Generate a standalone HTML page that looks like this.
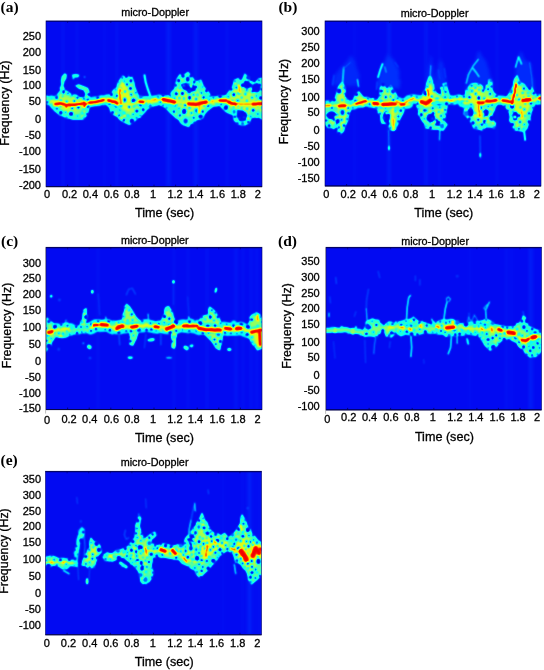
<!DOCTYPE html>
<html lang="en"><head><meta charset="utf-8"><title>micro-Doppler</title>
<style>html,body{margin:0;padding:0;background:#fff}body{width:544px;height:670px;overflow:hidden}svg{display:block}</style>
</head><body>
<svg width="544" height="670" viewBox="0 0 544 670">
<defs>
<filter id="jet" x="0" y="0" width="100%" height="100%" filterUnits="objectBoundingBox" color-interpolation-filters="sRGB">
<feConvolveMatrix order="3" kernelMatrix="1 2 1 2 4 2 1 2 1" divisor="16" edgeMode="duplicate" preserveAlpha="true"/>
<feComponentTransfer>
<feFuncR type="table" tableValues="0.01 0.00 0.00 0.00 0.20 0.55 0.85 1.00 1.00 1.00 0.95"/>
<feFuncG type="table" tableValues="0.04 0.20 0.58 1.00 1.00 1.00 1.00 0.90 0.50 0.12 0.00"/>
<feFuncB type="table" tableValues="0.95 1.00 1.00 1.00 0.75 0.40 0.10 0.00 0.00 0.00 0.00"/>
<feFuncA type="linear" slope="0" intercept="1"/>
</feComponentTransfer>
</filter>
<filter id="hz" x="-20%" y="-20%" width="140%" height="140%" color-interpolation-filters="sRGB"><feGaussianBlur stdDeviation="1.4"/></filter>
</defs>
<rect width="544" height="670" fill="#fff"/>
<svg x="46" y="21" width="216.00" height="165.70" viewBox="46 21 216.00 165.70" overflow="hidden">
<g filter="url(#jet)">
<rect x="41" y="16" width="226.00" height="175.70" fill="#000"/>
<g filter="url(#hz)">
<rect x="62.0" y="21.0" width="2.0" height="165.7" fill="#090909"/>
<rect x="76.2" y="21.0" width="1.5" height="165.7" fill="#090909"/>
<rect x="104.2" y="21.0" width="1.5" height="165.7" fill="#070707"/>
<rect x="116.0" y="21.0" width="1.5" height="165.7" fill="#0b0b0b"/>
<rect x="166.5" y="21.0" width="4.0" height="165.7" fill="#0c0c0c"/>
<rect x="194.2" y="21.0" width="3.5" height="165.7" fill="#0c0c0c"/>
<rect x="226.2" y="21.0" width="1.5" height="165.7" fill="#090909"/>
</g>
<polygon points="47.6,99.2 53.2,97.4 57.0,95.3 59.9,91.4 63.8,90.1 67.5,91.6 71.9,94.9 76.0,95.1 79.8,97.8 84.8,97.9 85.8,94.5 89.3,93.5 89.5,98.7 88.8,102.7 88.9,106.9 88.5,110.3 87.4,113.4 86.2,115.9 83.1,119.1 78.5,119.4 73.3,119.4 69.4,118.2 66.2,117.7 63.0,116.0 59.9,115.0 54.1,110.3 53.2,108.4 51.1,106.1 47.1,103.1" fill="#666666" stroke="#666666" stroke-width="0.8" stroke-linejoin="round"/>
<polygon points="60.7,91.3 60.0,87.9 61.5,85.1 61.2,80.5 62.0,76.4 64.6,73.5 66.5,74.5 66.0,78.5 64.2,81.6 63.1,85.7 64.6,89.4 64.3,91.6" fill="#666666" stroke="#666666" stroke-width="0.8" stroke-linejoin="round"/>
<ellipse cx="75.6" cy="75.7" rx="3.86" ry="1.99" fill="#5c5c5c"/>
<ellipse cx="73.4" cy="77.9" rx="1.10" ry="1.54" fill="#545454"/>
<ellipse cx="84.6" cy="77.0" rx="0.88" ry="0.88" fill="#404040"/>
<polygon points="75.5,85.8 78.7,84.6 84.0,86.6 87.9,88.2 88.8,90.5 89.9,94.7 86.0,95.0 85.1,92.6 83.7,89.9 78.9,88.5 77.0,86.9" fill="#6b6b6b" stroke="#6b6b6b" stroke-width="0.8" stroke-linejoin="round"/>
<path d="M46.0 99.6 L48.9 100.7 L51.5 100.4" fill="none" stroke="#4c4c4c" stroke-width="9.00" stroke-linecap="round" stroke-linejoin="round"/>
<path d="M51.5 100.4 L53.9 103.0 L54.8 104.9 L61.0 103.7 L63.0 103.4 L65.0 105.7 L68.1 105.2 L70.9 105.4 L74.1 104.2 L75.9 104.7 L78.3 103.6 L83.6 104.1 L86.1 103.7 L90.0 102.2 L91.0 102.0 L94.4 101.4 L98.4 101.3 L101.8 99.9 L104.2 100.3 L107.8 99.1" fill="none" stroke="#4c4c4c" stroke-width="10.12" stroke-linecap="round" stroke-linejoin="round"/>
<polygon points="106.2,98.7 109.1,95.8 111.7,93.2 113.6,90.0 117.0,87.7 117.7,83.7 120.4,79.2 122.9,75.9 125.8,79.2 128.5,77.2 130.8,73.7 131.9,77.0 133.0,79.9 133.9,82.6 134.7,86.7 136.3,91.0 137.3,93.5 139.1,96.6 146.0,97.2 149.5,96.8 153.1,97.6 158.4,96.9 162.4,96.8 161.6,102.9 159.0,103.9 155.3,105.2 151.6,106.3 149.0,107.9 146.6,109.5 144.6,112.3 142.1,114.8 139.0,117.1 135.2,120.4 132.5,122.4 129.5,124.6 124.2,122.2 120.8,120.2 117.7,116.7 113.9,114.7 110.8,111.9 109.7,107.4 106.8,104.9 106.5,100.9" fill="#666666" stroke="#666666" stroke-width="0.8" stroke-linejoin="round"/>
<path d="M144.5 75.2 L145.6 81.9 L147.6 88.5 L150.2 95.7" fill="none" stroke="#5c5c5c" stroke-width="2.40" stroke-linecap="round" stroke-linejoin="round"/>
<path d="M103.2 100.4 L106.5 100.2 L109.1 99.7 L111.7 101.4 L114.3 101.2 L118.5 103.4 L121.9 103.0 L124.0 104.4 L126.8 104.5 L129.1 103.6 L131.5 102.9 L134.8 103.1 L137.3 101.7 L139.1 101.2 L143.1 102.5 L146.1 100.7 L147.4 102.1 L150.8 101.3 L153.2 100.2 L156.2 99.6 L159.0 99.1 L161.8 100.8 L164.1 100.4" fill="none" stroke="#4c4c4c" stroke-width="9.56" stroke-linecap="round" stroke-linejoin="round"/>
<path d="M147.4 101.7 L149.7 101.2 L153.0 101.6 L155.5 101.5 L159.4 100.0 L162.6 99.7" fill="none" stroke="#4c4c4c" stroke-width="9.56" stroke-linecap="round" stroke-linejoin="round"/>
<polygon points="158.4,99.9 161.3,98.2 163.8,97.1 167.3,96.1 170.1,95.8 171.9,91.8 174.8,89.1 175.5,85.2 176.1,82.8 177.2,78.6 179.9,74.6 182.0,76.3 185.5,74.0 188.0,72.2 190.4,75.0 193.3,78.8 194.7,81.4 197.8,81.5 200.8,80.0 203.2,85.9 205.5,89.1 207.5,91.0 209.3,93.5 210.6,96.3 216.8,99.6 219.8,98.5 223.9,98.2 224.0,104.2 220.2,104.9 217.5,105.3 214.0,105.8 209.8,108.7 207.4,110.7 204.3,114.3 203.0,117.7 200.3,119.1 196.7,119.6 193.7,122.6 190.4,123.6 188.7,126.7 182.5,124.4 180.4,122.3 178.9,119.4 176.1,118.0 173.2,115.3 169.7,112.1 167.9,109.9 164.5,107.0 161.6,105.4 158.5,103.2" fill="#666666" stroke="#666666" stroke-width="0.8" stroke-linejoin="round"/>
<path d="M162.6 99.7 L166.1 100.5 L169.2 101.3 L172.1 101.9 L175.3 102.0 L177.3 102.5 L180.6 102.4 L182.7 102.3 L186.0 104.2 L188.2 103.1 L190.5 103.4 L193.3 104.2 L195.5 102.8 L198.3 103.2 L202.1 102.2 L203.5 102.5 L207.1 103.1 L208.7 101.3 L211.6 101.2 L214.7 101.8 L218.3 100.5 L220.6 100.3 L224.1 100.4" fill="none" stroke="#4c4c4c" stroke-width="10.12" stroke-linecap="round" stroke-linejoin="round"/>
<polygon points="216.5,100.0 219.9,98.1 222.4,97.0 226.2,95.6 228.8,91.9 232.2,88.0 233.5,83.9 234.4,80.1 238.4,78.5 239.9,81.6 242.6,79.5 244.8,74.0 248.1,77.2 249.9,81.8 255.1,83.0 259.0,78.7 262.9,78.2 263.0,81.4 263.1,84.1 263.1,87.4 263.5,91.1 262.8,93.9 263.0,97.4 263.2,100.6 262.8,104.1 263.3,107.0 262.7,109.5 263.0,113.3 262.9,115.8 262.8,119.5 259.0,117.0 255.9,116.8 251.3,117.7 249.3,122.6 245.1,124.9 241.2,124.8 238.4,124.1 234.4,120.5 233.1,114.6 229.5,113.5 226.1,111.7 224.8,110.5 222.3,108.0 219.7,105.4 215.5,103.4" fill="#666666" stroke="#666666" stroke-width="0.8" stroke-linejoin="round"/>
<path d="M214.6 101.0 L217.3 101.4 L219.1 100.9 L222.5 100.6 L227.3 99.7 L228.7 101.5 L231.4 102.2 L235.5 103.9 L237.5 103.3 L240.9 103.0 L242.8 104.8 L246.4 104.1 L250.6 104.9 L252.9 103.6 L255.2 104.7 L258.9 103.3 L261.5 103.5 L263.5 103.7" fill="none" stroke="#4c4c4c" stroke-width="10.12" stroke-linecap="round" stroke-linejoin="round"/>
<polygon points="56.6,101.3 60.0,100.2 62.4,98.9 64.2,96.5 66.6,95.7 68.9,96.6 71.6,98.7 74.2,98.8 76.5,100.4 79.6,100.5 80.2,98.4 82.4,97.8 82.5,101.0 82.1,103.5 82.1,106.1 81.9,108.2 81.2,110.1 80.5,111.7 78.6,113.7 75.7,113.9 72.5,113.9 70.1,113.1 68.1,112.8 66.1,111.8 64.2,111.1 60.6,108.2 60.0,107.0 58.7,105.6 56.2,103.8" fill="#7d7d7d" stroke="#7d7d7d" stroke-width="0.8" stroke-linejoin="round"/>
<path d="M46.0 99.6 L48.3 99.5 L51.5 100.4" fill="none" stroke="#666666" stroke-width="5.76" stroke-linecap="round" stroke-linejoin="round"/>
<path d="M51.5 100.4 L54.1 102.4 L55.6 104.2 L59.8 102.8 L62.4 104.7 L66.1 105.5 L67.9 105.0 L71.3 105.1 L73.7 105.3 L75.9 104.4 L79.4 104.6 L83.8 103.8 L86.3 104.6 L89.0 103.0 L92.4 103.0 L94.4 102.6 L99.4 101.6 L101.9 100.4 L104.6 99.8 L107.8 99.1" fill="none" stroke="#666666" stroke-width="6.48" stroke-linecap="round" stroke-linejoin="round"/>
<polygon points="116.0,99.0 117.8,97.1 119.4,95.5 120.6,93.5 122.7,92.1 123.1,89.6 124.8,86.9 126.4,84.8 128.1,86.9 129.8,85.6 131.2,83.4 132.0,85.5 132.6,87.3 133.2,89.0 133.7,91.5 134.7,94.2 135.3,95.8 136.4,97.6 140.7,98.1 142.9,97.8 145.1,98.3 148.3,97.9 150.8,97.8 150.3,101.6 148.7,102.2 146.4,103.0 144.2,103.6 142.6,104.7 141.0,105.6 139.8,107.4 138.3,109.0 136.3,110.4 134.0,112.4 132.3,113.6 130.5,115.0 127.2,113.6 125.0,112.3 123.1,110.1 120.8,108.9 118.8,107.2 118.2,104.4 116.4,102.8 116.2,100.3" fill="#7d7d7d" stroke="#7d7d7d" stroke-width="0.8" stroke-linejoin="round"/>
<path d="M103.2 100.4 L105.4 100.3 L108.9 100.2 L111.4 100.6 L115.2 101.0 L118.7 103.1 L121.4 104.2 L124.1 103.8 L127.0 104.1 L130.4 104.8 L131.8 104.3 L135.0 103.4 L137.6 102.2 L140.2 102.2 L142.8 101.9 L145.7 101.3 L148.5 100.7 L150.7 100.7 L152.8 100.0 L156.4 99.9 L158.4 100.6 L161.7 99.9 L164.1 100.4" fill="none" stroke="#666666" stroke-width="6.12" stroke-linecap="round" stroke-linejoin="round"/>
<path d="M147.4 101.7 L149.6 102.2 L153.2 102.0 L154.6 100.7 L158.6 100.4 L162.6 99.7" fill="none" stroke="#666666" stroke-width="6.12" stroke-linecap="round" stroke-linejoin="round"/>
<polygon points="170.3,99.8 172.1,98.7 173.7,98.0 175.8,97.4 177.6,97.2 178.7,94.8 180.5,93.1 180.9,90.7 181.3,89.2 182.0,86.6 183.6,84.1 185.0,85.1 187.1,83.7 188.7,82.6 190.2,84.3 192.0,86.7 192.8,88.3 194.7,88.4 196.6,87.4 198.1,91.1 199.5,93.1 200.8,94.3 201.9,95.8 202.7,97.5 206.5,99.6 208.4,98.9 210.9,98.7 211.0,102.5 208.6,102.9 206.9,103.1 204.8,103.4 202.2,105.2 200.7,106.5 198.8,108.7 198.0,110.8 196.3,111.7 194.1,112.0 192.2,113.9 190.2,114.5 189.1,116.4 185.3,115.0 184.0,113.7 183.0,111.9 181.3,111.0 179.5,109.3 177.3,107.3 176.2,106.0 174.1,104.2 172.3,103.2 170.4,101.8" fill="#7d7d7d" stroke="#7d7d7d" stroke-width="0.8" stroke-linejoin="round"/>
<path d="M162.6 99.7 L165.1 100.6 L168.3 100.8 L172.0 101.2 L174.1 102.2 L177.8 101.9 L180.1 103.1 L182.8 102.5 L185.0 103.9 L188.8 103.5 L191.1 103.5 L193.4 104.0 L196.5 102.8 L198.3 102.9 L201.4 103.2 L204.6 102.7 L206.4 101.9 L209.3 101.7 L212.7 101.7 L215.4 102.1 L217.8 101.1 L220.6 101.1 L224.1 100.4" fill="none" stroke="#666666" stroke-width="6.48" stroke-linecap="round" stroke-linejoin="round"/>
<polygon points="227.3,99.9 229.4,98.7 230.9,98.0 233.3,97.2 234.9,94.9 237.0,92.5 237.8,89.9 238.4,87.5 240.9,86.6 241.8,88.5 243.5,87.2 244.8,83.8 246.9,85.8 248.0,88.6 251.2,89.4 253.6,86.7 256.0,86.4 256.1,88.4 256.2,90.0 256.2,92.1 256.4,94.4 256.0,96.1 256.1,98.3 256.3,100.3 256.0,102.4 256.3,104.2 255.9,105.8 256.1,108.1 256.1,109.7 256.0,112.0 253.6,110.4 251.7,110.3 248.8,110.9 247.6,113.9 245.0,115.3 242.6,115.3 240.9,114.8 238.4,112.6 237.6,108.9 235.3,108.2 233.2,107.1 232.5,106.4 230.9,104.8 229.3,103.3 226.7,102.0" fill="#7d7d7d" stroke="#7d7d7d" stroke-width="0.8" stroke-linejoin="round"/>
<path d="M214.6 101.0 L217.2 100.3 L220.4 101.1 L222.7 100.7 L226.0 101.2 L228.5 101.3 L232.1 102.8 L235.3 103.8 L238.0 103.0 L241.0 104.4 L243.6 103.5 L246.4 103.8 L250.1 103.7 L252.5 103.7 L255.8 104.4 L258.1 104.1 L261.4 103.9 L263.5 103.7" fill="none" stroke="#666666" stroke-width="6.48" stroke-linecap="round" stroke-linejoin="round"/>
<polygon points="181.1,84.5 185.7,83.2 193.7,85.2 195.7,90.5 189.7,91.8 183.1,89.1" fill="#000000" stroke="#000000" stroke-width="0.8" stroke-linejoin="round"/>
<ellipse cx="187.7" cy="79.2" rx="1.9" ry="2.6" fill="#000000"/>
<ellipse cx="247.0" cy="84.5" rx="3.4" ry="4.2" fill="#000000"/>
<ellipse cx="256.2" cy="87.8" rx="4.5" ry="4.8" fill="#000000"/>
<polygon points="237.7,109.6 243.7,109.0 247.0,114.9 245.7,120.2 239.7,120.9 237.1,116.3" fill="#000000" stroke="#000000" stroke-width="0.8" stroke-linejoin="round"/>
<circle cx="84.2" cy="111.6" r="1.24" fill="#848484"/>
<circle cx="61.2" cy="95.5" r="1.49" fill="#888888"/>
<circle cx="65.1" cy="92.3" r="1.23" fill="#9d9d9d"/>
<circle cx="61.1" cy="101.9" r="1.45" fill="#979797"/>
<circle cx="82.2" cy="116.8" r="1.01" fill="#8f8f8f"/>
<circle cx="60.1" cy="102.4" r="1.36" fill="#9d9d9d"/>
<circle cx="64.8" cy="94.7" r="1.17" fill="#858585"/>
<circle cx="49.6" cy="102.3" r="1.46" fill="#9d9d9d"/>
<circle cx="82.9" cy="105.2" r="1.23" fill="#888888"/>
<circle cx="54.3" cy="105.3" r="1.42" fill="#929292"/>
<circle cx="58.2" cy="97.2" r="1.30" fill="#9a9a9a"/>
<circle cx="86.8" cy="96.7" r="0.94" fill="#8f8f8f"/>
<circle cx="56.9" cy="97.3" r="1.15" fill="#999999"/>
<circle cx="67.7" cy="95.9" r="0.95" fill="#868686"/>
<circle cx="72.8" cy="97.4" r="0.95" fill="#8f8f8f"/>
<circle cx="82.2" cy="113.4" r="1.37" fill="#8d8d8d"/>
<circle cx="75.3" cy="101.7" r="1.41" fill="#939393"/>
<circle cx="59.8" cy="104.3" r="1.04" fill="#929292"/>
<circle cx="74.8" cy="108.3" r="1.17" fill="#888888"/>
<circle cx="69.0" cy="108.3" r="1.11" fill="#878787"/>
<circle cx="81.6" cy="104.3" r="1.46" fill="#828282"/>
<circle cx="70.0" cy="105.0" r="1.20" fill="#959595"/>
<circle cx="128.7" cy="109.9" r="1.41" fill="#999999"/>
<circle cx="139.8" cy="116.4" r="1.35" fill="#9c9c9c"/>
<circle cx="116.7" cy="91.0" r="1.20" fill="#808080"/>
<circle cx="122.2" cy="118.1" r="1.49" fill="#8f8f8f"/>
<circle cx="123.6" cy="107.1" r="1.39" fill="#8d8d8d"/>
<circle cx="130.5" cy="110.0" r="1.01" fill="#8a8a8a"/>
<circle cx="119.9" cy="116.0" r="1.35" fill="#8c8c8c"/>
<circle cx="112.7" cy="99.8" r="1.07" fill="#939393"/>
<circle cx="124.6" cy="115.8" r="1.41" fill="#959595"/>
<circle cx="125.1" cy="120.9" r="0.94" fill="#9e9e9e"/>
<circle cx="115.8" cy="114.2" r="1.46" fill="#838383"/>
<circle cx="120.1" cy="118.3" r="1.47" fill="#8b8b8b"/>
<circle cx="130.1" cy="74.9" r="1.49" fill="#929292"/>
<circle cx="125.2" cy="85.1" r="1.37" fill="#8f8f8f"/>
<circle cx="126.8" cy="97.4" r="1.40" fill="#868686"/>
<circle cx="109.0" cy="101.1" r="1.03" fill="#818181"/>
<circle cx="112.3" cy="98.1" r="1.16" fill="#888888"/>
<circle cx="122.7" cy="98.9" r="1.05" fill="#9d9d9d"/>
<circle cx="125.3" cy="96.9" r="1.47" fill="#8f8f8f"/>
<circle cx="119.4" cy="97.9" r="1.49" fill="#999999"/>
<circle cx="123.7" cy="77.4" r="1.46" fill="#898989"/>
<circle cx="110.8" cy="95.1" r="1.36" fill="#8b8b8b"/>
<circle cx="132.4" cy="109.6" r="0.93" fill="#919191"/>
<circle cx="149.0" cy="104.9" r="1.17" fill="#9d9d9d"/>
<circle cx="151.4" cy="100.8" r="1.11" fill="#878787"/>
<circle cx="145.3" cy="100.5" r="1.32" fill="#838383"/>
<circle cx="116.8" cy="102.6" r="0.90" fill="#9b9b9b"/>
<circle cx="154.4" cy="101.2" r="0.96" fill="#8b8b8b"/>
<circle cx="124.3" cy="100.2" r="1.16" fill="#848484"/>
<circle cx="107.0" cy="96.8" r="0.99" fill="#868686"/>
<circle cx="112.1" cy="103.0" r="1.24" fill="#888888"/>
<circle cx="146.2" cy="102.4" r="1.02" fill="#9a9a9a"/>
<circle cx="160.5" cy="97.6" r="1.41" fill="#8b8b8b"/>
<circle cx="151.4" cy="103.8" r="1.04" fill="#9d9d9d"/>
<circle cx="182.6" cy="105.3" r="1.05" fill="#939393"/>
<circle cx="202.4" cy="96.3" r="1.37" fill="#828282"/>
<circle cx="181.3" cy="116.8" r="1.35" fill="#808080"/>
<circle cx="192.2" cy="115.0" r="1.16" fill="#909090"/>
<circle cx="184.1" cy="101.4" r="1.30" fill="#939393"/>
<circle cx="191.2" cy="86.8" r="1.02" fill="#909090"/>
<circle cx="186.2" cy="102.2" r="1.48" fill="#828282"/>
<circle cx="175.2" cy="90.0" r="0.93" fill="#858585"/>
<circle cx="178.1" cy="91.9" r="1.36" fill="#8d8d8d"/>
<circle cx="207.9" cy="102.4" r="1.47" fill="#909090"/>
<circle cx="216.2" cy="101.6" r="1.15" fill="#838383"/>
<circle cx="194.8" cy="97.5" r="1.16" fill="#949494"/>
<circle cx="214.1" cy="103.7" r="1.30" fill="#969696"/>
<circle cx="193.6" cy="104.9" r="1.46" fill="#959595"/>
<circle cx="212.7" cy="99.3" r="1.41" fill="#838383"/>
<circle cx="208.9" cy="108.2" r="1.12" fill="#8f8f8f"/>
<circle cx="188.4" cy="99.6" r="1.21" fill="#9b9b9b"/>
<circle cx="181.1" cy="80.0" r="1.41" fill="#8e8e8e"/>
<circle cx="202.0" cy="87.8" r="1.18" fill="#808080"/>
<circle cx="197.2" cy="111.2" r="0.91" fill="#9b9b9b"/>
<circle cx="199.6" cy="94.7" r="1.15" fill="#8e8e8e"/>
<circle cx="178.6" cy="118.7" r="0.91" fill="#949494"/>
<circle cx="204.8" cy="89.2" r="1.23" fill="#8d8d8d"/>
<circle cx="167.6" cy="102.8" r="1.28" fill="#858585"/>
<circle cx="161.1" cy="104.8" r="1.25" fill="#868686"/>
<circle cx="185.9" cy="111.6" r="1.00" fill="#888888"/>
<circle cx="190.4" cy="110.7" r="1.45" fill="#8a8a8a"/>
<circle cx="200.8" cy="82.0" r="1.43" fill="#828282"/>
<circle cx="176.1" cy="114.2" r="0.99" fill="#808080"/>
<circle cx="176.1" cy="100.4" r="0.95" fill="#8b8b8b"/>
<circle cx="174.3" cy="103.2" r="1.14" fill="#949494"/>
<circle cx="220.4" cy="104.3" r="1.32" fill="#9b9b9b"/>
<circle cx="176.8" cy="95.6" r="1.36" fill="#8d8d8d"/>
<circle cx="193.3" cy="97.6" r="1.18" fill="#949494"/>
<circle cx="168.5" cy="96.7" r="1.26" fill="#858585"/>
<circle cx="190.8" cy="85.1" r="1.37" fill="#9c9c9c"/>
<circle cx="212.7" cy="104.5" r="1.00" fill="#8a8a8a"/>
<circle cx="162.7" cy="102.9" r="1.20" fill="#8b8b8b"/>
<circle cx="222.9" cy="99.6" r="1.36" fill="#929292"/>
<circle cx="198.9" cy="100.7" r="1.33" fill="#8c8c8c"/>
<circle cx="164.0" cy="101.7" r="1.48" fill="#999999"/>
<circle cx="202.1" cy="102.5" r="1.25" fill="#989898"/>
<circle cx="174.3" cy="101.0" r="0.98" fill="#8a8a8a"/>
<circle cx="175.7" cy="101.8" r="1.49" fill="#969696"/>
<circle cx="252.4" cy="99.0" r="1.17" fill="#8b8b8b"/>
<circle cx="259.0" cy="81.1" r="1.31" fill="#9b9b9b"/>
<circle cx="248.7" cy="113.4" r="1.22" fill="#8b8b8b"/>
<circle cx="244.4" cy="98.3" r="1.25" fill="#818181"/>
<circle cx="245.2" cy="110.9" r="1.15" fill="#848484"/>
<circle cx="235.1" cy="82.9" r="1.29" fill="#999999"/>
<circle cx="242.4" cy="98.2" r="1.20" fill="#878787"/>
<circle cx="248.0" cy="118.3" r="1.37" fill="#949494"/>
<circle cx="228.9" cy="108.3" r="1.42" fill="#878787"/>
<circle cx="247.2" cy="80.0" r="1.09" fill="#8b8b8b"/>
<circle cx="234.9" cy="107.7" r="1.04" fill="#8a8a8a"/>
<circle cx="255.7" cy="108.5" r="1.31" fill="#919191"/>
<circle cx="257.0" cy="116.7" r="1.39" fill="#828282"/>
<circle cx="248.4" cy="121.6" r="1.01" fill="#939393"/>
<circle cx="225.5" cy="96.4" r="1.05" fill="#868686"/>
<circle cx="244.7" cy="102.3" r="0.99" fill="#919191"/>
<circle cx="249.2" cy="94.7" r="1.41" fill="#9c9c9c"/>
<circle cx="225.7" cy="100.5" r="0.97" fill="#969696"/>
<circle cx="233.0" cy="105.1" r="1.00" fill="#868686"/>
<circle cx="251.3" cy="82.4" r="1.40" fill="#848484"/>
<circle cx="224.3" cy="105.9" r="1.00" fill="#888888"/>
<circle cx="231.7" cy="100.7" r="1.28" fill="#878787"/>
<circle cx="261.0" cy="110.3" r="1.47" fill="#8a8a8a"/>
<circle cx="256.0" cy="106.6" r="0.90" fill="#838383"/>
<circle cx="254.8" cy="106.5" r="1.35" fill="#969696"/>
<circle cx="217.5" cy="98.0" r="0.92" fill="#848484"/>
<circle cx="217.5" cy="101.1" r="1.19" fill="#919191"/>
<polygon points="47.6,99.2 53.2,97.4 57.0,95.3 59.9,91.4 63.8,90.1 67.5,91.6 71.9,94.9 76.0,95.1 79.8,97.8 84.8,97.9 85.8,94.5 89.3,93.5 89.5,98.7 88.8,102.7 88.9,106.9 88.5,110.3 87.4,113.4 86.2,115.9 83.1,119.1 78.5,119.4 73.3,119.4 69.4,118.2 66.2,117.7 63.0,116.0 59.9,115.0 54.1,110.3 53.2,108.4 51.1,106.1 47.1,103.1" fill="none" stroke="#5c5c5c" stroke-width="1.3" stroke-linejoin="round"/>
<polygon points="53.7,100.4 61.4,96.0 68.1,98.2 82.4,99.3 85.7,102.4 84.6,107.0 76.9,110.3 68.1,112.5 62.5,109.2 55.9,105.9" fill="#8c8c8c" stroke="#8c8c8c" stroke-width="0.8" stroke-linejoin="round"/>
<path d="M46.0 99.6 L49.2 100.4 L51.5 100.4" fill="none" stroke="#737373" stroke-width="3.24" stroke-linecap="round" stroke-linejoin="round"/>
<path d="M51.5 100.4 L52.9 102.4 L56.0 104.5 L60.6 103.4 L63.4 104.3 L65.8 105.2 L68.1 105.1 L70.8 104.9 L73.9 104.2 L76.8 104.3 L79.2 104.6 L83.2 102.9 L85.7 104.3 L88.9 102.3 L92.4 102.6 L94.5 102.6 L98.7 101.7 L101.3 100.5 L104.8 100.1 L107.8 99.1" fill="none" stroke="#808080" stroke-width="3.65" stroke-linecap="round" stroke-linejoin="round"/>
<polygon points="106.2,98.7 109.1,95.8 111.7,93.2 113.6,90.0 117.0,87.7 117.7,83.7 120.4,79.2 122.9,75.9 125.8,79.2 128.5,77.2 130.8,73.7 131.9,77.0 133.0,79.9 133.9,82.6 134.7,86.7 136.3,91.0 137.3,93.5 139.1,96.6 146.0,97.2 149.5,96.8 153.1,97.6 158.4,96.9 162.4,96.8 161.6,102.9 159.0,103.9 155.3,105.2 151.6,106.3 149.0,107.9 146.6,109.5 144.6,112.3 142.1,114.8 139.0,117.1 135.2,120.4 132.5,122.4 129.5,124.6 124.2,122.2 120.8,120.2 117.7,116.7 113.9,114.7 110.8,111.9 109.7,107.4 106.8,104.9 106.5,100.9" fill="none" stroke="#5c5c5c" stroke-width="1.3" stroke-linejoin="round"/>
<polygon points="118.5,88.5 122.4,81.9 125.1,85.8 129.7,96.4 132.4,105.7 128.4,111.0 123.1,108.3 119.8,104.4 117.1,99.1" fill="#999999" stroke="#999999" stroke-width="0.8" stroke-linejoin="round"/>
<path d="M103.2 100.4 L106.1 100.5 L108.6 100.2 L112.4 101.2 L115.4 102.0 L118.7 102.1 L121.2 104.0 L123.7 103.8 L126.3 103.8 L129.6 103.9 L131.9 104.2 L134.7 103.0 L137.7 102.4 L140.2 101.9 L142.9 101.1 L145.5 101.7 L147.7 101.8 L150.5 100.7 L153.1 100.2 L156.3 99.2 L159.4 99.8 L161.5 100.3 L164.1 100.4" fill="none" stroke="#808080" stroke-width="3.44" stroke-linecap="round" stroke-linejoin="round"/>
<path d="M147.4 101.7 L150.1 101.1 L152.7 100.9 L154.8 101.5 L159.0 100.7 L162.6 99.7" fill="none" stroke="#808080" stroke-width="3.44" stroke-linecap="round" stroke-linejoin="round"/>
<polygon points="158.4,99.9 161.3,98.2 163.8,97.1 167.3,96.1 170.1,95.8 171.9,91.8 174.8,89.1 175.5,85.2 176.1,82.8 177.2,78.6 179.9,74.6 182.0,76.3 185.5,74.0 188.0,72.2 190.4,75.0 193.3,78.8 194.7,81.4 197.8,81.5 200.8,80.0 203.2,85.9 205.5,89.1 207.5,91.0 209.3,93.5 210.6,96.3 216.8,99.6 219.8,98.5 223.9,98.2 224.0,104.2 220.2,104.9 217.5,105.3 214.0,105.8 209.8,108.7 207.4,110.7 204.3,114.3 203.0,117.7 200.3,119.1 196.7,119.6 193.7,122.6 190.4,123.6 188.7,126.7 182.5,124.4 180.4,122.3 178.9,119.4 176.1,118.0 173.2,115.3 169.7,112.1 167.9,109.9 164.5,107.0 161.6,105.4 158.5,103.2" fill="none" stroke="#5c5c5c" stroke-width="1.3" stroke-linejoin="round"/>
<polygon points="178.5,85.8 181.1,92.4 189.7,96.4 205.6,99.1 208.2,104.4 200.3,112.3 189.7,108.3 179.1,105.7 175.1,100.4" fill="#8c8c8c" stroke="#8c8c8c" stroke-width="0.8" stroke-linejoin="round"/>
<path d="M162.6 99.7 L165.0 100.6 L168.9 101.1 L171.0 100.9 L174.7 101.2 L177.2 102.1 L180.6 102.6 L183.3 102.7 L185.9 103.2 L188.9 103.2 L191.4 103.1 L193.7 103.3 L195.9 103.5 L198.7 102.7 L201.1 102.5 L204.2 102.8 L206.7 102.6 L209.1 101.9 L212.2 102.3 L215.6 101.6 L217.6 100.9 L221.4 100.4 L224.1 100.4" fill="none" stroke="#808080" stroke-width="3.65" stroke-linecap="round" stroke-linejoin="round"/>
<polygon points="216.5,100.0 219.9,98.1 222.4,97.0 226.2,95.6 228.8,91.9 232.2,88.0 233.5,83.9 234.4,80.1 238.4,78.5 239.9,81.6 242.6,79.5 244.8,74.0 248.1,77.2 249.9,81.8 255.1,83.0 259.0,78.7 262.9,78.2 263.0,81.4 263.1,84.1 263.1,87.4 263.5,91.1 262.8,93.9 263.0,97.4 263.2,100.6 262.8,104.1 263.3,107.0 262.7,109.5 263.0,113.3 262.9,115.8 262.8,119.5 259.0,117.0 255.9,116.8 251.3,117.7 249.3,122.6 245.1,124.9 241.2,124.8 238.4,124.1 234.4,120.5 233.1,114.6 229.5,113.5 226.1,111.7 224.8,110.5 222.3,108.0 219.7,105.4 215.5,103.4" fill="none" stroke="#5c5c5c" stroke-width="1.3" stroke-linejoin="round"/>
<polygon points="229.1,96.4 238.4,84.5 241.0,91.1 252.9,99.1 262.2,100.4 262.2,108.3 250.3,111.0 239.7,109.6 230.4,107.0" fill="#8c8c8c" stroke="#8c8c8c" stroke-width="0.8" stroke-linejoin="round"/>
<path d="M214.6 101.0 L216.9 100.5 L220.4 100.6 L222.9 100.7 L226.0 101.2 L229.0 101.9 L231.8 102.5 L234.9 103.0 L237.4 103.9 L240.2 103.6 L244.0 103.8 L246.5 104.1 L249.5 104.6 L253.5 103.5 L255.5 104.3 L258.1 104.4 L260.9 103.4 L263.5 103.7" fill="none" stroke="#808080" stroke-width="3.65" stroke-linecap="round" stroke-linejoin="round"/>
<ellipse cx="82.3" cy="113.2" rx="0.90" ry="0.89" fill="#141414"/>
<ellipse cx="62.5" cy="96.5" rx="0.90" ry="0.82" fill="#292929"/>
<ellipse cx="88.9" cy="94.4" rx="1.50" ry="1.63" fill="#000000"/>
<ellipse cx="47.2" cy="102.1" rx="1.80" ry="1.64" fill="#141414"/>
<ellipse cx="70.6" cy="104.0" rx="0.90" ry="1.16" fill="#292929"/>
<ellipse cx="56.8" cy="97.5" rx="1.80" ry="2.22" fill="#141414"/>
<ellipse cx="66.6" cy="117.5" rx="1.30" ry="1.29" fill="#292929"/>
<ellipse cx="78.3" cy="106.8" rx="1.80" ry="2.28" fill="#000000"/>
<ellipse cx="66.7" cy="101.6" rx="1.10" ry="1.12" fill="#000000"/>
<ellipse cx="77.4" cy="98.0" rx="1.30" ry="1.14" fill="#000000"/>
<ellipse cx="60.8" cy="112.7" rx="1.80" ry="2.07" fill="#000000"/>
<ellipse cx="55.0" cy="105.2" rx="1.10" ry="0.95" fill="#000000"/>
<ellipse cx="71.1" cy="113.8" rx="2.30" ry="2.26" fill="#000000"/>
<ellipse cx="57.0" cy="108.7" rx="0.90" ry="1.09" fill="#000000"/>
<ellipse cx="63.7" cy="91.9" rx="1.50" ry="1.90" fill="#000000"/>
<ellipse cx="77.6" cy="116.1" rx="0.90" ry="0.77" fill="#000000"/>
<ellipse cx="60.8" cy="101.1" rx="1.30" ry="1.26" fill="#000000"/>
<ellipse cx="74.3" cy="101.4" rx="1.30" ry="1.66" fill="#000000"/>
<ellipse cx="88.1" cy="99.9" rx="1.30" ry="1.17" fill="#000000"/>
<ellipse cx="87.1" cy="105.9" rx="2.30" ry="2.03" fill="#000000"/>
<ellipse cx="60.7" cy="105.9" rx="1.10" ry="0.95" fill="#000000"/>
<ellipse cx="65.7" cy="112.3" rx="1.10" ry="0.97" fill="#141414"/>
<ellipse cx="87.0" cy="113.9" rx="1.10" ry="0.98" fill="#000000"/>
<ellipse cx="67.9" cy="93.6" rx="0.90" ry="1.12" fill="#000000"/>
<ellipse cx="83.5" cy="117.8" rx="0.90" ry="0.81" fill="#141414"/>
<ellipse cx="72.0" cy="95.1" rx="0.90" ry="0.95" fill="#000000"/>
<ellipse cx="66.3" cy="107.4" rx="1.50" ry="1.52" fill="#292929"/>
<ellipse cx="51.4" cy="99.1" rx="1.10" ry="0.95" fill="#000000"/>
<ellipse cx="79.4" cy="101.9" rx="0.90" ry="0.88" fill="#000000"/>
<ellipse cx="83.7" cy="98.9" rx="1.10" ry="1.30" fill="#141414"/>
<ellipse cx="94.1" cy="104.0" rx="1.50" ry="1.36" fill="#000000"/>
<ellipse cx="105.5" cy="99.3" rx="1.50" ry="1.37" fill="#000000"/>
<ellipse cx="99.3" cy="102.6" rx="0.90" ry="1.04" fill="#292929"/>
<ellipse cx="72.2" cy="108.2" rx="1.30" ry="1.28" fill="#000000"/>
<ellipse cx="97.8" cy="98.4" rx="1.50" ry="1.83" fill="#000000"/>
<ellipse cx="133.5" cy="100.8" rx="2.30" ry="2.46" fill="#000000"/>
<ellipse cx="135.6" cy="92.7" rx="0.90" ry="1.04" fill="#000000"/>
<ellipse cx="128.1" cy="115.8" rx="0.90" ry="1.03" fill="#292929"/>
<ellipse cx="136.8" cy="111.0" rx="1.80" ry="1.65" fill="#000000"/>
<ellipse cx="115.9" cy="106.4" rx="1.50" ry="1.95" fill="#292929"/>
<ellipse cx="112.6" cy="112.5" rx="1.50" ry="1.49" fill="#000000"/>
<ellipse cx="150.1" cy="100.2" rx="1.30" ry="1.30" fill="#141414"/>
<ellipse cx="155.6" cy="101.4" rx="0.90" ry="0.98" fill="#000000"/>
<ellipse cx="129.2" cy="106.9" rx="1.30" ry="1.37" fill="#000000"/>
<ellipse cx="119.9" cy="110.1" rx="1.10" ry="1.42" fill="#292929"/>
<ellipse cx="124.8" cy="99.9" rx="1.80" ry="2.31" fill="#141414"/>
<ellipse cx="140.8" cy="96.9" rx="2.30" ry="2.00" fill="#292929"/>
<ellipse cx="124.0" cy="120.1" rx="1.50" ry="1.62" fill="#000000"/>
<ellipse cx="131.9" cy="120.9" rx="2.30" ry="2.52" fill="#000000"/>
<ellipse cx="115.9" cy="90.0" rx="0.90" ry="1.06" fill="#141414"/>
<ellipse cx="130.9" cy="80.8" rx="1.50" ry="1.88" fill="#000000"/>
<ellipse cx="122.5" cy="77.9" rx="0.90" ry="1.14" fill="#000000"/>
<ellipse cx="140.3" cy="104.5" rx="1.80" ry="2.33" fill="#141414"/>
<ellipse cx="117.1" cy="95.8" rx="1.30" ry="1.54" fill="#000000"/>
<ellipse cx="121.2" cy="105.6" rx="1.10" ry="1.42" fill="#000000"/>
<ellipse cx="150.2" cy="106.0" rx="1.80" ry="2.23" fill="#292929"/>
<ellipse cx="130.5" cy="88.4" rx="1.80" ry="1.57" fill="#000000"/>
<ellipse cx="140.0" cy="115.4" rx="0.90" ry="0.80" fill="#000000"/>
<ellipse cx="109.5" cy="103.6" rx="1.50" ry="1.41" fill="#141414"/>
<ellipse cx="133.1" cy="114.3" rx="0.90" ry="1.01" fill="#000000"/>
<ellipse cx="119.3" cy="115.4" rx="1.10" ry="1.23" fill="#000000"/>
<ellipse cx="124.4" cy="81.2" rx="0.90" ry="0.92" fill="#141414"/>
<ellipse cx="125.1" cy="91.5" rx="1.10" ry="1.05" fill="#000000"/>
<ellipse cx="120.4" cy="88.5" rx="1.30" ry="1.12" fill="#000000"/>
<ellipse cx="124.1" cy="112.9" rx="0.90" ry="1.16" fill="#292929"/>
<ellipse cx="111.4" cy="94.4" rx="1.50" ry="1.78" fill="#000000"/>
<ellipse cx="136.5" cy="117.8" rx="1.30" ry="1.59" fill="#292929"/>
<ellipse cx="134.0" cy="106.5" rx="0.90" ry="0.81" fill="#292929"/>
<ellipse cx="131.2" cy="94.7" rx="1.10" ry="1.39" fill="#000000"/>
<ellipse cx="158.0" cy="97.3" rx="1.50" ry="1.29" fill="#292929"/>
<ellipse cx="146.2" cy="102.8" rx="0.90" ry="0.98" fill="#000000"/>
<ellipse cx="118.1" cy="102.4" rx="0.90" ry="1.02" fill="#000000"/>
<ellipse cx="120.9" cy="92.9" rx="0.90" ry="1.17" fill="#000000"/>
<ellipse cx="143.2" cy="109.8" rx="1.50" ry="1.80" fill="#000000"/>
<ellipse cx="126.9" cy="84.6" rx="1.30" ry="1.40" fill="#000000"/>
<ellipse cx="130.7" cy="74.7" rx="2.30" ry="2.28" fill="#000000"/>
<ellipse cx="118.7" cy="82.6" rx="0.90" ry="0.80" fill="#292929"/>
<ellipse cx="160.6" cy="101.5" rx="1.30" ry="1.33" fill="#000000"/>
<ellipse cx="113.7" cy="101.9" rx="0.90" ry="0.96" fill="#000000"/>
<ellipse cx="163.1" cy="97.0" rx="1.50" ry="1.93" fill="#000000"/>
<ellipse cx="175.9" cy="85.3" rx="1.30" ry="1.65" fill="#141414"/>
<ellipse cx="197.6" cy="94.9" rx="0.90" ry="1.11" fill="#292929"/>
<ellipse cx="173.9" cy="111.7" rx="1.30" ry="1.42" fill="#000000"/>
<ellipse cx="200.6" cy="116.6" rx="2.30" ry="2.10" fill="#000000"/>
<ellipse cx="197.5" cy="103.8" rx="1.50" ry="1.71" fill="#141414"/>
<ellipse cx="210.2" cy="95.9" rx="0.90" ry="0.96" fill="#141414"/>
<ellipse cx="202.6" cy="101.9" rx="0.90" ry="0.84" fill="#000000"/>
<ellipse cx="184.2" cy="111.3" rx="2.30" ry="2.91" fill="#000000"/>
<ellipse cx="185.4" cy="104.9" rx="1.50" ry="1.66" fill="#000000"/>
<ellipse cx="183.8" cy="85.5" rx="1.50" ry="1.50" fill="#292929"/>
<ellipse cx="188.9" cy="84.3" rx="1.50" ry="1.60" fill="#292929"/>
<ellipse cx="202.6" cy="111.4" rx="1.30" ry="1.60" fill="#000000"/>
<ellipse cx="163.0" cy="105.3" rx="1.10" ry="0.99" fill="#141414"/>
<ellipse cx="185.6" cy="121.0" rx="2.30" ry="2.80" fill="#141414"/>
<ellipse cx="204.1" cy="105.6" rx="0.90" ry="1.09" fill="#000000"/>
<ellipse cx="189.6" cy="97.8" rx="1.80" ry="2.32" fill="#000000"/>
<ellipse cx="189.2" cy="91.6" rx="2.30" ry="2.25" fill="#141414"/>
<ellipse cx="189.6" cy="107.8" rx="1.10" ry="1.00" fill="#000000"/>
<ellipse cx="183.0" cy="76.0" rx="1.80" ry="1.87" fill="#000000"/>
<ellipse cx="199.7" cy="82.0" rx="1.30" ry="1.12" fill="#292929"/>
<ellipse cx="169.8" cy="102.5" rx="0.90" ry="1.16" fill="#141414"/>
<ellipse cx="221.1" cy="104.1" rx="1.10" ry="1.40" fill="#141414"/>
<ellipse cx="176.4" cy="93.9" rx="1.80" ry="1.83" fill="#000000"/>
<ellipse cx="195.6" cy="87.1" rx="1.80" ry="1.69" fill="#000000"/>
<ellipse cx="214.2" cy="102.0" rx="0.90" ry="0.88" fill="#141414"/>
<ellipse cx="190.1" cy="103.6" rx="0.90" ry="0.85" fill="#000000"/>
<ellipse cx="182.4" cy="93.6" rx="1.80" ry="2.05" fill="#000000"/>
<ellipse cx="179.1" cy="108.4" rx="0.90" ry="1.02" fill="#000000"/>
<ellipse cx="202.3" cy="87.2" rx="0.90" ry="1.02" fill="#141414"/>
<ellipse cx="194.1" cy="122.2" rx="0.90" ry="1.01" fill="#141414"/>
<ellipse cx="191.4" cy="113.1" rx="1.10" ry="1.12" fill="#000000"/>
<ellipse cx="196.5" cy="110.6" rx="2.30" ry="2.45" fill="#292929"/>
<ellipse cx="183.9" cy="98.5" rx="0.90" ry="1.10" fill="#000000"/>
<ellipse cx="180.0" cy="115.6" rx="1.30" ry="1.24" fill="#000000"/>
<ellipse cx="208.1" cy="106.0" rx="1.10" ry="1.21" fill="#000000"/>
<ellipse cx="201.4" cy="93.1" rx="1.10" ry="0.99" fill="#000000"/>
<ellipse cx="166.7" cy="107.8" rx="1.30" ry="1.20" fill="#292929"/>
<ellipse cx="190.8" cy="75.9" rx="1.50" ry="1.72" fill="#000000"/>
<ellipse cx="174.7" cy="98.5" rx="1.10" ry="1.09" fill="#000000"/>
<ellipse cx="179.4" cy="98.0" rx="0.90" ry="0.98" fill="#000000"/>
<ellipse cx="178.8" cy="80.6" rx="1.80" ry="1.90" fill="#000000"/>
<ellipse cx="206.4" cy="90.8" rx="1.50" ry="1.75" fill="#000000"/>
<ellipse cx="203.5" cy="97.5" rx="1.30" ry="1.65" fill="#000000"/>
<ellipse cx="175.5" cy="105.1" rx="1.50" ry="1.66" fill="#292929"/>
<ellipse cx="170.2" cy="95.5" rx="0.90" ry="1.10" fill="#000000"/>
<ellipse cx="194.2" cy="82.1" rx="1.30" ry="1.61" fill="#000000"/>
<ellipse cx="223.4" cy="100.6" rx="1.10" ry="1.17" fill="#292929"/>
<ellipse cx="193.7" cy="117.8" rx="1.10" ry="1.19" fill="#000000"/>
<ellipse cx="213.3" cy="98.1" rx="0.90" ry="0.98" fill="#000000"/>
<ellipse cx="193.6" cy="94.9" rx="0.90" ry="1.16" fill="#000000"/>
<ellipse cx="181.3" cy="103.5" rx="0.90" ry="0.87" fill="#000000"/>
<ellipse cx="179.4" cy="88.1" rx="0.90" ry="0.82" fill="#141414"/>
<ellipse cx="220.1" cy="96.9" rx="1.80" ry="1.64" fill="#000000"/>
<ellipse cx="196.1" cy="99.1" rx="1.30" ry="1.36" fill="#141414"/>
<ellipse cx="209.3" cy="100.8" rx="1.30" ry="1.49" fill="#000000"/>
<ellipse cx="257.7" cy="114.1" rx="1.50" ry="1.46" fill="#292929"/>
<ellipse cx="246.9" cy="100.8" rx="0.90" ry="1.02" fill="#000000"/>
<ellipse cx="253.2" cy="110.2" rx="1.80" ry="1.65" fill="#000000"/>
<ellipse cx="237.7" cy="100.7" rx="1.80" ry="1.67" fill="#292929"/>
<ellipse cx="243.0" cy="85.2" rx="2.30" ry="2.07" fill="#000000"/>
<ellipse cx="233.8" cy="94.7" rx="1.80" ry="1.87" fill="#000000"/>
<ellipse cx="239.0" cy="93.3" rx="1.50" ry="1.32" fill="#141414"/>
<ellipse cx="260.8" cy="98.1" rx="1.80" ry="2.01" fill="#000000"/>
<ellipse cx="260.0" cy="84.9" rx="1.30" ry="1.35" fill="#000000"/>
<ellipse cx="225.9" cy="107.7" rx="2.30" ry="2.39" fill="#000000"/>
<ellipse cx="242.6" cy="123.4" rx="1.80" ry="1.88" fill="#292929"/>
<ellipse cx="252.0" cy="97.8" rx="1.10" ry="1.09" fill="#000000"/>
<ellipse cx="234.1" cy="111.8" rx="1.80" ry="2.27" fill="#292929"/>
<ellipse cx="244.0" cy="117.3" rx="0.90" ry="0.91" fill="#292929"/>
<ellipse cx="243.5" cy="112.7" rx="1.10" ry="1.03" fill="#000000"/>
<ellipse cx="250.6" cy="116.5" rx="1.30" ry="1.25" fill="#292929"/>
<ellipse cx="234.9" cy="116.8" rx="1.30" ry="1.30" fill="#000000"/>
<ellipse cx="256.1" cy="101.1" rx="0.90" ry="0.81" fill="#292929"/>
<ellipse cx="248.2" cy="77.8" rx="2.30" ry="2.15" fill="#141414"/>
<ellipse cx="250.5" cy="85.3" rx="1.80" ry="2.09" fill="#000000"/>
<ellipse cx="228.7" cy="96.8" rx="1.30" ry="1.11" fill="#292929"/>
<ellipse cx="255.9" cy="88.5" rx="0.90" ry="0.94" fill="#000000"/>
<ellipse cx="257.9" cy="105.5" rx="1.10" ry="1.13" fill="#141414"/>
<ellipse cx="235.2" cy="81.4" rx="0.90" ry="0.95" fill="#000000"/>
<ellipse cx="241.7" cy="107.8" rx="0.90" ry="0.85" fill="#292929"/>
<ellipse cx="246.8" cy="90.3" rx="1.30" ry="1.44" fill="#292929"/>
<ellipse cx="243.7" cy="104.2" rx="1.10" ry="1.34" fill="#000000"/>
<ellipse cx="262.8" cy="107.4" rx="1.50" ry="1.41" fill="#141414"/>
<ellipse cx="241.7" cy="97.6" rx="0.90" ry="0.79" fill="#000000"/>
<ellipse cx="252.5" cy="91.3" rx="1.30" ry="1.33" fill="#000000"/>
<ellipse cx="253.2" cy="103.8" rx="0.90" ry="0.87" fill="#141414"/>
<ellipse cx="236.5" cy="87.7" rx="1.10" ry="1.39" fill="#000000"/>
<ellipse cx="259.1" cy="80.7" rx="1.10" ry="1.12" fill="#000000"/>
<ellipse cx="262.6" cy="114.8" rx="0.90" ry="0.97" fill="#000000"/>
<ellipse cx="247.1" cy="108.8" rx="0.90" ry="1.16" fill="#000000"/>
<ellipse cx="232.4" cy="101.6" rx="1.30" ry="1.47" fill="#000000"/>
<ellipse cx="261.9" cy="89.4" rx="1.10" ry="1.24" fill="#000000"/>
<ellipse cx="233.8" cy="106.2" rx="1.10" ry="1.19" fill="#000000"/>
<ellipse cx="245.3" cy="94.2" rx="0.90" ry="1.09" fill="#000000"/>
<ellipse cx="239.2" cy="118.2" rx="0.90" ry="0.79" fill="#292929"/>
<ellipse cx="248.3" cy="122.0" rx="1.30" ry="1.28" fill="#000000"/>
<ellipse cx="256.3" cy="96.0" rx="0.90" ry="1.15" fill="#141414"/>
<ellipse cx="239.1" cy="111.5" rx="1.30" ry="1.15" fill="#141414"/>
<ellipse cx="231.2" cy="89.2" rx="1.30" ry="1.52" fill="#000000"/>
<ellipse cx="237.5" cy="123.2" rx="1.30" ry="1.57" fill="#141414"/>
<ellipse cx="237.9" cy="105.7" rx="0.90" ry="0.85" fill="#000000"/>
<path d="M46.0 99.6 L48.5 99.7 L51.5 100.4" fill="none" stroke="#696969" stroke-width="1.68" stroke-linecap="round" stroke-linejoin="round"/>
<path d="M51.5 100.4 L53.8 102.1 L55.5 103.9 L60.0 103.5 L63.4 104.5 L66.1 105.3 L68.4 104.5 L71.3 104.6 L73.7 104.5 L76.6 104.3 L78.9 104.4 L84.0 103.5 L85.5 103.6 L89.6 102.3 L92.1 102.5 L94.3 102.5 L98.5 101.1 L101.7 100.1 L104.8 99.4 L107.8 99.1" fill="none" stroke="#9e9e9e" stroke-width="1.89" stroke-linecap="round" stroke-linejoin="round"/>
<path d="M55.4 104.1 L60.1 103.1 L63.2 104.1 L66.0 104.9 L68.9 105.2 L71.5 104.6 L73.9 104.3 L76.1 104.3 L79.3 103.8 L83.3 103.4 L85.9 104.1" fill="none" stroke="#b2b2b2" stroke-width="4.27" stroke-linecap="round" stroke-linejoin="round"/>
<path d="M55.4 104.1 L60.5 103.5 L63.2 104.4 L65.8 105.1 L68.9 104.5 L71.7 105.0 L73.6 104.5 L76.6 104.6 L79.0 104.1 L83.8 103.7 L85.9 104.1" fill="none" stroke="#d6d6d6" stroke-width="2.87" stroke-linecap="round" stroke-linejoin="round"/>
<path d="M65.9 104.8 L66.4 107.0" fill="none" stroke="#b2b2b2" stroke-width="3.67" stroke-linecap="round" stroke-linejoin="round"/>
<path d="M65.9 104.8 L66.4 107.0" fill="none" stroke="#d6d6d6" stroke-width="2.27" stroke-linecap="round" stroke-linejoin="round"/>
<path d="M84.1 102.4 L84.6 106.3" fill="none" stroke="#b2b2b2" stroke-width="3.67" stroke-linecap="round" stroke-linejoin="round"/>
<path d="M84.1 102.4 L84.6 106.3" fill="none" stroke="#d6d6d6" stroke-width="2.27" stroke-linecap="round" stroke-linejoin="round"/>
<path d="M89.2 102.7 L91.5 102.4 L94.6 102.4 L98.9 101.1 L101.7 100.4 L103.9 100.0" fill="none" stroke="#b2b2b2" stroke-width="4.27" stroke-linecap="round" stroke-linejoin="round"/>
<path d="M89.2 102.7 L92.1 102.2 L94.4 102.4 L98.7 101.2 L101.4 100.9 L103.9 100.0" fill="none" stroke="#d6d6d6" stroke-width="2.87" stroke-linecap="round" stroke-linejoin="round"/>
<path d="M103.2 100.4 L105.7 100.2 L108.7 100.4 L111.6 101.3 L114.9 101.2 L117.9 102.2 L120.8 103.9 L123.9 104.3 L127.1 103.7 L130.2 104.8 L131.8 104.1 L134.6 103.0 L137.6 102.1 L139.7 102.1 L142.7 101.5 L145.8 101.8 L148.3 100.9 L151.0 100.7 L153.2 99.8 L156.2 99.3 L158.8 100.1 L161.4 99.9 L164.1 100.4" fill="none" stroke="#9e9e9e" stroke-width="1.78" stroke-linecap="round" stroke-linejoin="round"/>
<path d="M120.2 89.1 L119.8 96.4 L121.1 103.7" fill="none" stroke="#d9d9d9" stroke-width="2.20" stroke-linecap="round" stroke-linejoin="round"/>
<path d="M108.5 100.4 L111.9 101.1 L115.4 102.0 L117.1 103.3" fill="none" stroke="#b2b2b2" stroke-width="4.61" stroke-linecap="round" stroke-linejoin="round"/>
<path d="M108.5 100.4 L112.2 101.5 L115.3 101.8 L117.1 103.3" fill="none" stroke="#d6d6d6" stroke-width="3.21" stroke-linecap="round" stroke-linejoin="round"/>
<path d="M139.6 101.7 L143.2 102.0" fill="none" stroke="#b2b2b2" stroke-width="4.27" stroke-linecap="round" stroke-linejoin="round"/>
<path d="M139.6 101.7 L143.2 102.0" fill="none" stroke="#d6d6d6" stroke-width="2.87" stroke-linecap="round" stroke-linejoin="round"/>
<path d="M148.2 101.3 L156.2 99.7" fill="none" stroke="#d1d1d1" stroke-width="2.20" stroke-linecap="round" stroke-linejoin="round"/>
<path d="M147.4 101.7 L149.9 101.5 L152.4 101.3 L155.5 101.6 L158.5 100.1 L162.6 99.7" fill="none" stroke="#9e9e9e" stroke-width="1.78" stroke-linecap="round" stroke-linejoin="round"/>
<path d="M162.6 99.7 L165.6 100.2 L168.0 101.2 L171.8 100.9 L174.6 101.5 L177.1 102.1 L179.8 102.3 L182.7 103.1 L185.4 103.0 L188.6 103.5 L191.5 103.6 L193.9 103.1 L196.6 102.7 L198.6 102.5 L201.8 103.0 L203.9 102.5 L207.2 102.5 L209.1 101.8 L211.9 101.3 L215.1 100.9 L218.6 101.0 L221.1 100.9 L224.1 100.4" fill="none" stroke="#9e9e9e" stroke-width="1.89" stroke-linecap="round" stroke-linejoin="round"/>
<path d="M163.2 99.5 L166.1 100.3 L168.4 100.5 L171.4 101.0 L174.5 102.1" fill="none" stroke="#b2b2b2" stroke-width="5.12" stroke-linecap="round" stroke-linejoin="round"/>
<path d="M163.2 99.5 L165.8 100.2 L168.9 100.9 L171.6 101.5 L174.5 102.1" fill="none" stroke="#d6d6d6" stroke-width="3.72" stroke-linecap="round" stroke-linejoin="round"/>
<path d="M188.6 103.7 L191.2 104.1 L194.0 104.0 L196.0 104.3 L199.1 103.6 L201.2 103.1 L203.5 102.8 L206.2 102.1" fill="none" stroke="#b2b2b2" stroke-width="4.95" stroke-linecap="round" stroke-linejoin="round"/>
<path d="M188.6 103.7 L191.6 103.8 L193.9 104.2 L196.1 104.4 L198.9 103.3 L201.0 102.9 L203.8 102.8 L206.2 102.1" fill="none" stroke="#d6d6d6" stroke-width="3.55" stroke-linecap="round" stroke-linejoin="round"/>
<path d="M199.6 105.7 L199.0 112.3" fill="none" stroke="#cccccc" stroke-width="1.80" stroke-linecap="round" stroke-linejoin="round"/>
<path d="M212.2 101.7 L222.0 100.4" fill="none" stroke="#cccccc" stroke-width="2.20" stroke-linecap="round" stroke-linejoin="round"/>
<path d="M214.6 101.0 L217.3 100.9 L219.7 100.5 L223.4 100.5 L226.5 101.0 L229.3 101.9 L232.2 102.7 L235.0 103.0 L237.8 103.3 L240.6 104.1 L244.0 104.4 L246.5 104.1 L249.6 104.2 L252.9 103.6 L255.7 104.2 L258.3 104.3 L260.6 103.4 L263.5 103.7" fill="none" stroke="#9e9e9e" stroke-width="1.89" stroke-linecap="round" stroke-linejoin="round"/>
<path d="M219.9 100.4 L222.8 100.5 L226.5 100.6" fill="none" stroke="#b2b2b2" stroke-width="4.44" stroke-linecap="round" stroke-linejoin="round"/>
<path d="M219.9 100.4 L223.1 100.5 L226.5 100.6" fill="none" stroke="#d6d6d6" stroke-width="3.04" stroke-linecap="round" stroke-linejoin="round"/>
<path d="M228.5 102.0 L231.4 103.6 L235.7 104.1" fill="none" stroke="#b2b2b2" stroke-width="4.78" stroke-linecap="round" stroke-linejoin="round"/>
<path d="M228.5 102.0 L231.8 103.3 L235.7 104.1" fill="none" stroke="#d6d6d6" stroke-width="3.38" stroke-linecap="round" stroke-linejoin="round"/>
<path d="M237.1 104.1 L252.9 104.1" fill="none" stroke="#cccccc" stroke-width="2.20" stroke-linecap="round" stroke-linejoin="round"/>
<path d="M252.9 104.1 L256.0 103.8 L259.2 103.6 L262.9 103.6" fill="none" stroke="#b2b2b2" stroke-width="4.61" stroke-linecap="round" stroke-linejoin="round"/>
<path d="M252.9 104.1 L256.3 103.9 L259.4 103.8 L262.9 103.6" fill="none" stroke="#d6d6d6" stroke-width="3.21" stroke-linecap="round" stroke-linejoin="round"/>
<path d="M239.0 85.8 L239.7 92.4" fill="none" stroke="#cccccc" stroke-width="2.00" stroke-linecap="round" stroke-linejoin="round"/>
<path d="M55.4 104.1 L60.7 103.5 L63.2 103.9 L66.1 105.1 L68.7 105.0 L71.1 105.2 L74.4 105.0 L76.5 104.6 L78.9 104.4 L83.8 103.4 L85.9 104.1" fill="none" stroke="#ffffff" stroke-width="1.87" stroke-linecap="round" stroke-linejoin="round"/>
<path d="M65.9 104.8 L66.4 107.0" fill="none" stroke="#ffffff" stroke-width="1.27" stroke-linecap="round" stroke-linejoin="round"/>
<path d="M84.1 102.4 L84.6 106.3" fill="none" stroke="#ffffff" stroke-width="1.27" stroke-linecap="round" stroke-linejoin="round"/>
<path d="M89.2 102.7 L92.2 102.6 L94.9 102.2 L99.3 101.1 L101.2 100.8 L103.9 100.0" fill="none" stroke="#ffffff" stroke-width="1.87" stroke-linecap="round" stroke-linejoin="round"/>
<path d="M108.5 100.4 L111.5 101.5 L115.4 102.1 L117.1 103.3" fill="none" stroke="#ffffff" stroke-width="2.21" stroke-linecap="round" stroke-linejoin="round"/>
<path d="M139.6 101.7 L143.2 102.0" fill="none" stroke="#ffffff" stroke-width="1.87" stroke-linecap="round" stroke-linejoin="round"/>
<path d="M163.2 99.5 L165.4 99.9 L168.4 100.8 L171.2 101.3 L174.5 102.1" fill="none" stroke="#ffffff" stroke-width="2.72" stroke-linecap="round" stroke-linejoin="round"/>
<path d="M188.6 103.7 L191.0 104.2 L193.6 103.9 L196.0 104.5 L198.5 104.0 L201.3 103.1 L203.8 102.4 L206.2 102.1" fill="none" stroke="#ffffff" stroke-width="2.55" stroke-linecap="round" stroke-linejoin="round"/>
<path d="M164.6 100.1 L173.2 101.4" fill="none" stroke="#ffffff" stroke-width="1.20" stroke-linecap="round" stroke-linejoin="round"/>
<path d="M219.9 100.4 L222.9 100.8 L226.5 100.6" fill="none" stroke="#ffffff" stroke-width="2.04" stroke-linecap="round" stroke-linejoin="round"/>
<path d="M228.5 102.0 L232.0 103.1 L235.7 104.1" fill="none" stroke="#ffffff" stroke-width="2.38" stroke-linecap="round" stroke-linejoin="round"/>
<path d="M252.9 104.1 L255.9 104.2 L259.3 103.5 L262.9 103.6" fill="none" stroke="#ffffff" stroke-width="2.21" stroke-linecap="round" stroke-linejoin="round"/>
</g>
</svg>
<rect x="46" y="21" width="216.00" height="165.70" fill="none" stroke="#00006a" stroke-width="0.8" stroke-opacity="0.75"/>
<line x1="46" y1="21.3" x2="262" y2="21.3" stroke="#000058" stroke-width="1.1" stroke-opacity="0.85"/>
<line x1="46" y1="186.7" x2="262" y2="186.7" stroke="#000040" stroke-width="1"/>
<line x1="67.6" y1="186.7" x2="67.6" y2="184.7" stroke="#000050" stroke-width="0.7"/>
<line x1="67.6" y1="21" x2="67.6" y2="23" stroke="#000050" stroke-width="0.7" stroke-opacity="0.7"/>
<line x1="89.2" y1="186.7" x2="89.2" y2="184.7" stroke="#000050" stroke-width="0.7"/>
<line x1="89.2" y1="21" x2="89.2" y2="23" stroke="#000050" stroke-width="0.7" stroke-opacity="0.7"/>
<line x1="110.8" y1="186.7" x2="110.8" y2="184.7" stroke="#000050" stroke-width="0.7"/>
<line x1="110.8" y1="21" x2="110.8" y2="23" stroke="#000050" stroke-width="0.7" stroke-opacity="0.7"/>
<line x1="132.4" y1="186.7" x2="132.4" y2="184.7" stroke="#000050" stroke-width="0.7"/>
<line x1="132.4" y1="21" x2="132.4" y2="23" stroke="#000050" stroke-width="0.7" stroke-opacity="0.7"/>
<line x1="154.0" y1="186.7" x2="154.0" y2="184.7" stroke="#000050" stroke-width="0.7"/>
<line x1="154.0" y1="21" x2="154.0" y2="23" stroke="#000050" stroke-width="0.7" stroke-opacity="0.7"/>
<line x1="175.6" y1="186.7" x2="175.6" y2="184.7" stroke="#000050" stroke-width="0.7"/>
<line x1="175.6" y1="21" x2="175.6" y2="23" stroke="#000050" stroke-width="0.7" stroke-opacity="0.7"/>
<line x1="197.2" y1="186.7" x2="197.2" y2="184.7" stroke="#000050" stroke-width="0.7"/>
<line x1="197.2" y1="21" x2="197.2" y2="23" stroke="#000050" stroke-width="0.7" stroke-opacity="0.7"/>
<line x1="218.8" y1="186.7" x2="218.8" y2="184.7" stroke="#000050" stroke-width="0.7"/>
<line x1="218.8" y1="21" x2="218.8" y2="23" stroke="#000050" stroke-width="0.7" stroke-opacity="0.7"/>
<line x1="240.4" y1="186.7" x2="240.4" y2="184.7" stroke="#000050" stroke-width="0.7"/>
<line x1="240.4" y1="21" x2="240.4" y2="23" stroke="#000050" stroke-width="0.7" stroke-opacity="0.7"/>
<text x="41" y="39.7" font-size="11" text-anchor="end" font-family="Liberation Sans, Arial, sans-serif" stroke="#000" stroke-width="0.3" >250</text>
<text x="41" y="55.6" font-size="11" text-anchor="end" font-family="Liberation Sans, Arial, sans-serif" stroke="#000" stroke-width="0.3" >200</text>
<text x="41" y="73.7" font-size="11" text-anchor="end" font-family="Liberation Sans, Arial, sans-serif" stroke="#000" stroke-width="0.3" >150</text>
<text x="41" y="89.3" font-size="11" text-anchor="end" font-family="Liberation Sans, Arial, sans-serif" stroke="#000" stroke-width="0.3" >100</text>
<text x="41" y="104.6" font-size="11" text-anchor="end" font-family="Liberation Sans, Arial, sans-serif" stroke="#000" stroke-width="0.3" >50</text>
<text x="41" y="123.4" font-size="11" text-anchor="end" font-family="Liberation Sans, Arial, sans-serif" stroke="#000" stroke-width="0.3" >0</text>
<text x="41" y="139.1" font-size="11" text-anchor="end" font-family="Liberation Sans, Arial, sans-serif" stroke="#000" stroke-width="0.3" >-50</text>
<text x="41" y="155.0" font-size="11" text-anchor="end" font-family="Liberation Sans, Arial, sans-serif" stroke="#000" stroke-width="0.3" >-100</text>
<text x="41" y="172.6" font-size="11" text-anchor="end" font-family="Liberation Sans, Arial, sans-serif" stroke="#000" stroke-width="0.3" >-150</text>
<text x="41" y="188.7" font-size="11" text-anchor="end" font-family="Liberation Sans, Arial, sans-serif" stroke="#000" stroke-width="0.3" >-200</text>
<text x="47.1" y="198.3" font-size="11" text-anchor="middle" font-family="Liberation Sans, Arial, sans-serif" stroke="#000" stroke-width="0.3" >0</text>
<text x="69.6" y="198.3" font-size="11" text-anchor="middle" font-family="Liberation Sans, Arial, sans-serif" stroke="#000" stroke-width="0.3" >0.2</text>
<text x="90.4" y="198.3" font-size="11" text-anchor="middle" font-family="Liberation Sans, Arial, sans-serif" stroke="#000" stroke-width="0.3" >0.4</text>
<text x="111.3" y="198.3" font-size="11" text-anchor="middle" font-family="Liberation Sans, Arial, sans-serif" stroke="#000" stroke-width="0.3" >0.6</text>
<text x="132" y="198.3" font-size="11" text-anchor="middle" font-family="Liberation Sans, Arial, sans-serif" stroke="#000" stroke-width="0.3" >0.8</text>
<text x="153.0" y="198.3" font-size="11" text-anchor="middle" font-family="Liberation Sans, Arial, sans-serif" stroke="#000" stroke-width="0.3" >1</text>
<text x="175.1" y="198.3" font-size="11" text-anchor="middle" font-family="Liberation Sans, Arial, sans-serif" stroke="#000" stroke-width="0.3" >1.2</text>
<text x="195.7" y="198.3" font-size="11" text-anchor="middle" font-family="Liberation Sans, Arial, sans-serif" stroke="#000" stroke-width="0.3" >1.4</text>
<text x="217.4" y="198.3" font-size="11" text-anchor="middle" font-family="Liberation Sans, Arial, sans-serif" stroke="#000" stroke-width="0.3" >1.6</text>
<text x="238.3" y="198.3" font-size="11" text-anchor="middle" font-family="Liberation Sans, Arial, sans-serif" stroke="#000" stroke-width="0.3" >1.8</text>
<text x="257.8" y="198.3" font-size="11" text-anchor="middle" font-family="Liberation Sans, Arial, sans-serif" stroke="#000" stroke-width="0.3" >2</text>
<text x="155.1" y="16.2" font-size="10.3" text-anchor="middle" font-family="Liberation Sans, Arial, sans-serif" stroke="#000" stroke-width="0.3" textLength="67.8" lengthAdjust="spacingAndGlyphs">micro-Doppler</text>
<text x="164.6" y="216.9" font-size="12.3" text-anchor="middle" font-family="Liberation Sans, Arial, sans-serif" stroke="#000" stroke-width="0.3" textLength="59" lengthAdjust="spacingAndGlyphs">Time (sec)</text>
<text transform="translate(9.3,103) rotate(-90)" font-size="12.5" text-anchor="middle" font-family="Liberation Sans, Arial, sans-serif" stroke="#000" stroke-width="0.3" textLength="85.5" lengthAdjust="spacingAndGlyphs">Frequency (Hz)</text>
<text x="0.6" y="11.8" font-size="15.5" font-weight="bold" font-family="Liberation Serif, Times New Roman, serif">(a)</text>
<svg x="325" y="21" width="216.00" height="165.00" viewBox="325 21 216.00 165.00" overflow="hidden">
<g filter="url(#jet)">
<rect x="320" y="16" width="226.00" height="175.00" fill="#000"/>
<g filter="url(#hz)">
<rect x="387.5" y="21.0" width="3.0" height="165.0" fill="#0c0c0c"/>
<rect x="425.0" y="21.0" width="2.0" height="165.0" fill="#0e0e0e"/>
<rect x="439.2" y="21.0" width="1.5" height="165.0" fill="#070707"/>
<rect x="354.2" y="21.0" width="1.5" height="165.0" fill="#070707"/>
<rect x="496.0" y="21.0" width="2.0" height="165.0" fill="#070707"/>
<polygon points="332.6,84.9 332.8,81.3 334.2,77.6 335.3,74.0 337.4,72.1 338.9,69.2 341.6,66.9 342.7,65.7 345.4,62.9 346.9,60.7 349.0,58.2 350.7,55.1 353.2,58.6 355.4,61.6 356.3,66.7 357.7,69.8 359.2,74.1 359.7,77.0 358.9,79.7 359.5,81.9 359.2,85.8 356.6,85.7 354.3,84.9 350.0,86.4 346.9,85.4 344.5,85.2 341.1,85.1 338.7,85.2 335.5,85.5" fill="#121212"/>
<polygon points="376.6,87.0 377.9,83.2 378.5,79.4 378.4,76.4 379.8,72.9 381.4,69.7 381.2,67.0 382.9,63.5 385.0,60.9 385.7,57.9 388.3,53.6 390.1,56.9 392.3,58.0 394.7,60.9 395.3,64.0 397.8,67.8 399.0,70.1 399.4,73.8 398.9,77.0 400.0,79.7 400.4,82.8 399.9,85.0 400.0,88.4 397.3,88.7 394.1,87.8 391.8,88.7 388.7,87.4 386.4,88.1 383.3,88.3 380.2,88.3" fill="#171717"/>
<polygon points="426.5,91.3 426.8,88.1 427.6,83.4 427.3,81.3 428.0,77.4 428.0,73.1 428.4,69.7 428.4,67.1 429.3,64.2 429.9,61.2 430.3,58.0 429.8,54.2 431.8,57.9 432.1,61.5 431.6,64.0 433.3,66.9 433.2,69.9 432.9,74.5 434.4,77.6 435.1,80.6 435.5,84.4 435.3,87.2 435.3,90.6 433.1,89.9 430.1,90.2" fill="#141414"/>
<polygon points="435.0,88.3 434.6,85.8 435.2,82.4 436.6,79.5 436.1,75.9 435.9,74.0 437.0,70.1 438.2,67.5 438.1,65.1 439.2,61.1 440.8,58.2 441.4,61.5 443.0,63.3 443.4,65.7 443.9,70.0 444.6,72.8 444.8,75.2 446.3,79.4 446.1,82.5 445.5,86.0 447.1,88.2 443.3,89.4 438.3,89.3" fill="#121212"/>
<polygon points="464.6,89.0 466.6,84.5 466.3,80.8 466.9,77.3 467.4,74.0 468.6,71.7 470.5,67.9 472.3,65.2 474.7,62.5 475.8,59.6 476.6,56.6 477.5,52.6 479.6,50.5 480.9,54.0 482.4,56.8 484.9,59.5 486.5,61.7 487.5,65.9 489.0,69.3 489.3,72.1 490.0,75.2 491.5,79.0 491.5,80.8 492.8,85.1 492.5,87.9 493.1,91.2 490.7,90.0 487.2,90.8 484.9,89.3 481.0,89.2 478.7,90.3 474.7,89.9 471.2,89.6 468.0,88.6" fill="#141414"/>
<polygon points="513.9,91.1 514.1,86.9 513.7,83.8 514.4,81.4 514.5,78.6 515.6,74.5 515.7,72.2 515.5,68.7 516.8,65.9 517.5,61.7 518.5,58.9 518.8,55.7 519.7,53.8 520.4,50.5 522.0,53.0 523.2,55.3 523.4,57.9 526.2,60.8 529.1,62.0 531.5,65.0 531.4,68.0 531.7,70.8 532.1,73.9 532.4,77.3 534.1,80.3 533.6,84.7 534.4,87.0 534.6,89.9 532.7,91.0 529.8,91.3 526.2,91.4 522.6,91.0 520.4,90.1 517.6,91.4" fill="#141414"/>
</g>
<path d="M323.5 105.7 L328.1 105.0 L330.1 106.6 L333.4 105.1 L337.2 105.7 L340.6 105.6 L343.4 105.6 L345.3 106.4 L348.1 106.4 L350.7 104.9 L354.0 104.9 L356.0 103.3 L359.4 103.4 L362.0 103.0 L364.4 102.0 L366.4 101.4 L369.3 102.8 L372.4 103.3 L376.6 104.0 L378.8 104.7 L383.5 103.9 L385.4 104.5 L388.3 105.1 L392.2 104.3 L395.0 104.5 L399.6 104.0 L402.4 104.6 L405.2 104.4 L408.6 103.9" fill="none" stroke="#4c4c4c" stroke-width="9.56" stroke-linecap="round" stroke-linejoin="round"/>
<polygon points="332.7,103.2 334.0,99.7 335.6,97.3 336.9,92.6 337.9,89.2 339.1,86.0 342.2,82.5 345.0,87.6 345.1,91.6 344.2,96.5 348.0,100.3 350.5,104.1 348.0,103.0 344.4,103.1 341.5,102.9 338.1,104.1 336.0,102.9" fill="#6b6b6b" stroke="#6b6b6b" stroke-width="0.8" stroke-linejoin="round"/>
<path d="M342.6 83.3 L343.2 74.3 L343.7 67.6" fill="none" stroke="#474747" stroke-width="2.00" stroke-linecap="round" stroke-linejoin="round"/>
<path d="M334.0 75.1 L332.5 84.8" fill="none" stroke="#262626" stroke-width="1.30" stroke-linecap="round" stroke-linejoin="round"/>
<path d="M343.7 68.4 L350.4 62.4" fill="none" stroke="#262626" stroke-width="1.30" stroke-linecap="round" stroke-linejoin="round"/>
<path d="M357.5 79.6 L358.6 86.6" fill="none" stroke="#525252" stroke-width="1.60" stroke-linecap="round" stroke-linejoin="round"/>
<polygon points="325.0,108.3 329.5,106.9 333.7,107.0 337.9,107.5 340.6,107.7 343.4,108.0 347.8,108.1 350.9,109.8 349.2,113.0 348.1,117.0 347.8,120.2 345.9,124.3 344.6,126.9 343.5,131.2 339.6,134.4 338.0,133.1 338.2,129.4 339.3,126.1 339.8,124.2 337.0,126.3 333.6,128.6 331.4,127.3 328.0,127.6 325.1,123.7 324.6,120.5 324.8,117.7 324.8,114.9 325.1,110.7" fill="#6b6b6b" stroke="#6b6b6b" stroke-width="0.8" stroke-linejoin="round"/>
<polygon points="351.7,102.9 353.4,99.8 354.5,97.2 356.0,94.0 358.8,91.8 360.4,93.6 362.9,96.9 367.2,99.0 368.2,103.9 364.5,104.0 361.7,103.0 357.9,103.3 355.1,103.0" fill="#6b6b6b" stroke="#6b6b6b" stroke-width="0.8" stroke-linejoin="round"/>
<path d="M378.0 77.3 L380.2 69.9 L382.5 63.9" fill="none" stroke="#5c5c5c" stroke-width="2.00" stroke-linecap="round" stroke-linejoin="round"/>
<path d="M384.7 66.9 L386.2 72.1" fill="none" stroke="#383838" stroke-width="1.50" stroke-linecap="round" stroke-linejoin="round"/>
<path d="M395.1 62.4 L398.1 66.9" fill="none" stroke="#212121" stroke-width="1.30" stroke-linecap="round" stroke-linejoin="round"/>
<path d="M377.2 81.8 L376.5 89.3" fill="none" stroke="#262626" stroke-width="1.30" stroke-linecap="round" stroke-linejoin="round"/>
<polygon points="375.9,102.7 379.1,98.1 379.8,95.0 380.3,90.9 380.1,88.3 383.3,83.5 384.8,87.1 387.0,89.8 390.8,86.0 392.8,89.2 394.8,91.9 396.5,95.0 397.9,99.8 402.1,104.0 399.9,103.4 396.6,103.5 392.9,102.7 390.2,103.6 386.2,102.8 382.4,103.0 380.3,102.6" fill="#6b6b6b" stroke="#6b6b6b" stroke-width="0.8" stroke-linejoin="round"/>
<polygon points="376.9,107.3 380.8,106.7 383.3,107.4 386.2,107.6 389.8,107.6 393.2,106.7 395.8,106.6 399.3,107.5 399.7,111.1 398.6,114.9 398.5,117.4 396.8,120.6 396.3,123.1 395.7,126.0 395.7,129.2 391.2,129.9 389.2,127.1 389.6,123.6 386.4,123.6 381.8,123.1 381.1,120.4 380.7,115.6 379.0,112.6 377.9,109.9" fill="#6b6b6b" stroke="#6b6b6b" stroke-width="0.8" stroke-linejoin="round"/>
<path d="M393.5 104.2 L396.5 101.0 L399.2 102.0 L401.8 103.4 L404.8 102.5 L407.0 101.7 L408.7 99.8 L413.8 98.8 L416.6 99.5 L419.0 99.6 L421.5 101.7 L424.6 101.2 L427.7 101.8 L430.1 99.7 L433.8 100.9 L436.6 99.5 L440.3 99.0 L442.2 100.1 L446.0 100.7 L447.9 99.8 L450.7 99.8 L453.8 100.4 L458.3 99.0 L459.9 99.4 L464.5 99.7 L466.5 99.9 L470.1 100.1 L472.6 101.6 L476.1 101.2 L478.6 102.7" fill="none" stroke="#4c4c4c" stroke-width="9.56" stroke-linecap="round" stroke-linejoin="round"/>
<polygon points="395.3,108.5 398.5,109.1 401.4,109.0 404.1,110.0 402.9,113.3 400.4,117.9 399.2,120.3 397.9,123.8 396.7,126.3 395.5,127.1 393.9,123.3 393.0,121.1 392.6,117.6 393.6,115.0 393.4,111.8" fill="#6b6b6b" stroke="#6b6b6b" stroke-width="0.8" stroke-linejoin="round"/>
<polygon points="417.8,99.1 419.8,97.7 422.6,95.3 423.5,91.9 426.1,89.0 426.3,86.4 426.8,83.2 427.8,80.8 429.1,76.9 430.8,76.9 432.1,80.7 432.5,85.0 433.7,88.3 435.2,91.4 436.6,93.3 439.6,94.9 443.7,98.0 445.2,94.1 445.0,90.3 444.9,87.7 443.0,84.1 446.4,83.0 446.7,86.8 447.8,90.2 448.9,93.7 449.7,97.4 455.2,99.3 455.2,102.2 452.0,103.1 448.2,102.1 444.8,103.3 442.9,102.3 438.8,102.9 435.4,103.3 433.4,103.6 429.4,103.8 427.1,102.8 424.1,103.9 421.0,103.7 417.8,103.5" fill="#6b6b6b" stroke="#6b6b6b" stroke-width="0.8" stroke-linejoin="round"/>
<path d="M430.1 77.3 L430.8 65.4" fill="none" stroke="#404040" stroke-width="1.30" stroke-linecap="round" stroke-linejoin="round"/>
<path d="M438.3 69.9 L439.8 78.8" fill="none" stroke="#1f1f1f" stroke-width="1.30" stroke-linecap="round" stroke-linejoin="round"/>
<path d="M444.3 68.4 L445.7 77.3" fill="none" stroke="#1f1f1f" stroke-width="1.30" stroke-linecap="round" stroke-linejoin="round"/>
<polygon points="416.7,105.9 420.7,105.2 423.5,106.2 427.9,105.0 430.0,105.9 433.7,106.2 437.2,106.0 440.0,106.1 443.5,105.6 447.2,105.4 446.5,109.3 445.9,112.7 444.9,117.4 444.0,121.3 447.1,124.6 443.3,130.2 439.7,129.5 436.7,129.2 432.7,129.1 429.3,128.3 425.7,127.8 424.9,123.8 422.2,120.5 420.5,116.9 418.3,114.2 418.8,112.0 418.3,108.9" fill="#6b6b6b" stroke="#6b6b6b" stroke-width="0.8" stroke-linejoin="round"/>
<path d="M439.8 129.6 L439.5 140.0" fill="none" stroke="#4c4c4c" stroke-width="1.60" stroke-linecap="round" stroke-linejoin="round"/>
<polygon points="464.4,100.3 464.4,97.0 465.8,93.3 465.7,90.8 468.6,87.5 470.9,84.3 475.3,83.3 480.9,85.1 482.1,87.8 484.4,90.8 488.9,88.0 488.5,83.7 489.2,79.6 491.2,79.5 491.9,82.5 491.9,85.7 491.9,89.4 493.7,92.7 495.9,94.7 500.2,98.3 499.5,102.9 495.9,103.0 493.4,103.5 489.8,103.4 487.5,103.0 482.9,102.8 480.7,102.4 477.2,103.2 474.1,103.0 471.1,102.8 467.1,103.1 464.1,103.0" fill="#6b6b6b" stroke="#6b6b6b" stroke-width="0.8" stroke-linejoin="round"/>
<path d="M466.2 83.3 L468.5 74.3 L473.0 66.1 L478.2 59.4" fill="none" stroke="#4c4c4c" stroke-width="1.60" stroke-linecap="round" stroke-linejoin="round"/>
<path d="M473.0 68.4 L475.9 72.1 L478.9 76.6" fill="none" stroke="#4c4c4c" stroke-width="1.80" stroke-linecap="round" stroke-linejoin="round"/>
<polygon points="463.8,105.6 467.6,104.9 469.8,104.9 473.5,105.6 475.5,105.5 479.8,104.9 482.5,105.3 486.0,104.3 488.7,104.0 491.3,105.0 494.7,104.4 497.5,104.1 495.1,107.2 494.5,109.6 492.1,114.1 492.1,117.5 492.9,120.8 495.6,123.2 494.3,128.1 490.5,126.9 486.2,126.8 482.1,130.0 478.8,129.1 473.8,128.0 472.4,124.7 469.7,120.0 467.1,117.2 464.0,114.2 464.5,109.5" fill="#6b6b6b" stroke="#6b6b6b" stroke-width="0.8" stroke-linejoin="round"/>
<path d="M462.5 102.7 L465.3 103.4 L468.2 102.0 L470.8 103.3 L473.7 103.4 L476.8 102.5 L478.2 103.0 L481.8 102.9 L484.5 102.3 L486.9 102.0 L491.0 101.8 L493.7 101.1 L495.5 100.1 L499.1 100.1 L503.0 100.2 L506.1 101.9 L509.7 101.0 L512.0 102.8 L514.6 102.5 L518.4 101.1 L521.0 100.4 L523.6 100.2 L527.0 101.0 L529.9 100.1 L532.4 100.1 L534.9 98.9 L537.1 100.2 L540.5 98.5 L543.1 99.0" fill="none" stroke="#4c4c4c" stroke-width="9.56" stroke-linecap="round" stroke-linejoin="round"/>
<polygon points="501.9,99.8 504.2,98.1 507.3,96.6 509.8,92.6 511.7,89.5 513.4,85.8 513.8,81.6 515.0,78.7 517.1,75.7 518.5,79.9 520.2,82.6 524.3,84.6 525.4,86.5 527.6,88.9 532.1,88.0 533.6,91.4 535.9,95.1 538.3,95.9 541.6,96.8 541.7,99.8 541.9,103.9 539.2,103.6 535.1,102.7 532.2,104.1 529.9,103.7 525.7,103.0 522.5,103.3 520.5,103.0 517.3,103.5 513.4,103.4 510.0,103.6 508.1,103.2 505.1,103.1 501.1,103.7" fill="#6b6b6b" stroke="#6b6b6b" stroke-width="0.8" stroke-linejoin="round"/>
<path d="M515.5 67.2 L518.5 56.7 L521.5 63.9" fill="none" stroke="#525252" stroke-width="1.80" stroke-linecap="round" stroke-linejoin="round"/>
<path d="M529.7 62.4 L531.9 77.3 L532.7 87.8" fill="none" stroke="#2e2e2e" stroke-width="1.40" stroke-linecap="round" stroke-linejoin="round"/>
<polygon points="503.9,105.0 507.6,105.5 510.5,104.9 513.7,104.7 517.1,105.2 521.4,105.0 523.8,104.7 528.2,104.3 531.2,103.7 534.5,104.7 532.7,108.5 531.3,112.0 530.7,114.5 529.8,117.7 530.1,119.9 528.4,123.7 526.9,128.4 524.3,131.3 520.9,130.8 518.0,130.3 515.0,130.0 513.1,127.2 511.3,122.9 509.6,120.7 510.3,117.1 509.8,114.6 509.0,111.2 507.2,108.6" fill="#6b6b6b" stroke="#6b6b6b" stroke-width="0.8" stroke-linejoin="round"/>
<path d="M523.7 128.1 L525.2 140.0" fill="none" stroke="#666666" stroke-width="2.00" stroke-linecap="round" stroke-linejoin="round"/>
<path d="M388.6 130.0 L389.0 150.0" fill="none" stroke="#333333" stroke-width="1.40" stroke-linecap="round" stroke-linejoin="round"/>
<ellipse cx="389.0" cy="148.0" rx="1.20" ry="2.60" fill="#616161"/>
<path d="M480.0 136.0 L480.5 158.0" fill="none" stroke="#292929" stroke-width="1.40" stroke-linecap="round" stroke-linejoin="round"/>
<ellipse cx="480.3" cy="155.0" rx="1.20" ry="2.60" fill="#5c5c5c"/>
<path d="M323.5 105.7 L327.3 105.6 L331.2 105.7 L333.4 106.5 L336.7 105.9 L339.8 106.7 L343.2 105.9 L345.0 105.1 L348.3 105.2 L350.4 105.5 L353.1 104.6 L355.9 103.2 L358.8 103.6 L361.4 102.1 L363.9 101.2 L365.9 101.7 L370.4 101.9 L373.2 102.8 L375.8 103.8 L380.2 104.4 L383.2 104.8 L386.4 104.2 L389.6 104.8 L392.3 104.9 L394.5 104.2 L399.1 104.1 L402.2 104.7 L405.5 103.9 L408.6 103.9" fill="none" stroke="#666666" stroke-width="6.12" stroke-linecap="round" stroke-linejoin="round"/>
<polygon points="335.9,100.8 336.7,98.6 337.7,97.1 338.5,94.2 339.1,92.1 339.9,90.1 341.8,88.0 343.5,91.1 343.6,93.6 343.0,96.6 345.4,99.0 346.9,101.3 345.4,100.7 343.1,100.7 341.4,100.6 339.2,101.4 338.0,100.6" fill="#828282" stroke="#828282" stroke-width="0.8" stroke-linejoin="round"/>
<polygon points="329.6,112.5 332.4,111.6 335.0,111.7 337.6,112.0 339.3,112.1 341.0,112.3 343.7,112.4 345.7,113.4 344.6,115.4 343.9,117.9 343.7,119.9 342.5,122.4 341.7,124.0 341.0,126.7 338.7,128.7 337.6,127.9 337.8,125.6 338.4,123.5 338.7,122.3 337.0,123.6 334.9,125.1 333.5,124.3 331.5,124.4 329.6,122.0 329.4,120.1 329.5,118.3 329.5,116.5 329.6,113.9" fill="#828282" stroke="#828282" stroke-width="0.8" stroke-linejoin="round"/>
<polygon points="354.7,101.6 355.7,99.7 356.4,98.0 357.3,96.0 359.1,94.7 360.1,95.8 361.6,97.9 364.2,99.2 364.9,102.2 362.6,102.3 360.9,101.6 358.5,101.8 356.8,101.6" fill="#828282" stroke="#828282" stroke-width="0.8" stroke-linejoin="round"/>
<polygon points="380.6,100.3 382.6,97.4 383.0,95.5 383.3,92.9 383.2,91.3 385.2,88.4 386.2,90.6 387.5,92.3 389.9,89.9 391.1,91.9 392.3,93.6 393.4,95.5 394.3,98.5 396.9,101.1 395.5,100.7 393.5,100.8 391.1,100.3 389.5,100.9 387.0,100.3 384.6,100.5 383.3,100.2" fill="#828282" stroke="#828282" stroke-width="0.8" stroke-linejoin="round"/>
<polygon points="381.6,110.6 384.1,110.3 385.6,110.7 387.4,110.8 389.6,110.8 391.7,110.3 393.3,110.2 395.5,110.8 395.7,113.0 395.1,115.3 395.0,116.9 394.0,118.8 393.6,120.5 393.3,122.2 393.3,124.2 390.5,124.6 389.3,122.9 389.5,120.7 387.5,120.7 384.7,120.4 384.2,118.7 384.0,115.8 382.9,113.9 382.2,112.3" fill="#828282" stroke="#828282" stroke-width="0.8" stroke-linejoin="round"/>
<path d="M393.5 104.2 L396.4 100.9 L399.3 103.3 L402.4 104.2 L405.1 102.4 L406.7 101.7 L409.2 100.7 L414.3 98.9 L416.3 99.7 L418.9 101.1 L422.0 101.3 L424.7 101.8 L428.2 101.0 L431.4 100.8 L434.4 100.5 L436.9 99.8 L439.1 99.9 L442.9 100.2 L445.7 99.4 L448.4 100.0 L450.8 101.0 L454.1 99.9 L456.8 99.0 L460.3 98.6 L463.7 98.6 L466.1 98.9 L470.0 100.4 L473.0 100.7 L475.1 102.1 L478.6 102.7" fill="none" stroke="#666666" stroke-width="6.12" stroke-linecap="round" stroke-linejoin="round"/>
<polygon points="396.0,111.7 398.0,112.1 399.8,112.0 401.5,112.7 400.8,114.7 399.2,117.5 398.5,119.0 397.6,121.2 396.9,122.7 396.1,123.2 395.2,120.9 394.6,119.5 394.3,117.3 395.0,115.7 394.8,113.8" fill="#828282" stroke="#828282" stroke-width="0.8" stroke-linejoin="round"/>
<polygon points="424.8,97.1 426.0,96.2 427.8,94.7 428.3,92.7 429.9,90.9 430.1,89.2 430.4,87.2 431.0,85.8 431.8,83.3 432.9,83.4 433.7,85.7 433.9,88.4 434.6,90.4 435.6,92.4 436.5,93.5 438.3,94.5 440.8,96.5 441.8,94.1 441.6,91.7 441.6,90.1 440.4,87.8 442.5,87.1 442.7,89.5 443.4,91.6 444.1,93.8 444.6,96.1 448.0,97.2 448.0,99.0 446.0,99.6 443.6,99.0 441.5,99.7 440.4,99.1 437.8,99.5 435.7,99.7 434.5,99.9 432.0,100.0 430.6,99.4 428.7,100.1 426.8,100.0 424.8,99.8" fill="#828282" stroke="#828282" stroke-width="0.8" stroke-linejoin="round"/>
<polygon points="422.7,109.5 425.2,109.0 426.9,109.7 429.7,108.9 431.0,109.5 433.3,109.7 435.5,109.5 437.2,109.6 439.3,109.3 441.6,109.2 441.2,111.6 440.8,113.7 440.2,116.6 439.6,119.0 441.5,121.1 439.2,124.6 437.0,124.1 435.1,123.9 432.7,123.9 430.5,123.3 428.3,123.1 427.8,120.6 426.1,118.5 425.1,116.3 423.7,114.6 424.0,113.3 423.7,111.4" fill="#828282" stroke="#828282" stroke-width="0.8" stroke-linejoin="round"/>
<polygon points="471.2,97.9 471.1,95.9 472.0,93.6 472.0,92.1 473.8,90.0 475.2,88.0 477.9,87.4 481.4,88.5 482.1,90.2 483.5,92.0 486.3,90.3 486.1,87.6 486.5,85.1 487.7,85.1 488.2,86.9 488.2,88.9 488.2,91.2 489.3,93.2 490.7,94.5 493.4,96.7 492.9,99.5 490.7,99.6 489.1,99.9 486.9,99.8 485.5,99.6 482.6,99.5 481.3,99.2 479.1,99.7 477.2,99.6 475.3,99.5 472.8,99.7 471.0,99.6" fill="#828282" stroke="#828282" stroke-width="0.8" stroke-linejoin="round"/>
<polygon points="470.7,108.8 473.1,108.3 474.4,108.4 476.7,108.8 478.0,108.7 480.6,108.4 482.3,108.6 484.4,108.0 486.1,107.8 487.7,108.4 489.9,108.0 491.6,107.9 490.1,109.8 489.7,111.3 488.2,114.0 488.2,116.2 488.7,118.2 490.4,119.7 489.6,122.8 487.3,122.0 484.6,121.9 482.1,123.9 480.0,123.4 476.9,122.7 476.1,120.6 474.4,117.7 472.7,116.0 470.8,114.2 471.1,111.2" fill="#828282" stroke="#828282" stroke-width="0.8" stroke-linejoin="round"/>
<path d="M462.5 102.7 L465.0 102.2 L467.5 102.5 L470.4 102.0 L473.4 103.3 L476.1 102.5 L478.8 102.4 L481.5 101.9 L484.5 102.5 L487.3 102.1 L490.4 101.4 L493.2 100.7 L496.6 100.6 L499.0 100.2 L502.7 100.5 L505.6 100.9 L508.5 102.6 L512.1 103.2 L515.3 101.6 L517.8 101.9 L520.7 101.0 L523.9 100.6 L526.0 99.6 L528.9 99.4 L531.8 99.2 L534.2 99.8 L537.1 99.7 L540.2 99.6 L543.1 99.0" fill="none" stroke="#666666" stroke-width="6.12" stroke-linecap="round" stroke-linejoin="round"/>
<polygon points="509.4,98.0 510.8,97.0 512.7,96.1 514.3,93.6 515.5,91.6 516.5,89.4 516.8,86.8 517.5,84.9 518.8,83.1 519.7,85.7 520.7,87.4 523.3,88.6 524.0,89.8 525.3,91.3 528.1,90.8 529.1,92.8 530.5,95.2 532.0,95.6 534.0,96.2 534.1,98.1 534.2,100.6 532.5,100.4 530.0,99.9 528.2,100.7 526.8,100.5 524.1,100.0 522.2,100.2 521.0,100.0 518.9,100.3 516.5,100.3 514.4,100.4 513.2,100.1 511.4,100.1 508.9,100.5" fill="#828282" stroke="#828282" stroke-width="0.8" stroke-linejoin="round"/>
<polygon points="509.9,108.8 512.2,109.1 514.0,108.7 516.0,108.6 518.1,108.9 520.8,108.7 522.2,108.6 524.9,108.3 526.8,107.9 528.9,108.6 527.8,110.9 526.9,113.1 526.5,114.6 526.0,116.6 526.1,118.0 525.1,120.3 524.1,123.2 522.5,125.0 520.4,124.8 518.6,124.5 516.8,124.3 515.6,122.5 514.5,119.9 513.4,118.5 513.8,116.3 513.6,114.7 513.1,112.6 511.9,111.0" fill="#828282" stroke="#828282" stroke-width="0.8" stroke-linejoin="round"/>
<ellipse cx="331.7" cy="115.4" rx="4.9" ry="4.2" fill="#000000"/>
<ellipse cx="338.1" cy="121.8" rx="2.7" ry="3.0" fill="#000000"/>
<ellipse cx="386.5" cy="116.9" rx="3.6" ry="6.3" fill="#000000"/>
<ellipse cx="430.8" cy="117.9" rx="4.5" ry="4.5" fill="#000000"/>
<ellipse cx="438.3" cy="123.3" rx="2.4" ry="2.7" fill="#000000"/>
<ellipse cx="424.9" cy="110.4" rx="2.1" ry="1.6" fill="#000000"/>
<ellipse cx="470.7" cy="112.4" rx="3.0" ry="4.2" fill="#000000"/>
<ellipse cx="486.4" cy="112.4" rx="2.4" ry="3.9" fill="#000000"/>
<ellipse cx="484.9" cy="121.8" rx="2.1" ry="2.1" fill="#000000"/>
<ellipse cx="515.5" cy="116.1" rx="3.0" ry="4.5" fill="#000000"/>
<circle cx="373.8" cy="105.6" r="1.42" fill="#969696"/>
<circle cx="338.8" cy="109.9" r="1.29" fill="#8c8c8c"/>
<circle cx="399.9" cy="107.6" r="1.11" fill="#999999"/>
<circle cx="387.6" cy="103.7" r="1.47" fill="#858585"/>
<circle cx="362.4" cy="99.7" r="1.29" fill="#828282"/>
<circle cx="331.7" cy="104.1" r="1.06" fill="#919191"/>
<circle cx="372.8" cy="99.1" r="0.98" fill="#8d8d8d"/>
<circle cx="366.9" cy="104.2" r="1.14" fill="#999999"/>
<circle cx="362.9" cy="105.2" r="1.36" fill="#989898"/>
<circle cx="340.8" cy="96.5" r="1.10" fill="#9a9a9a"/>
<circle cx="338.7" cy="87.6" r="1.03" fill="#999999"/>
<circle cx="341.2" cy="86.4" r="1.25" fill="#888888"/>
<circle cx="343.1" cy="116.4" r="1.45" fill="#868686"/>
<circle cx="344.8" cy="124.4" r="1.32" fill="#8c8c8c"/>
<circle cx="342.0" cy="125.0" r="1.25" fill="#909090"/>
<circle cx="349.7" cy="109.9" r="1.35" fill="#8f8f8f"/>
<circle cx="338.7" cy="124.3" r="1.00" fill="#9b9b9b"/>
<circle cx="335.8" cy="117.1" r="1.37" fill="#888888"/>
<circle cx="327.6" cy="114.9" r="1.36" fill="#898989"/>
<circle cx="362.3" cy="98.3" r="1.02" fill="#9c9c9c"/>
<circle cx="361.4" cy="99.1" r="1.39" fill="#989898"/>
<circle cx="384.0" cy="98.5" r="1.39" fill="#8f8f8f"/>
<circle cx="386.7" cy="93.0" r="0.94" fill="#898989"/>
<circle cx="381.6" cy="110.7" r="1.33" fill="#8a8a8a"/>
<circle cx="388.9" cy="113.1" r="1.08" fill="#939393"/>
<circle cx="395.7" cy="122.1" r="1.07" fill="#8e8e8e"/>
<circle cx="395.3" cy="120.9" r="1.37" fill="#8a8a8a"/>
<circle cx="386.7" cy="113.1" r="1.27" fill="#919191"/>
<circle cx="379.2" cy="112.3" r="1.48" fill="#9c9c9c"/>
<circle cx="435.5" cy="100.1" r="1.09" fill="#828282"/>
<circle cx="472.9" cy="99.2" r="1.29" fill="#969696"/>
<circle cx="451.9" cy="102.4" r="1.14" fill="#808080"/>
<circle cx="394.0" cy="101.2" r="1.12" fill="#959595"/>
<circle cx="406.5" cy="104.8" r="1.09" fill="#888888"/>
<circle cx="428.2" cy="102.5" r="0.95" fill="#8d8d8d"/>
<circle cx="432.1" cy="100.9" r="1.48" fill="#8a8a8a"/>
<circle cx="394.7" cy="105.8" r="1.42" fill="#888888"/>
<circle cx="416.9" cy="96.9" r="1.17" fill="#878787"/>
<circle cx="399.1" cy="112.6" r="1.33" fill="#8a8a8a"/>
<circle cx="428.4" cy="87.1" r="1.01" fill="#8e8e8e"/>
<circle cx="425.2" cy="99.4" r="1.31" fill="#929292"/>
<circle cx="429.8" cy="88.9" r="1.10" fill="#989898"/>
<circle cx="454.4" cy="101.7" r="1.01" fill="#939393"/>
<circle cx="443.0" cy="98.8" r="0.92" fill="#8e8e8e"/>
<circle cx="427.0" cy="100.8" r="1.19" fill="#8d8d8d"/>
<circle cx="437.4" cy="101.3" r="0.99" fill="#838383"/>
<circle cx="443.3" cy="110.2" r="1.45" fill="#9a9a9a"/>
<circle cx="439.3" cy="111.6" r="0.99" fill="#909090"/>
<circle cx="421.7" cy="110.9" r="1.20" fill="#8e8e8e"/>
<circle cx="434.0" cy="112.7" r="1.26" fill="#858585"/>
<circle cx="440.8" cy="124.1" r="1.12" fill="#888888"/>
<circle cx="424.1" cy="120.5" r="0.99" fill="#999999"/>
<circle cx="430.1" cy="112.1" r="0.98" fill="#8d8d8d"/>
<circle cx="421.6" cy="118.3" r="0.99" fill="#8f8f8f"/>
<circle cx="439.5" cy="113.4" r="1.34" fill="#9b9b9b"/>
<circle cx="492.6" cy="103.0" r="1.33" fill="#9a9a9a"/>
<circle cx="473.0" cy="101.4" r="1.08" fill="#9d9d9d"/>
<circle cx="482.1" cy="94.1" r="1.26" fill="#919191"/>
<circle cx="481.4" cy="87.0" r="1.39" fill="#9d9d9d"/>
<circle cx="475.7" cy="101.1" r="1.04" fill="#8c8c8c"/>
<circle cx="487.3" cy="98.5" r="1.44" fill="#9e9e9e"/>
<circle cx="474.2" cy="101.5" r="1.17" fill="#8b8b8b"/>
<circle cx="469.6" cy="87.2" r="0.95" fill="#9d9d9d"/>
<circle cx="474.4" cy="96.0" r="1.32" fill="#888888"/>
<circle cx="486.4" cy="122.2" r="1.06" fill="#939393"/>
<circle cx="486.9" cy="107.4" r="1.05" fill="#8b8b8b"/>
<circle cx="490.8" cy="120.0" r="1.41" fill="#858585"/>
<circle cx="486.8" cy="104.9" r="0.98" fill="#979797"/>
<circle cx="493.2" cy="122.8" r="1.18" fill="#919191"/>
<circle cx="476.4" cy="115.5" r="1.01" fill="#959595"/>
<circle cx="487.4" cy="108.3" r="1.37" fill="#8a8a8a"/>
<circle cx="465.6" cy="109.7" r="1.22" fill="#9b9b9b"/>
<circle cx="492.5" cy="110.1" r="1.20" fill="#898989"/>
<circle cx="474.5" cy="115.8" r="1.29" fill="#969696"/>
<circle cx="492.1" cy="112.8" r="1.05" fill="#9a9a9a"/>
<circle cx="490.8" cy="115.3" r="1.47" fill="#999999"/>
<circle cx="479.6" cy="120.0" r="1.15" fill="#8c8c8c"/>
<circle cx="542.6" cy="97.1" r="1.26" fill="#878787"/>
<circle cx="530.8" cy="96.4" r="1.41" fill="#919191"/>
<circle cx="511.5" cy="106.1" r="1.44" fill="#818181"/>
<circle cx="487.6" cy="103.7" r="1.05" fill="#9c9c9c"/>
<circle cx="513.7" cy="103.4" r="0.91" fill="#8c8c8c"/>
<circle cx="503.2" cy="103.6" r="1.49" fill="#939393"/>
<circle cx="514.4" cy="99.0" r="1.47" fill="#939393"/>
<circle cx="480.4" cy="103.5" r="1.07" fill="#808080"/>
<circle cx="481.1" cy="99.8" r="1.04" fill="#9d9d9d"/>
<circle cx="493.1" cy="103.4" r="1.39" fill="#878787"/>
<circle cx="515.2" cy="79.8" r="1.34" fill="#858585"/>
<circle cx="532.5" cy="91.3" r="0.95" fill="#828282"/>
<circle cx="517.4" cy="81.0" r="1.14" fill="#878787"/>
<circle cx="523.8" cy="88.0" r="1.11" fill="#868686"/>
<circle cx="534.6" cy="100.6" r="1.46" fill="#989898"/>
<circle cx="510.1" cy="92.3" r="0.94" fill="#898989"/>
<circle cx="522.8" cy="87.9" r="1.03" fill="#9d9d9d"/>
<circle cx="511.0" cy="91.0" r="1.20" fill="#898989"/>
<circle cx="523.0" cy="103.3" r="1.20" fill="#8d8d8d"/>
<circle cx="506.5" cy="99.7" r="1.24" fill="#949494"/>
<circle cx="517.1" cy="95.1" r="1.42" fill="#8b8b8b"/>
<circle cx="512.2" cy="110.3" r="1.06" fill="#919191"/>
<circle cx="514.9" cy="117.1" r="1.39" fill="#8a8a8a"/>
<circle cx="518.5" cy="118.4" r="1.20" fill="#8a8a8a"/>
<circle cx="526.8" cy="122.6" r="1.13" fill="#8b8b8b"/>
<circle cx="522.3" cy="127.4" r="1.35" fill="#888888"/>
<circle cx="517.4" cy="125.7" r="1.44" fill="#8e8e8e"/>
<circle cx="513.6" cy="124.5" r="0.94" fill="#939393"/>
<circle cx="507.8" cy="108.5" r="1.28" fill="#8f8f8f"/>
<circle cx="522.7" cy="110.4" r="0.95" fill="#8e8e8e"/>
<path d="M323.5 105.7 L326.7 106.2 L330.8 105.2 L333.6 105.5 L337.4 105.6 L339.7 105.6 L342.5 105.5 L345.0 106.0 L348.3 106.1 L349.8 105.5 L353.8 104.2 L356.0 103.9 L358.6 103.5 L361.5 102.5 L363.3 101.5 L365.8 100.7 L370.0 101.5 L373.2 103.0 L375.2 103.7 L379.6 103.6 L383.2 103.9 L386.5 103.8 L389.3 104.9 L392.6 103.9 L395.2 103.7 L398.7 104.8 L403.0 103.9 L405.5 104.3 L408.6 103.9" fill="none" stroke="#808080" stroke-width="3.44" stroke-linecap="round" stroke-linejoin="round"/>
<polygon points="332.7,103.2 334.0,99.7 335.6,97.3 336.9,92.6 337.9,89.2 339.1,86.0 342.2,82.5 345.0,87.6 345.1,91.6 344.2,96.5 348.0,100.3 350.5,104.1 348.0,103.0 344.4,103.1 341.5,102.9 338.1,104.1 336.0,102.9" fill="none" stroke="#616161" stroke-width="1.3" stroke-linejoin="round"/>
<polygon points="325.0,108.3 329.5,106.9 333.7,107.0 337.9,107.5 340.6,107.7 343.4,108.0 347.8,108.1 350.9,109.8 349.2,113.0 348.1,117.0 347.8,120.2 345.9,124.3 344.6,126.9 343.5,131.2 339.6,134.4 338.0,133.1 338.2,129.4 339.3,126.1 339.8,124.2 337.0,126.3 333.6,128.6 331.4,127.3 328.0,127.6 325.1,123.7 324.6,120.5 324.8,117.7 324.8,114.9 325.1,110.7" fill="none" stroke="#616161" stroke-width="1.3" stroke-linejoin="round"/>
<polygon points="351.7,102.9 353.4,99.8 354.5,97.2 356.0,94.0 358.8,91.8 360.4,93.6 362.9,96.9 367.2,99.0 368.2,103.9 364.5,104.0 361.7,103.0 357.9,103.3 355.1,103.0" fill="none" stroke="#616161" stroke-width="1.3" stroke-linejoin="round"/>
<polygon points="339.2,89.3 343.7,89.3 344.4,102.7 347.4,110.1 344.4,123.6 340.7,129.6 339.9,117.6 341.4,107.2 339.2,99.7" fill="#8c8c8c" stroke="#8c8c8c" stroke-width="0.8" stroke-linejoin="round"/>
<polygon points="375.9,102.7 379.1,98.1 379.8,95.0 380.3,90.9 380.1,88.3 383.3,83.5 384.8,87.1 387.0,89.8 390.8,86.0 392.8,89.2 394.8,91.9 396.5,95.0 397.9,99.8 402.1,104.0 399.9,103.4 396.6,103.5 392.9,102.7 390.2,103.6 386.2,102.8 382.4,103.0 380.3,102.6" fill="none" stroke="#616161" stroke-width="1.3" stroke-linejoin="round"/>
<polygon points="376.9,107.3 380.8,106.7 383.3,107.4 386.2,107.6 389.8,107.6 393.2,106.7 395.8,106.6 399.3,107.5 399.7,111.1 398.6,114.9 398.5,117.4 396.8,120.6 396.3,123.1 395.7,126.0 395.7,129.2 391.2,129.9 389.2,127.1 389.6,123.6 386.4,123.6 381.8,123.1 381.1,120.4 380.7,115.6 379.0,112.6 377.9,109.9" fill="none" stroke="#616161" stroke-width="1.3" stroke-linejoin="round"/>
<path d="M393.5 104.2 L396.0 101.0 L399.5 103.3 L402.2 104.6 L404.5 103.5 L407.2 102.1 L409.8 100.8 L413.3 98.5 L416.3 99.7 L418.6 100.5 L421.6 100.8 L424.8 102.3 L427.9 101.0 L430.5 100.3 L433.7 99.9 L436.6 99.6 L439.5 99.9 L442.7 100.0 L445.9 100.3 L447.7 100.1 L451.0 100.7 L454.2 99.5 L457.4 99.6 L461.0 98.9 L463.3 98.6 L466.6 99.8 L469.2 99.7 L472.7 100.8 L475.3 101.2 L478.6 102.7" fill="none" stroke="#808080" stroke-width="3.44" stroke-linecap="round" stroke-linejoin="round"/>
<polygon points="395.3,108.5 398.5,109.1 401.4,109.0 404.1,110.0 402.9,113.3 400.4,117.9 399.2,120.3 397.9,123.8 396.7,126.3 395.5,127.1 393.9,123.3 393.0,121.1 392.6,117.6 393.6,115.0 393.4,111.8" fill="none" stroke="#616161" stroke-width="1.3" stroke-linejoin="round"/>
<polygon points="417.8,99.1 419.8,97.7 422.6,95.3 423.5,91.9 426.1,89.0 426.3,86.4 426.8,83.2 427.8,80.8 429.1,76.9 430.8,76.9 432.1,80.7 432.5,85.0 433.7,88.3 435.2,91.4 436.6,93.3 439.6,94.9 443.7,98.0 445.2,94.1 445.0,90.3 444.9,87.7 443.0,84.1 446.4,83.0 446.7,86.8 447.8,90.2 448.9,93.7 449.7,97.4 455.2,99.3 455.2,102.2 452.0,103.1 448.2,102.1 444.8,103.3 442.9,102.3 438.8,102.9 435.4,103.3 433.4,103.6 429.4,103.8 427.1,102.8 424.1,103.9 421.0,103.7 417.8,103.5" fill="none" stroke="#616161" stroke-width="1.3" stroke-linejoin="round"/>
<polygon points="416.7,105.9 420.7,105.2 423.5,106.2 427.9,105.0 430.0,105.9 433.7,106.2 437.2,106.0 440.0,106.1 443.5,105.6 447.2,105.4 446.5,109.3 445.9,112.7 444.9,117.4 444.0,121.3 447.1,124.6 443.3,130.2 439.7,129.5 436.7,129.2 432.7,129.1 429.3,128.3 425.7,127.8 424.9,123.8 422.2,120.5 420.5,116.9 418.3,114.2 418.8,112.0 418.3,108.9" fill="none" stroke="#616161" stroke-width="1.3" stroke-linejoin="round"/>
<polygon points="424.9,92.2 430.1,84.8 433.1,93.7 432.3,105.7 424.9,107.2 421.1,101.2" fill="#999999" stroke="#999999" stroke-width="0.8" stroke-linejoin="round"/>
<polygon points="464.4,100.3 464.4,97.0 465.8,93.3 465.7,90.8 468.6,87.5 470.9,84.3 475.3,83.3 480.9,85.1 482.1,87.8 484.4,90.8 488.9,88.0 488.5,83.7 489.2,79.6 491.2,79.5 491.9,82.5 491.9,85.7 491.9,89.4 493.7,92.7 495.9,94.7 500.2,98.3 499.5,102.9 495.9,103.0 493.4,103.5 489.8,103.4 487.5,103.0 482.9,102.8 480.7,102.4 477.2,103.2 474.1,103.0 471.1,102.8 467.1,103.1 464.1,103.0" fill="none" stroke="#616161" stroke-width="1.3" stroke-linejoin="round"/>
<polygon points="463.8,105.6 467.6,104.9 469.8,104.9 473.5,105.6 475.5,105.5 479.8,104.9 482.5,105.3 486.0,104.3 488.7,104.0 491.3,105.0 494.7,104.4 497.5,104.1 495.1,107.2 494.5,109.6 492.1,114.1 492.1,117.5 492.9,120.8 495.6,123.2 494.3,128.1 490.5,126.9 486.2,126.8 482.1,130.0 478.8,129.1 473.8,128.0 472.4,124.7 469.7,120.0 467.1,117.2 464.0,114.2 464.5,109.5" fill="none" stroke="#616161" stroke-width="1.3" stroke-linejoin="round"/>
<polygon points="471.5,87.8 478.9,87.8 481.9,99.7 482.7,117.6 477.4,119.1 474.4,105.7 470.0,99.7" fill="#949494" stroke="#949494" stroke-width="0.8" stroke-linejoin="round"/>
<path d="M462.5 102.7 L465.3 103.1 L467.9 102.6 L471.2 102.9 L473.4 103.1 L476.5 102.9 L478.4 103.2 L481.3 101.7 L484.5 101.6 L487.2 101.5 L490.4 101.4 L493.7 101.1 L496.5 100.4 L499.0 100.7 L503.4 100.1 L505.9 101.1 L509.4 101.4 L511.7 102.5 L514.6 102.4 L517.1 101.3 L521.3 101.0 L523.1 100.6 L526.7 100.7 L529.7 100.6 L531.7 99.6 L535.0 99.4 L537.4 98.8 L540.0 98.7 L543.1 99.0" fill="none" stroke="#808080" stroke-width="3.44" stroke-linecap="round" stroke-linejoin="round"/>
<polygon points="501.9,99.8 504.2,98.1 507.3,96.6 509.8,92.6 511.7,89.5 513.4,85.8 513.8,81.6 515.0,78.7 517.1,75.7 518.5,79.9 520.2,82.6 524.3,84.6 525.4,86.5 527.6,88.9 532.1,88.0 533.6,91.4 535.9,95.1 538.3,95.9 541.6,96.8 541.7,99.8 541.9,103.9 539.2,103.6 535.1,102.7 532.2,104.1 529.9,103.7 525.7,103.0 522.5,103.3 520.5,103.0 517.3,103.5 513.4,103.4 510.0,103.6 508.1,103.2 505.1,103.1 501.1,103.7" fill="none" stroke="#616161" stroke-width="1.3" stroke-linejoin="round"/>
<polygon points="503.9,105.0 507.6,105.5 510.5,104.9 513.7,104.7 517.1,105.2 521.4,105.0 523.8,104.7 528.2,104.3 531.2,103.7 534.5,104.7 532.7,108.5 531.3,112.0 530.7,114.5 529.8,117.7 530.1,119.9 528.4,123.7 526.9,128.4 524.3,131.3 520.9,130.8 518.0,130.3 515.0,130.0 513.1,127.2 511.3,122.9 509.6,120.7 510.3,117.1 509.8,114.6 509.0,111.2 507.2,108.6" fill="none" stroke="#616161" stroke-width="1.3" stroke-linejoin="round"/>
<polygon points="513.3,89.3 518.5,84.8 526.7,96.7 529.7,105.7 523.7,117.6 519.2,114.6 513.3,105.7 508.8,102.7" fill="#949494" stroke="#949494" stroke-width="0.8" stroke-linejoin="round"/>
<ellipse cx="352.6" cy="107.4" rx="1.10" ry="0.95" fill="#141414"/>
<ellipse cx="381.4" cy="107.5" rx="0.90" ry="0.78" fill="#000000"/>
<ellipse cx="381.3" cy="101.3" rx="1.50" ry="1.34" fill="#292929"/>
<ellipse cx="387.2" cy="103.9" rx="1.10" ry="1.39" fill="#292929"/>
<ellipse cx="403.7" cy="106.4" rx="1.50" ry="1.57" fill="#000000"/>
<ellipse cx="361.9" cy="100.8" rx="1.10" ry="1.19" fill="#000000"/>
<ellipse cx="331.9" cy="106.6" rx="1.80" ry="2.31" fill="#000000"/>
<ellipse cx="399.0" cy="104.7" rx="1.10" ry="1.16" fill="#000000"/>
<ellipse cx="343.3" cy="106.1" rx="1.30" ry="1.52" fill="#141414"/>
<ellipse cx="367.6" cy="99.4" rx="1.10" ry="1.32" fill="#000000"/>
<ellipse cx="355.6" cy="101.0" rx="1.80" ry="1.76" fill="#141414"/>
<ellipse cx="358.5" cy="105.4" rx="1.10" ry="1.27" fill="#292929"/>
<ellipse cx="374.9" cy="101.6" rx="1.80" ry="2.18" fill="#000000"/>
<ellipse cx="324.4" cy="104.3" rx="1.80" ry="2.11" fill="#292929"/>
<ellipse cx="391.7" cy="106.3" rx="1.80" ry="1.81" fill="#292929"/>
<ellipse cx="337.8" cy="106.6" rx="0.90" ry="0.79" fill="#000000"/>
<ellipse cx="393.4" cy="100.7" rx="1.50" ry="1.88" fill="#000000"/>
<ellipse cx="351.0" cy="103.6" rx="0.90" ry="0.86" fill="#292929"/>
<ellipse cx="403.0" cy="100.8" rx="1.10" ry="1.35" fill="#141414"/>
<ellipse cx="408.5" cy="101.1" rx="1.50" ry="1.81" fill="#000000"/>
<ellipse cx="330.1" cy="102.0" rx="0.90" ry="1.01" fill="#141414"/>
<ellipse cx="348.1" cy="107.9" rx="1.10" ry="1.36" fill="#000000"/>
<ellipse cx="376.5" cy="107.6" rx="1.80" ry="2.12" fill="#292929"/>
<ellipse cx="369.8" cy="103.5" rx="1.50" ry="1.31" fill="#000000"/>
<ellipse cx="344.5" cy="93.6" rx="0.90" ry="0.94" fill="#000000"/>
<ellipse cx="344.5" cy="87.9" rx="1.50" ry="1.93" fill="#292929"/>
<ellipse cx="334.4" cy="99.9" rx="1.80" ry="1.65" fill="#000000"/>
<ellipse cx="342.2" cy="100.0" rx="0.90" ry="1.03" fill="#000000"/>
<ellipse cx="339.3" cy="91.1" rx="2.30" ry="2.62" fill="#000000"/>
<ellipse cx="346.5" cy="99.9" rx="0.90" ry="1.16" fill="#292929"/>
<ellipse cx="333.8" cy="119.9" rx="1.30" ry="1.21" fill="#000000"/>
<ellipse cx="348.1" cy="113.2" rx="1.30" ry="1.21" fill="#000000"/>
<ellipse cx="343.9" cy="125.6" rx="1.50" ry="1.49" fill="#000000"/>
<ellipse cx="336.9" cy="114.8" rx="1.50" ry="1.31" fill="#292929"/>
<ellipse cx="342.5" cy="112.5" rx="2.30" ry="2.89" fill="#141414"/>
<ellipse cx="327.9" cy="115.2" rx="1.80" ry="1.83" fill="#000000"/>
<ellipse cx="335.3" cy="125.1" rx="1.10" ry="0.96" fill="#292929"/>
<ellipse cx="326.1" cy="120.5" rx="1.50" ry="1.28" fill="#000000"/>
<ellipse cx="341.7" cy="119.8" rx="1.30" ry="1.65" fill="#141414"/>
<ellipse cx="339.0" cy="133.4" rx="1.80" ry="1.58" fill="#000000"/>
<ellipse cx="329.2" cy="125.7" rx="1.50" ry="1.79" fill="#000000"/>
<ellipse cx="346.9" cy="119.0" rx="1.10" ry="1.30" fill="#141414"/>
<ellipse cx="339.1" cy="127.4" rx="1.10" ry="1.36" fill="#000000"/>
<ellipse cx="356.6" cy="94.6" rx="1.80" ry="1.65" fill="#000000"/>
<ellipse cx="381.5" cy="91.0" rx="1.80" ry="1.56" fill="#000000"/>
<ellipse cx="392.9" cy="91.6" rx="2.30" ry="2.34" fill="#141414"/>
<ellipse cx="390.5" cy="86.9" rx="0.90" ry="0.93" fill="#000000"/>
<ellipse cx="390.5" cy="96.7" rx="0.90" ry="1.08" fill="#000000"/>
<ellipse cx="380.1" cy="95.5" rx="0.90" ry="0.96" fill="#000000"/>
<ellipse cx="385.7" cy="97.2" rx="1.30" ry="1.60" fill="#000000"/>
<ellipse cx="387.5" cy="91.5" rx="0.90" ry="0.93" fill="#000000"/>
<ellipse cx="383.1" cy="84.7" rx="1.80" ry="1.97" fill="#000000"/>
<ellipse cx="397.5" cy="98.6" rx="0.90" ry="1.12" fill="#000000"/>
<ellipse cx="395.0" cy="110.9" rx="1.30" ry="1.64" fill="#292929"/>
<ellipse cx="393.5" cy="117.3" rx="1.50" ry="1.92" fill="#000000"/>
<ellipse cx="388.5" cy="115.2" rx="1.80" ry="1.81" fill="#000000"/>
<ellipse cx="398.3" cy="116.4" rx="1.30" ry="1.21" fill="#000000"/>
<ellipse cx="385.5" cy="108.0" rx="0.90" ry="0.88" fill="#000000"/>
<ellipse cx="394.5" cy="124.9" rx="1.50" ry="1.77" fill="#141414"/>
<ellipse cx="388.0" cy="123.2" rx="1.80" ry="2.00" fill="#000000"/>
<ellipse cx="383.8" cy="117.8" rx="1.50" ry="1.67" fill="#141414"/>
<ellipse cx="390.7" cy="127.8" rx="1.10" ry="1.16" fill="#141414"/>
<ellipse cx="380.1" cy="113.5" rx="1.10" ry="1.42" fill="#141414"/>
<ellipse cx="475.7" cy="102.2" rx="1.10" ry="0.99" fill="#141414"/>
<ellipse cx="457.0" cy="97.0" rx="0.90" ry="1.15" fill="#000000"/>
<ellipse cx="416.6" cy="97.5" rx="1.50" ry="1.76" fill="#292929"/>
<ellipse cx="432.0" cy="102.9" rx="1.30" ry="1.13" fill="#000000"/>
<ellipse cx="450.3" cy="98.6" rx="0.90" ry="1.11" fill="#000000"/>
<ellipse cx="428.3" cy="100.2" rx="0.90" ry="0.95" fill="#000000"/>
<ellipse cx="437.1" cy="99.9" rx="2.30" ry="2.16" fill="#141414"/>
<ellipse cx="457.6" cy="101.1" rx="0.90" ry="0.83" fill="#292929"/>
<ellipse cx="422.5" cy="101.0" rx="0.90" ry="0.98" fill="#000000"/>
<ellipse cx="462.5" cy="102.7" rx="1.80" ry="1.86" fill="#141414"/>
<ellipse cx="445.2" cy="97.4" rx="1.80" ry="1.76" fill="#292929"/>
<ellipse cx="446.5" cy="103.7" rx="1.50" ry="1.88" fill="#000000"/>
<ellipse cx="471.2" cy="103.5" rx="1.50" ry="1.68" fill="#000000"/>
<ellipse cx="469.6" cy="97.2" rx="1.50" ry="1.53" fill="#000000"/>
<ellipse cx="418.0" cy="103.5" rx="1.50" ry="1.43" fill="#141414"/>
<ellipse cx="463.9" cy="96.9" rx="1.50" ry="1.36" fill="#141414"/>
<ellipse cx="411.6" cy="95.9" rx="0.90" ry="0.91" fill="#000000"/>
<ellipse cx="425.5" cy="103.7" rx="0.90" ry="0.96" fill="#000000"/>
<ellipse cx="431.7" cy="96.8" rx="1.30" ry="1.45" fill="#141414"/>
<ellipse cx="451.9" cy="103.6" rx="1.80" ry="1.55" fill="#292929"/>
<ellipse cx="400.8" cy="110.7" rx="1.50" ry="1.45" fill="#000000"/>
<ellipse cx="398.3" cy="121.2" rx="1.30" ry="1.51" fill="#141414"/>
<ellipse cx="445.7" cy="91.9" rx="1.10" ry="1.07" fill="#000000"/>
<ellipse cx="429.8" cy="81.8" rx="0.90" ry="0.86" fill="#000000"/>
<ellipse cx="434.1" cy="90.6" rx="1.30" ry="1.42" fill="#141414"/>
<ellipse cx="427.7" cy="86.7" rx="1.10" ry="1.36" fill="#292929"/>
<ellipse cx="445.5" cy="85.2" rx="1.50" ry="1.74" fill="#292929"/>
<ellipse cx="425.6" cy="93.1" rx="2.30" ry="2.95" fill="#000000"/>
<ellipse cx="430.6" cy="127.7" rx="1.50" ry="1.35" fill="#000000"/>
<ellipse cx="438.9" cy="112.0" rx="0.90" ry="0.99" fill="#000000"/>
<ellipse cx="441.0" cy="116.0" rx="1.10" ry="1.38" fill="#141414"/>
<ellipse cx="442.1" cy="126.1" rx="2.30" ry="2.77" fill="#292929"/>
<ellipse cx="433.2" cy="113.3" rx="1.50" ry="1.80" fill="#000000"/>
<ellipse cx="428.1" cy="115.8" rx="1.30" ry="1.30" fill="#141414"/>
<ellipse cx="426.2" cy="110.5" rx="1.50" ry="1.52" fill="#292929"/>
<ellipse cx="432.7" cy="108.5" rx="1.30" ry="1.49" fill="#141414"/>
<ellipse cx="426.4" cy="126.2" rx="0.90" ry="1.13" fill="#292929"/>
<ellipse cx="435.9" cy="124.5" rx="1.10" ry="1.35" fill="#000000"/>
<ellipse cx="429.9" cy="122.7" rx="0.90" ry="0.97" fill="#292929"/>
<ellipse cx="432.5" cy="118.7" rx="1.10" ry="1.22" fill="#292929"/>
<ellipse cx="421.4" cy="114.7" rx="1.50" ry="1.94" fill="#000000"/>
<ellipse cx="439.8" cy="107.5" rx="1.10" ry="1.00" fill="#141414"/>
<ellipse cx="424.2" cy="119.0" rx="0.90" ry="1.02" fill="#000000"/>
<ellipse cx="444.9" cy="110.0" rx="1.10" ry="1.15" fill="#000000"/>
<ellipse cx="418.7" cy="108.5" rx="0.90" ry="0.93" fill="#292929"/>
<ellipse cx="436.6" cy="120.1" rx="1.30" ry="1.56" fill="#000000"/>
<ellipse cx="445.1" cy="114.1" rx="0.90" ry="0.82" fill="#000000"/>
<ellipse cx="443.8" cy="119.6" rx="1.50" ry="1.49" fill="#141414"/>
<ellipse cx="490.8" cy="80.7" rx="1.50" ry="1.89" fill="#292929"/>
<ellipse cx="478.8" cy="98.1" rx="1.80" ry="2.24" fill="#000000"/>
<ellipse cx="496.5" cy="101.9" rx="1.10" ry="1.38" fill="#000000"/>
<ellipse cx="475.4" cy="88.0" rx="0.90" ry="1.05" fill="#000000"/>
<ellipse cx="492.2" cy="99.2" rx="1.50" ry="1.55" fill="#292929"/>
<ellipse cx="483.0" cy="90.8" rx="1.30" ry="1.45" fill="#000000"/>
<ellipse cx="478.4" cy="84.8" rx="0.90" ry="0.82" fill="#000000"/>
<ellipse cx="472.0" cy="91.0" rx="1.50" ry="1.75" fill="#292929"/>
<ellipse cx="467.2" cy="101.3" rx="1.10" ry="1.00" fill="#000000"/>
<ellipse cx="496.6" cy="96.1" rx="1.30" ry="1.16" fill="#000000"/>
<ellipse cx="488.1" cy="89.3" rx="1.10" ry="1.35" fill="#000000"/>
<ellipse cx="484.2" cy="98.3" rx="1.10" ry="0.99" fill="#000000"/>
<ellipse cx="475.8" cy="93.9" rx="1.30" ry="1.38" fill="#141414"/>
<ellipse cx="471.7" cy="85.9" rx="1.30" ry="1.13" fill="#141414"/>
<ellipse cx="490.1" cy="94.0" rx="1.10" ry="1.39" fill="#000000"/>
<ellipse cx="467.3" cy="89.6" rx="1.10" ry="1.41" fill="#292929"/>
<ellipse cx="491.4" cy="86.6" rx="1.10" ry="1.23" fill="#000000"/>
<ellipse cx="482.7" cy="102.2" rx="1.10" ry="1.16" fill="#000000"/>
<ellipse cx="478.9" cy="89.7" rx="0.90" ry="0.95" fill="#292929"/>
<ellipse cx="487.5" cy="101.8" rx="1.30" ry="1.48" fill="#000000"/>
<ellipse cx="484.2" cy="120.5" rx="1.10" ry="1.08" fill="#000000"/>
<ellipse cx="475.5" cy="113.1" rx="0.90" ry="0.94" fill="#141414"/>
<ellipse cx="478.3" cy="119.8" rx="1.50" ry="1.44" fill="#000000"/>
<ellipse cx="466.3" cy="113.5" rx="2.30" ry="2.88" fill="#292929"/>
<ellipse cx="494.0" cy="127.6" rx="1.50" ry="1.48" fill="#292929"/>
<ellipse cx="486.4" cy="125.2" rx="0.90" ry="0.88" fill="#292929"/>
<ellipse cx="469.4" cy="119.0" rx="1.50" ry="1.72" fill="#000000"/>
<ellipse cx="492.1" cy="104.9" rx="0.90" ry="0.86" fill="#000000"/>
<ellipse cx="476.0" cy="127.7" rx="1.80" ry="2.06" fill="#292929"/>
<ellipse cx="491.6" cy="118.2" rx="2.30" ry="2.78" fill="#000000"/>
<ellipse cx="488.0" cy="106.8" rx="0.90" ry="1.06" fill="#000000"/>
<ellipse cx="484.1" cy="111.7" rx="1.50" ry="1.63" fill="#141414"/>
<ellipse cx="470.8" cy="108.8" rx="1.50" ry="1.52" fill="#141414"/>
<ellipse cx="490.4" cy="111.6" rx="0.90" ry="0.88" fill="#292929"/>
<ellipse cx="480.4" cy="107.9" rx="1.80" ry="2.32" fill="#000000"/>
<ellipse cx="464.4" cy="108.4" rx="0.90" ry="0.78" fill="#292929"/>
<ellipse cx="481.9" cy="124.6" rx="1.50" ry="1.32" fill="#000000"/>
<ellipse cx="473.0" cy="122.9" rx="1.80" ry="1.94" fill="#000000"/>
<ellipse cx="483.1" cy="129.2" rx="0.90" ry="0.97" fill="#141414"/>
<ellipse cx="484.2" cy="116.2" rx="0.90" ry="0.84" fill="#000000"/>
<ellipse cx="479.6" cy="113.2" rx="1.10" ry="1.19" fill="#000000"/>
<ellipse cx="530.8" cy="103.3" rx="1.50" ry="1.52" fill="#000000"/>
<ellipse cx="519.4" cy="100.1" rx="1.80" ry="1.84" fill="#000000"/>
<ellipse cx="505.0" cy="101.5" rx="1.50" ry="1.70" fill="#000000"/>
<ellipse cx="512.2" cy="106.3" rx="2.30" ry="2.78" fill="#000000"/>
<ellipse cx="537.8" cy="96.1" rx="1.30" ry="1.22" fill="#000000"/>
<ellipse cx="525.3" cy="103.3" rx="1.10" ry="1.36" fill="#292929"/>
<ellipse cx="538.3" cy="101.4" rx="1.10" ry="1.10" fill="#141414"/>
<ellipse cx="528.7" cy="97.1" rx="1.10" ry="1.29" fill="#000000"/>
<ellipse cx="500.1" cy="99.7" rx="0.90" ry="1.10" fill="#000000"/>
<ellipse cx="514.6" cy="98.9" rx="1.10" ry="1.32" fill="#292929"/>
<ellipse cx="509.8" cy="98.8" rx="0.90" ry="1.14" fill="#141414"/>
<ellipse cx="542.8" cy="100.0" rx="1.50" ry="1.64" fill="#000000"/>
<ellipse cx="511.6" cy="91.7" rx="2.30" ry="2.38" fill="#292929"/>
<ellipse cx="522.6" cy="92.9" rx="1.10" ry="1.20" fill="#292929"/>
<ellipse cx="518.9" cy="83.1" rx="2.30" ry="2.22" fill="#292929"/>
<ellipse cx="533.7" cy="93.3" rx="1.30" ry="1.54" fill="#000000"/>
<ellipse cx="516.5" cy="88.9" rx="0.90" ry="0.87" fill="#000000"/>
<ellipse cx="529.7" cy="88.6" rx="1.50" ry="1.75" fill="#000000"/>
<ellipse cx="523.8" cy="88.5" rx="1.30" ry="1.50" fill="#000000"/>
<ellipse cx="528.1" cy="93.0" rx="0.90" ry="0.94" fill="#292929"/>
<ellipse cx="532.5" cy="98.9" rx="1.10" ry="1.05" fill="#000000"/>
<ellipse cx="516.8" cy="95.1" rx="0.90" ry="1.07" fill="#000000"/>
<ellipse cx="523.9" cy="97.8" rx="1.10" ry="0.98" fill="#000000"/>
<ellipse cx="512.4" cy="124.6" rx="1.80" ry="1.81" fill="#000000"/>
<ellipse cx="520.0" cy="122.0" rx="1.50" ry="1.60" fill="#141414"/>
<ellipse cx="528.8" cy="121.9" rx="1.50" ry="1.81" fill="#000000"/>
<ellipse cx="523.5" cy="128.6" rx="0.90" ry="0.96" fill="#141414"/>
<ellipse cx="529.0" cy="113.4" rx="1.50" ry="1.29" fill="#141414"/>
<ellipse cx="524.2" cy="109.3" rx="1.30" ry="1.55" fill="#292929"/>
<ellipse cx="532.7" cy="107.6" rx="0.90" ry="1.07" fill="#000000"/>
<ellipse cx="514.1" cy="119.5" rx="0.90" ry="0.97" fill="#000000"/>
<ellipse cx="519.6" cy="115.6" rx="1.50" ry="1.73" fill="#000000"/>
<ellipse cx="512.8" cy="111.5" rx="0.90" ry="1.13" fill="#141414"/>
<ellipse cx="524.8" cy="115.8" rx="0.90" ry="1.08" fill="#292929"/>
<ellipse cx="512.2" cy="115.5" rx="1.10" ry="1.16" fill="#292929"/>
<ellipse cx="518.8" cy="128.8" rx="1.10" ry="1.29" fill="#000000"/>
<ellipse cx="520.5" cy="107.3" rx="0.90" ry="0.88" fill="#000000"/>
<ellipse cx="505.0" cy="106.0" rx="0.90" ry="1.11" fill="#000000"/>
<ellipse cx="524.3" cy="124.5" rx="0.90" ry="0.93" fill="#000000"/>
<ellipse cx="508.4" cy="110.2" rx="0.90" ry="0.83" fill="#000000"/>
<ellipse cx="514.7" cy="128.8" rx="0.90" ry="0.87" fill="#141414"/>
<path d="M323.5 105.7 L326.9 106.0 L331.4 105.7 L333.8 106.2 L337.0 105.7 L339.7 105.8 L342.9 105.9 L345.3 106.0 L348.2 105.4 L350.3 106.0 L353.6 104.7 L356.5 103.6 L358.4 102.8 L361.1 102.3 L363.6 102.3 L365.7 101.3 L370.1 102.0 L372.8 103.1 L375.3 104.2 L379.7 104.4 L383.5 104.1 L385.8 104.1 L389.2 104.8 L392.6 104.2 L395.3 104.4 L398.7 104.8 L403.1 104.7 L406.0 104.5 L408.6 103.9" fill="none" stroke="#9e9e9e" stroke-width="1.78" stroke-linecap="round" stroke-linejoin="round"/>
<path d="M392.9 108.7 L393.4 129.6" fill="none" stroke="#999999" stroke-width="3.00" stroke-linecap="round" stroke-linejoin="round"/>
<path d="M393.2 119.1 L393.7 125.8" fill="none" stroke="#d1d1d1" stroke-width="1.80" stroke-linecap="round" stroke-linejoin="round"/>
<path d="M325.0 105.7 L330.2 105.7" fill="none" stroke="#d9d9d9" stroke-width="2.20" stroke-linecap="round" stroke-linejoin="round"/>
<path d="M339.2 106.1 L342.1 105.6 L345.1 105.7" fill="none" stroke="#b2b2b2" stroke-width="4.61" stroke-linecap="round" stroke-linejoin="round"/>
<path d="M339.2 106.1 L342.3 105.7 L345.1 105.7" fill="none" stroke="#d6d6d6" stroke-width="3.21" stroke-linecap="round" stroke-linejoin="round"/>
<path d="M356.3 103.7 L358.7 103.3 L361.1 102.3 L363.3 101.7 L366.0 101.2" fill="none" stroke="#b2b2b2" stroke-width="4.10" stroke-linecap="round" stroke-linejoin="round"/>
<path d="M356.3 103.7 L358.6 103.3 L361.1 102.6 L363.4 101.5 L366.0 101.2" fill="none" stroke="#d6d6d6" stroke-width="2.70" stroke-linecap="round" stroke-linejoin="round"/>
<path d="M374.0 103.4 L377.5 103.9" fill="none" stroke="#b2b2b2" stroke-width="5.29" stroke-linecap="round" stroke-linejoin="round"/>
<path d="M374.0 103.4 L377.5 103.9" fill="none" stroke="#d6d6d6" stroke-width="3.89" stroke-linecap="round" stroke-linejoin="round"/>
<path d="M382.9 104.5 L385.8 104.7 L389.4 104.0 L391.7 104.0 L395.1 103.9" fill="none" stroke="#b2b2b2" stroke-width="5.29" stroke-linecap="round" stroke-linejoin="round"/>
<path d="M382.9 104.5 L386.0 104.0 L389.0 104.4 L391.7 104.2 L395.1 103.9" fill="none" stroke="#d6d6d6" stroke-width="3.89" stroke-linecap="round" stroke-linejoin="round"/>
<path d="M401.1 104.5 L404.1 104.5" fill="none" stroke="#b2b2b2" stroke-width="4.44" stroke-linecap="round" stroke-linejoin="round"/>
<path d="M401.1 104.5 L404.1 104.5" fill="none" stroke="#d6d6d6" stroke-width="3.04" stroke-linecap="round" stroke-linejoin="round"/>
<path d="M393.5 104.2 L396.0 101.3 L399.9 102.8 L402.9 104.5 L404.8 102.9 L407.0 102.0 L409.0 100.1 L414.1 98.6 L416.1 99.4 L418.5 100.5 L422.2 101.2 L425.0 102.2 L427.7 101.3 L431.3 100.7 L433.5 100.4 L436.9 100.2 L440.0 100.1 L443.1 99.6 L445.4 99.6 L448.7 99.9 L450.9 100.6 L454.1 99.6 L457.4 99.2 L460.7 99.2 L463.5 99.2 L466.8 99.5 L469.9 100.1 L473.1 100.4 L475.6 101.3 L478.6 102.7" fill="none" stroke="#9e9e9e" stroke-width="1.78" stroke-linecap="round" stroke-linejoin="round"/>
<path d="M427.5 90.0 L428.6 95.5" fill="none" stroke="#e0e0e0" stroke-width="2.40" stroke-linecap="round" stroke-linejoin="round"/>
<path d="M421.6 101.9 L426.0 103.2 L428.2 101.9 L430.5 100.4" fill="none" stroke="#b2b2b2" stroke-width="5.46" stroke-linecap="round" stroke-linejoin="round"/>
<path d="M421.6 101.9 L426.0 103.4 L428.2 102.2 L430.5 100.4" fill="none" stroke="#d6d6d6" stroke-width="4.06" stroke-linecap="round" stroke-linejoin="round"/>
<path d="M396.5 101.5 L402.5 104.2 L409.2 100.4 L413.7 98.5" fill="none" stroke="#d1d1d1" stroke-width="2.00" stroke-linecap="round" stroke-linejoin="round"/>
<path d="M449.5 100.4 L452.5 100.7" fill="none" stroke="#cccccc" stroke-width="2.00" stroke-linecap="round" stroke-linejoin="round"/>
<path d="M478.9 105.7 L479.7 116.1" fill="none" stroke="#d9d9d9" stroke-width="2.20" stroke-linecap="round" stroke-linejoin="round"/>
<path d="M462.5 102.7 L465.1 102.9 L467.7 102.5 L470.3 102.6 L473.5 102.8 L476.3 102.7 L479.1 103.0 L482.1 101.8 L485.1 101.9 L488.0 101.8 L490.3 100.7 L492.8 101.1 L495.6 100.0 L499.6 100.6 L503.0 100.0 L506.2 101.4 L508.3 102.0 L511.6 102.4 L514.9 102.6 L517.3 101.9 L521.1 100.6 L524.1 100.0 L526.3 99.8 L528.9 99.7 L532.1 99.7 L535.3 99.9 L537.1 99.0 L540.1 99.5 L543.1 99.0" fill="none" stroke="#9e9e9e" stroke-width="1.78" stroke-linecap="round" stroke-linejoin="round"/>
<path d="M478.2 102.7 L481.0 103.0 L483.4 102.7" fill="none" stroke="#b2b2b2" stroke-width="4.61" stroke-linecap="round" stroke-linejoin="round"/>
<path d="M478.2 102.7 L481.1 102.9 L483.4 102.7" fill="none" stroke="#d6d6d6" stroke-width="3.21" stroke-linecap="round" stroke-linejoin="round"/>
<path d="M486.4 101.2 L489.9 101.2 L493.2 100.7 L496.1 100.4" fill="none" stroke="#b2b2b2" stroke-width="4.61" stroke-linecap="round" stroke-linejoin="round"/>
<path d="M486.4 101.2 L489.3 101.0 L493.0 101.1 L496.1 100.4" fill="none" stroke="#d6d6d6" stroke-width="3.21" stroke-linecap="round" stroke-linejoin="round"/>
<path d="M502.8 100.4 L505.6 101.0 L508.4 101.6 L511.8 101.9" fill="none" stroke="#b2b2b2" stroke-width="4.44" stroke-linecap="round" stroke-linejoin="round"/>
<path d="M502.8 100.4 L506.1 100.6 L508.6 101.3 L511.8 101.9" fill="none" stroke="#d6d6d6" stroke-width="3.04" stroke-linecap="round" stroke-linejoin="round"/>
<path d="M523.0 100.4 L526.5 100.4 L529.7 99.7" fill="none" stroke="#b2b2b2" stroke-width="5.29" stroke-linecap="round" stroke-linejoin="round"/>
<path d="M523.0 100.4 L526.6 100.0 L529.7 99.7" fill="none" stroke="#d6d6d6" stroke-width="3.89" stroke-linecap="round" stroke-linejoin="round"/>
<path d="M539.4 98.2 L541.6 98.2" fill="none" stroke="#b2b2b2" stroke-width="4.44" stroke-linecap="round" stroke-linejoin="round"/>
<path d="M539.4 98.2 L541.6 98.2" fill="none" stroke="#d6d6d6" stroke-width="3.04" stroke-linecap="round" stroke-linejoin="round"/>
<path d="M521.5 111.6 L521.9 117.6" fill="none" stroke="#cccccc" stroke-width="2.00" stroke-linecap="round" stroke-linejoin="round"/>
<path d="M339.2 106.1 L342.5 105.9 L345.1 105.7" fill="none" stroke="#ffffff" stroke-width="2.21" stroke-linecap="round" stroke-linejoin="round"/>
<path d="M356.3 103.7 L358.6 103.0 L361.6 102.2 L363.4 101.5 L366.0 101.2" fill="none" stroke="#ffffff" stroke-width="1.70" stroke-linecap="round" stroke-linejoin="round"/>
<path d="M374.0 103.4 L377.5 103.9" fill="none" stroke="#ffffff" stroke-width="2.89" stroke-linecap="round" stroke-linejoin="round"/>
<path d="M382.9 104.5 L386.1 104.6 L389.0 104.1 L392.1 103.7 L395.1 103.9" fill="none" stroke="#ffffff" stroke-width="2.89" stroke-linecap="round" stroke-linejoin="round"/>
<path d="M385.4 104.5 L392.2 104.2" fill="none" stroke="#ffffff" stroke-width="1.20" stroke-linecap="round" stroke-linejoin="round"/>
<path d="M401.1 104.5 L404.1 104.5" fill="none" stroke="#ffffff" stroke-width="2.04" stroke-linecap="round" stroke-linejoin="round"/>
<path d="M421.6 101.9 L426.0 103.7 L427.9 102.1 L430.5 100.4" fill="none" stroke="#ffffff" stroke-width="3.06" stroke-linecap="round" stroke-linejoin="round"/>
<path d="M478.2 102.7 L480.8 103.0 L483.4 102.7" fill="none" stroke="#ffffff" stroke-width="2.21" stroke-linecap="round" stroke-linejoin="round"/>
<path d="M486.4 101.2 L489.8 101.3 L493.2 100.5 L496.1 100.4" fill="none" stroke="#ffffff" stroke-width="2.21" stroke-linecap="round" stroke-linejoin="round"/>
<path d="M516.2 84.0 L514.7 92.2 L512.1 104.2" fill="none" stroke="#fafafa" stroke-width="2.40" stroke-linecap="round" stroke-linejoin="round"/>
<path d="M502.8 100.4 L505.5 101.1 L509.1 101.4 L511.8 101.9" fill="none" stroke="#ffffff" stroke-width="2.04" stroke-linecap="round" stroke-linejoin="round"/>
<path d="M523.0 100.4 L526.7 99.8 L529.7 99.7" fill="none" stroke="#ffffff" stroke-width="2.89" stroke-linecap="round" stroke-linejoin="round"/>
<path d="M539.4 98.2 L541.6 98.2" fill="none" stroke="#ffffff" stroke-width="2.04" stroke-linecap="round" stroke-linejoin="round"/>
</g>
</svg>
<rect x="325" y="21" width="216.00" height="165.00" fill="none" stroke="#00006a" stroke-width="0.8" stroke-opacity="0.75"/>
<line x1="325" y1="21.3" x2="541" y2="21.3" stroke="#000058" stroke-width="1.1" stroke-opacity="0.85"/>
<line x1="325" y1="186" x2="541" y2="186" stroke="#000040" stroke-width="1"/>
<line x1="346.6" y1="186" x2="346.6" y2="184" stroke="#000050" stroke-width="0.7"/>
<line x1="346.6" y1="21" x2="346.6" y2="23" stroke="#000050" stroke-width="0.7" stroke-opacity="0.7"/>
<line x1="368.2" y1="186" x2="368.2" y2="184" stroke="#000050" stroke-width="0.7"/>
<line x1="368.2" y1="21" x2="368.2" y2="23" stroke="#000050" stroke-width="0.7" stroke-opacity="0.7"/>
<line x1="389.8" y1="186" x2="389.8" y2="184" stroke="#000050" stroke-width="0.7"/>
<line x1="389.8" y1="21" x2="389.8" y2="23" stroke="#000050" stroke-width="0.7" stroke-opacity="0.7"/>
<line x1="411.4" y1="186" x2="411.4" y2="184" stroke="#000050" stroke-width="0.7"/>
<line x1="411.4" y1="21" x2="411.4" y2="23" stroke="#000050" stroke-width="0.7" stroke-opacity="0.7"/>
<line x1="433.0" y1="186" x2="433.0" y2="184" stroke="#000050" stroke-width="0.7"/>
<line x1="433.0" y1="21" x2="433.0" y2="23" stroke="#000050" stroke-width="0.7" stroke-opacity="0.7"/>
<line x1="454.6" y1="186" x2="454.6" y2="184" stroke="#000050" stroke-width="0.7"/>
<line x1="454.6" y1="21" x2="454.6" y2="23" stroke="#000050" stroke-width="0.7" stroke-opacity="0.7"/>
<line x1="476.2" y1="186" x2="476.2" y2="184" stroke="#000050" stroke-width="0.7"/>
<line x1="476.2" y1="21" x2="476.2" y2="23" stroke="#000050" stroke-width="0.7" stroke-opacity="0.7"/>
<line x1="497.8" y1="186" x2="497.8" y2="184" stroke="#000050" stroke-width="0.7"/>
<line x1="497.8" y1="21" x2="497.8" y2="23" stroke="#000050" stroke-width="0.7" stroke-opacity="0.7"/>
<line x1="519.4" y1="186" x2="519.4" y2="184" stroke="#000050" stroke-width="0.7"/>
<line x1="519.4" y1="21" x2="519.4" y2="23" stroke="#000050" stroke-width="0.7" stroke-opacity="0.7"/>
<text x="319.7" y="34.8" font-size="11" text-anchor="end" font-family="Liberation Sans, Arial, sans-serif" stroke="#000" stroke-width="0.3" >300</text>
<text x="319.7" y="50.9" font-size="11" text-anchor="end" font-family="Liberation Sans, Arial, sans-serif" stroke="#000" stroke-width="0.3" >250</text>
<text x="319.7" y="67.0" font-size="11" text-anchor="end" font-family="Liberation Sans, Arial, sans-serif" stroke="#000" stroke-width="0.3" >200</text>
<text x="319.7" y="83.1" font-size="11" text-anchor="end" font-family="Liberation Sans, Arial, sans-serif" stroke="#000" stroke-width="0.3" >150</text>
<text x="319.7" y="100.6" font-size="11" text-anchor="end" font-family="Liberation Sans, Arial, sans-serif" stroke="#000" stroke-width="0.3" >100</text>
<text x="319.7" y="116.0" font-size="11" text-anchor="end" font-family="Liberation Sans, Arial, sans-serif" stroke="#000" stroke-width="0.3" >50</text>
<text x="319.7" y="134.2" font-size="11" text-anchor="end" font-family="Liberation Sans, Arial, sans-serif" stroke="#000" stroke-width="0.3" >0</text>
<text x="319.7" y="150.3" font-size="11" text-anchor="end" font-family="Liberation Sans, Arial, sans-serif" stroke="#000" stroke-width="0.3" >-50</text>
<text x="319.7" y="166.4" font-size="11" text-anchor="end" font-family="Liberation Sans, Arial, sans-serif" stroke="#000" stroke-width="0.3" >-100</text>
<text x="319.7" y="182.3" font-size="11" text-anchor="end" font-family="Liberation Sans, Arial, sans-serif" stroke="#000" stroke-width="0.3" >-150</text>
<text x="326.2" y="198.0" font-size="11" text-anchor="middle" font-family="Liberation Sans, Arial, sans-serif" stroke="#000" stroke-width="0.3" >0</text>
<text x="348.2" y="198.0" font-size="11" text-anchor="middle" font-family="Liberation Sans, Arial, sans-serif" stroke="#000" stroke-width="0.3" >0.2</text>
<text x="369" y="198.0" font-size="11" text-anchor="middle" font-family="Liberation Sans, Arial, sans-serif" stroke="#000" stroke-width="0.3" >0.4</text>
<text x="390.1" y="198.0" font-size="11" text-anchor="middle" font-family="Liberation Sans, Arial, sans-serif" stroke="#000" stroke-width="0.3" >0.6</text>
<text x="410.7" y="198.0" font-size="11" text-anchor="middle" font-family="Liberation Sans, Arial, sans-serif" stroke="#000" stroke-width="0.3" >0.8</text>
<text x="432.0" y="198.0" font-size="11" text-anchor="middle" font-family="Liberation Sans, Arial, sans-serif" stroke="#000" stroke-width="0.3" >1</text>
<text x="454.4" y="198.0" font-size="11" text-anchor="middle" font-family="Liberation Sans, Arial, sans-serif" stroke="#000" stroke-width="0.3" >1.2</text>
<text x="475" y="198.0" font-size="11" text-anchor="middle" font-family="Liberation Sans, Arial, sans-serif" stroke="#000" stroke-width="0.3" >1.4</text>
<text x="496.1" y="198.0" font-size="11" text-anchor="middle" font-family="Liberation Sans, Arial, sans-serif" stroke="#000" stroke-width="0.3" >1.6</text>
<text x="517.3" y="198.0" font-size="11" text-anchor="middle" font-family="Liberation Sans, Arial, sans-serif" stroke="#000" stroke-width="0.3" >1.8</text>
<text x="536.8" y="198.0" font-size="11" text-anchor="middle" font-family="Liberation Sans, Arial, sans-serif" stroke="#000" stroke-width="0.3" >2</text>
<text x="434.6" y="16.5" font-size="10.3" text-anchor="middle" font-family="Liberation Sans, Arial, sans-serif" stroke="#000" stroke-width="0.3" textLength="67.8" lengthAdjust="spacingAndGlyphs">micro-Doppler</text>
<text x="443.8" y="217.2" font-size="12.3" text-anchor="middle" font-family="Liberation Sans, Arial, sans-serif" stroke="#000" stroke-width="0.3" textLength="59" lengthAdjust="spacingAndGlyphs">Time (sec)</text>
<text transform="translate(288.1,101.5) rotate(-90)" font-size="12.5" text-anchor="middle" font-family="Liberation Sans, Arial, sans-serif" stroke="#000" stroke-width="0.3" textLength="85.5" lengthAdjust="spacingAndGlyphs">Frequency (Hz)</text>
<text x="278.4" y="11.8" font-size="15.5" font-weight="bold" font-family="Liberation Serif, Times New Roman, serif">(b)</text>
<svg x="46" y="247.3" width="216.00" height="162.30" viewBox="46 247.3 216.00 162.30" overflow="hidden">
<g filter="url(#jet)">
<rect x="41" y="242.3" width="226.00" height="172.30" fill="#000"/>
<g filter="url(#hz)">
<rect x="206.0" y="247.3" width="2.0" height="162.3" fill="#090909"/>
<rect x="234.8" y="247.3" width="2.5" height="162.3" fill="#0b0b0b"/>
<rect x="242.2" y="247.3" width="1.5" height="162.3" fill="#090909"/>
<rect x="250.0" y="247.3" width="2.0" height="162.3" fill="#090909"/>
<rect x="172.8" y="247.3" width="1.5" height="162.3" fill="#090909"/>
<rect x="187.2" y="247.3" width="1.5" height="162.3" fill="#090909"/>
<rect x="97.0" y="247.3" width="2.0" height="162.3" fill="#070707"/>
<rect x="256.2" y="247.3" width="1.5" height="162.3" fill="#0b0b0b"/>
</g>
<path d="M44.5 332.0 L47.6 332.3 L51.0 331.6 L53.0 331.6 L55.7 329.2 L57.8 329.9 L60.2 330.5 L62.8 329.5 L66.2 329.8 L67.7 329.2 L70.6 329.5" fill="none" stroke="#4c4c4c" stroke-width="12.82" stroke-linecap="round" stroke-linejoin="round"/>
<path d="M69.9 329.5 L72.5 330.7 L76.2 329.9 L78.8 330.2 L81.0 328.8 L85.0 329.4 L88.1 328.4 L91.5 328.0" fill="none" stroke="#4c4c4c" stroke-width="8.83" stroke-linecap="round" stroke-linejoin="round"/>
<path d="M90.8 328.3 L92.2 327.6 L95.7 325.4 L99.1 325.5 L100.3 325.9 L104.1 325.7 L107.3 325.2 L108.4 325.8 L112.2 328.1 L113.9 326.8 L116.9 328.1 L120.3 328.2 L123.2 327.2 L125.5 325.2 L127.3 325.3" fill="none" stroke="#4c4c4c" stroke-width="12.82" stroke-linecap="round" stroke-linejoin="round"/>
<polygon points="46.4,315.0 47.4,318.2 50.3,321.4 52.4,322.5 55.5,326.0 59.2,326.1 62.3,326.9 64.7,324.1 66.1,320.1 68.1,325.4 72.2,327.2 72.1,333.3 68.0,336.1 65.1,337.4 62.1,337.7 59.3,337.4 55.4,336.1 53.4,339.7 51.6,342.1 51.0,345.3 48.4,347.5 46.1,351.2 46.1,350.4 46.2,347.3 45.6,344.0 44.9,340.1 44.6,336.0 44.0,333.2 45.4,328.7 45.4,325.3 45.3,322.2 46.3,318.9" fill="#666666" stroke="#666666" stroke-width="0.8" stroke-linejoin="round"/>
<polygon points="79.6,328.1 80.2,324.9 81.0,321.6 82.6,319.7 83.2,314.5 84.0,309.8 86.2,308.6 86.2,313.6 87.3,316.6 85.1,322.7 87.2,324.6 89.0,327.3 86.2,327.5 82.9,327.4" fill="#6b6b6b" stroke="#6b6b6b" stroke-width="0.8" stroke-linejoin="round"/>
<ellipse cx="51.2" cy="296.2" rx="1.34" ry="1.64" fill="#666666"/>
<ellipse cx="92.3" cy="291.7" rx="1.34" ry="1.94" fill="#808080"/>
<ellipse cx="89.3" cy="346.9" rx="2.54" ry="2.09" fill="#6b6b6b" transform="rotate(30 89.3 346.9)"/>
<ellipse cx="59.4" cy="299.9" rx="1.34" ry="1.49" fill="#1f1f1f"/>
<ellipse cx="58.7" cy="349.2" rx="1.34" ry="1.79" fill="#1a1a1a"/>
<ellipse cx="90.0" cy="358.1" rx="1.49" ry="1.34" fill="#1f1f1f"/>
<ellipse cx="83.3" cy="343.2" rx="1.19" ry="1.19" fill="#333333"/>
<path d="M105.7 317.1 L106.4 322.3" fill="none" stroke="#4c4c4c" stroke-width="1.60" stroke-linecap="round" stroke-linejoin="round"/>
<path d="M98.2 294.0 L99.7 314.9" fill="none" stroke="#141414" stroke-width="1.50" stroke-linecap="round" stroke-linejoin="round"/>
<path d="M114.5 327.1 L117.0 327.2 L120.9 325.9 L123.4 326.2 L125.6 327.2 L129.4 326.5 L131.7 326.5 L134.7 326.2 L137.2 325.7 L140.0 326.5 L143.6 326.1 L145.9 325.1 L148.7 325.9 L151.3 326.4 L154.1 327.2 L156.5 327.5 L159.4 326.7 L162.2 326.8 L164.9 327.9 L167.8 328.1 L170.1 327.5 L172.0 327.5 L175.7 326.8 L177.0 327.3 L180.9 326.0 L182.1 325.6 L185.5 326.6 L187.9 326.6 L190.6 325.5 L194.4 326.5 L197.3 326.0" fill="none" stroke="#4c4c4c" stroke-width="12.82" stroke-linecap="round" stroke-linejoin="round"/>
<polygon points="118.8,322.7 122.4,319.9 123.3,316.5 123.2,314.2 124.7,311.0 124.8,306.8 126.7,304.2 129.6,306.8 131.8,310.1 134.1,314.0 135.7,316.8 138.5,319.8 143.6,323.6 138.9,323.4 136.4,322.9 132.0,323.4 129.4,323.4 126.2,323.4 121.8,323.7" fill="#6b6b6b" stroke="#6b6b6b" stroke-width="0.8" stroke-linejoin="round"/>
<polygon points="130.1,329.6 134.3,330.4 138.3,329.5 137.8,333.2 136.8,336.0 136.1,338.6 134.7,341.2 132.8,345.2 130.0,344.4 130.2,340.0 130.8,335.6 129.8,332.9" fill="#737373" stroke="#737373" stroke-width="0.8" stroke-linejoin="round"/>
<path d="M126.4 294.7 L128.7 289.2 L132.4 288.3 L135.4 294.0" fill="none" stroke="#1f1f1f" stroke-width="1.60" stroke-linecap="round" stroke-linejoin="round"/>
<path d="M148.1 314.1 L148.8 322.3" fill="none" stroke="#4c4c4c" stroke-width="1.50" stroke-linecap="round" stroke-linejoin="round"/>
<polygon points="158.9,323.8 161.5,320.8 163.4,315.9 164.9,313.5 164.7,311.0 165.6,307.6 168.6,306.4 170.3,309.1 172.4,312.2 172.8,315.3 174.3,319.4 177.5,323.5 173.0,323.4 170.5,323.6 166.8,324.0 163.5,324.3" fill="#6b6b6b" stroke="#6b6b6b" stroke-width="0.8" stroke-linejoin="round"/>
<polygon points="172.5,329.2 178.0,329.6 176.4,333.3 176.1,336.0 175.3,338.6 175.3,341.9 175.1,344.9 174.5,348.0 172.2,347.4 172.2,344.8 172.6,341.2 172.1,337.9 171.7,333.8" fill="#808080" stroke="#808080" stroke-width="0.8" stroke-linejoin="round"/>
<ellipse cx="151.1" cy="339.8" rx="3.73" ry="1.64" fill="#6b6b6b" transform="rotate(-10 151.1 339.8)"/>
<ellipse cx="130.2" cy="357.7" rx="2.84" ry="1.49" fill="#616161"/>
<ellipse cx="169.0" cy="357.7" rx="3.28" ry="1.19" fill="#404040"/>
<ellipse cx="186.1" cy="347.7" rx="2.84" ry="1.94" fill="#6b6b6b" transform="rotate(20 186.1 347.7)"/>
<ellipse cx="192.1" cy="345.4" rx="1.49" ry="1.19" fill="#616161"/>
<path d="M188.7 317.1 L189.9 323.1" fill="none" stroke="#525252" stroke-width="2.00" stroke-linecap="round" stroke-linejoin="round"/>
<path d="M173.5 285.0 L173.5 304.4" fill="none" stroke="#141414" stroke-width="1.40" stroke-linecap="round" stroke-linejoin="round"/>
<path d="M187.6 296.9 L189.1 314.9" fill="none" stroke="#141414" stroke-width="1.40" stroke-linecap="round" stroke-linejoin="round"/>
<path d="M119.0 334.3 L119.7 344.7" fill="none" stroke="#262626" stroke-width="1.50" stroke-linecap="round" stroke-linejoin="round"/>
<path d="M160.8 332.8 L160.8 344.7" fill="none" stroke="#262626" stroke-width="1.50" stroke-linecap="round" stroke-linejoin="round"/>
<path d="M145.9 334.3 L144.4 347.7" fill="none" stroke="#1a1a1a" stroke-width="1.50" stroke-linecap="round" stroke-linejoin="round"/>
<path d="M184.5 326.0 L187.8 326.7 L190.2 325.2 L192.8 326.8 L195.3 326.8 L198.8 328.6 L201.2 328.1 L204.0 328.3 L205.9 328.5 L208.8 328.2 L211.3 328.8 L214.2 328.5 L218.0 330.2 L220.0 330.2 L223.6 328.2 L225.7 328.4 L227.6 329.4 L231.3 329.1 L234.6 329.3 L237.4 329.0 L240.8 328.4 L242.8 329.4 L245.0 330.4 L248.5 331.6 L252.5 332.5 L254.0 330.8 L257.9 331.3 L260.9 329.5 L265.1 329.8" fill="none" stroke="#4c4c4c" stroke-width="13.54" stroke-linecap="round" stroke-linejoin="round"/>
<polygon points="198.6,324.0 199.7,320.0 202.0,316.5 204.7,315.7 209.0,314.8 208.5,310.0 209.7,307.1 213.1,309.5 216.0,312.6 216.9,314.9 219.1,318.1 220.8,322.6 223.1,325.4 219.6,325.9 216.5,325.2 214.1,325.0 211.0,324.2 207.7,323.9 204.6,324.4 201.1,324.1" fill="#6b6b6b" stroke="#6b6b6b" stroke-width="0.8" stroke-linejoin="round"/>
<polygon points="202.7,330.9 205.5,331.2 209.7,332.0 212.5,332.2 215.9,331.5 220.3,331.3 223.8,330.9 222.3,336.4 222.0,339.7 221.3,343.2 220.2,346.8 219.7,349.8 216.1,347.9 213.4,343.6 211.4,340.9 208.6,338.0 207.0,336.4 204.9,334.3" fill="#6b6b6b" stroke="#6b6b6b" stroke-width="0.8" stroke-linejoin="round"/>
<ellipse cx="215.9" cy="290.2" rx="1.19" ry="2.84" fill="#757575" transform="rotate(15 215.9 290.2)"/>
<ellipse cx="229.3" cy="349.5" rx="2.24" ry="1.79" fill="#6b6b6b"/>
<ellipse cx="191.2" cy="346.2" rx="1.94" ry="1.19" fill="#616161" transform="rotate(20 191.2 346.2)"/>
<ellipse cx="186.7" cy="349.2" rx="1.34" ry="1.34" fill="#616161"/>
<polygon points="246.0,328.5 248.6,324.1 250.5,320.1 250.4,317.2 251.6,315.3 256.6,312.8 259.7,314.6 262.8,319.1 262.9,323.6 262.3,328.1 258.9,328.3 255.3,327.3 253.2,327.9 249.0,328.8" fill="#6b6b6b" stroke="#6b6b6b" stroke-width="0.8" stroke-linejoin="round"/>
<polygon points="245.1,333.2 249.6,333.0 251.9,332.6 256.5,332.6 259.7,333.3 263.2,333.3 262.9,337.1 263.2,340.0 262.3,344.2 263.0,347.9 257.4,349.9 255.5,346.8 252.7,344.3 251.4,342.0 250.1,339.2 247.7,336.4" fill="#6b6b6b" stroke="#6b6b6b" stroke-width="0.8" stroke-linejoin="round"/>
<ellipse cx="233.8" cy="322.3" rx="2.69" ry="2.09" fill="#4c4c4c"/>
<ellipse cx="173.5" cy="281.8" rx="1.30" ry="1.90" fill="#808080"/>
<path d="M44.5 332.0 L47.5 331.4 L50.6 332.3 L52.6 331.4 L55.6 329.9 L57.8 329.2 L59.6 330.3 L62.5 329.2 L66.0 329.9 L67.5 329.3 L70.6 329.5" fill="none" stroke="#666666" stroke-width="8.21" stroke-linecap="round" stroke-linejoin="round"/>
<path d="M69.9 329.5 L72.9 329.7 L76.4 331.2 L78.8 329.4 L81.7 330.0 L84.6 328.5 L87.7 328.8 L91.5 328.0" fill="none" stroke="#666666" stroke-width="5.65" stroke-linecap="round" stroke-linejoin="round"/>
<path d="M90.8 328.3 L92.3 327.3 L95.4 325.1 L97.7 325.0 L101.0 325.1 L104.1 324.6 L106.1 325.4 L108.7 326.1 L111.6 327.0 L114.8 327.6 L117.1 327.7 L119.5 326.9 L121.8 326.6 L124.7 325.7 L127.3 325.3" fill="none" stroke="#666666" stroke-width="8.21" stroke-linecap="round" stroke-linejoin="round"/>
<polygon points="49.3,321.7 49.9,323.7 51.7,325.7 53.1,326.3 54.9,328.5 57.3,328.6 59.1,329.1 60.7,327.3 61.6,324.8 62.8,328.1 65.3,329.3 65.2,333.1 62.7,334.8 60.9,335.6 59.1,335.8 57.3,335.6 54.9,334.7 53.7,337.0 52.6,338.5 52.2,340.5 50.6,341.9 49.1,344.1 49.1,343.6 49.2,341.7 48.8,339.6 48.4,337.3 48.2,334.7 47.8,332.9 48.7,330.2 48.7,328.1 48.6,326.2 49.2,324.1" fill="#7d7d7d" stroke="#7d7d7d" stroke-width="0.8" stroke-linejoin="round"/>
<polygon points="81.4,325.2 81.8,323.3 82.2,321.2 83.3,320.0 83.6,316.8 84.1,313.9 85.5,313.2 85.5,316.2 86.2,318.1 84.8,321.9 86.1,323.1 87.2,324.7 85.5,324.9 83.5,324.8" fill="#828282" stroke="#828282" stroke-width="0.8" stroke-linejoin="round"/>
<path d="M114.5 327.1 L117.5 327.2 L120.3 326.6 L123.2 326.1 L125.4 326.6 L128.8 326.4 L130.9 327.5 L134.1 326.7 L137.3 326.7 L140.3 326.1 L143.0 325.1 L145.8 325.1 L148.1 325.5 L151.6 325.7 L153.1 326.2 L155.8 326.1 L159.6 327.0 L161.0 327.1 L163.9 327.2 L167.7 328.1 L169.6 327.9 L172.3 326.7 L174.8 327.5 L178.0 327.1 L180.9 326.4 L183.1 326.7 L186.0 326.6 L188.9 325.8 L191.2 326.2 L193.8 325.8 L197.3 326.0" fill="none" stroke="#666666" stroke-width="8.21" stroke-linecap="round" stroke-linejoin="round"/>
<polygon points="122.9,320.6 125.2,318.9 125.7,316.8 125.7,315.4 126.6,313.3 126.6,310.7 127.8,309.1 129.6,310.8 131.0,312.8 132.4,315.2 133.4,316.9 135.1,318.8 138.2,321.2 135.4,321.0 133.8,320.7 131.1,321.1 129.5,321.1 127.5,321.0 124.7,321.2" fill="#828282" stroke="#828282" stroke-width="0.8" stroke-linejoin="round"/>
<polygon points="162.4,321.2 164.0,319.4 165.2,316.4 166.1,314.9 166.0,313.3 166.5,311.2 168.4,310.4 169.4,312.1 170.7,314.0 171.0,316.0 171.9,318.5 173.9,321.1 171.1,321.0 169.5,321.2 167.3,321.4 165.2,321.6" fill="#828282" stroke="#828282" stroke-width="0.8" stroke-linejoin="round"/>
<path d="M184.5 326.0 L187.6 326.0 L189.9 326.0 L193.0 326.2 L194.4 326.2 L197.8 327.8 L200.7 328.1 L204.2 328.3 L206.4 328.2 L208.9 329.2 L211.9 329.4 L214.8 329.6 L217.2 330.2 L220.5 329.1 L223.4 328.6 L225.4 328.5 L228.7 328.2 L230.5 329.1 L234.8 328.6 L238.5 329.0 L240.1 328.6 L243.6 329.7 L246.3 329.5 L248.3 331.1 L252.1 332.4 L254.7 330.7 L257.9 330.2 L260.0 329.1 L265.1 329.8" fill="none" stroke="#666666" stroke-width="8.66" stroke-linecap="round" stroke-linejoin="round"/>
<polygon points="203.2,322.1 203.9,319.7 205.3,317.5 207.0,317.0 209.7,316.4 209.3,313.5 210.1,311.7 212.2,313.2 214.0,315.1 214.6,316.5 215.9,318.5 217.0,321.3 218.4,323.0 216.2,323.3 214.4,322.9 212.8,322.8 210.9,322.3 208.9,322.1 206.9,322.4 204.8,322.2" fill="#828282" stroke="#828282" stroke-width="0.8" stroke-linejoin="round"/>
<polygon points="207.1,333.4 208.8,333.6 211.4,334.1 213.2,334.2 215.3,333.8 218.0,333.7 220.2,333.5 219.2,336.8 219.1,338.9 218.6,341.1 217.9,343.3 217.6,345.2 215.4,344.0 213.8,341.3 212.5,339.6 210.7,337.8 209.8,336.9 208.5,335.5" fill="#828282" stroke="#828282" stroke-width="0.8" stroke-linejoin="round"/>
<polygon points="249.3,326.2 250.9,323.5 252.2,321.1 252.1,319.2 252.8,318.0 255.9,316.5 257.8,317.6 259.8,320.4 259.8,323.2 259.5,326.0 257.4,326.1 255.1,325.5 253.8,325.9 251.2,326.4" fill="#828282" stroke="#828282" stroke-width="0.8" stroke-linejoin="round"/>
<polygon points="249.2,335.4 252.0,335.3 253.4,335.1 256.2,335.1 258.2,335.5 260.4,335.5 260.2,337.9 260.4,339.7 259.8,342.2 260.2,344.6 256.7,345.8 255.6,343.9 253.9,342.3 253.0,340.9 252.2,339.1 250.8,337.4" fill="#828282" stroke="#828282" stroke-width="0.8" stroke-linejoin="round"/>
<circle cx="60.8" cy="327.7" r="1.11" fill="#898989"/>
<circle cx="53.0" cy="327.8" r="1.11" fill="#9c9c9c"/>
<circle cx="45.9" cy="330.2" r="1.36" fill="#989898"/>
<circle cx="86.9" cy="331.1" r="1.24" fill="#878787"/>
<circle cx="88.9" cy="325.0" r="1.19" fill="#949494"/>
<circle cx="84.4" cy="328.2" r="1.06" fill="#8a8a8a"/>
<circle cx="105.2" cy="324.8" r="1.07" fill="#909090"/>
<circle cx="125.2" cy="323.8" r="1.23" fill="#989898"/>
<circle cx="127.2" cy="328.0" r="1.33" fill="#8e8e8e"/>
<circle cx="116.4" cy="323.5" r="1.06" fill="#959595"/>
<circle cx="50.0" cy="345.6" r="1.37" fill="#8c8c8c"/>
<circle cx="54.9" cy="325.8" r="1.03" fill="#8b8b8b"/>
<circle cx="49.8" cy="343.0" r="0.99" fill="#939393"/>
<circle cx="59.6" cy="335.8" r="0.98" fill="#929292"/>
<circle cx="61.1" cy="336.6" r="1.46" fill="#9e9e9e"/>
<circle cx="49.2" cy="341.7" r="1.25" fill="#909090"/>
<circle cx="50.5" cy="332.5" r="1.17" fill="#8d8d8d"/>
<circle cx="85.9" cy="311.9" r="0.91" fill="#959595"/>
<circle cx="160.6" cy="330.8" r="1.10" fill="#848484"/>
<circle cx="185.6" cy="325.7" r="1.06" fill="#8c8c8c"/>
<circle cx="161.2" cy="331.2" r="0.96" fill="#8f8f8f"/>
<circle cx="191.4" cy="323.1" r="1.00" fill="#848484"/>
<circle cx="191.4" cy="327.9" r="1.21" fill="#959595"/>
<circle cx="197.2" cy="327.4" r="1.11" fill="#989898"/>
<circle cx="159.1" cy="328.5" r="1.15" fill="#858585"/>
<circle cx="170.7" cy="330.8" r="1.48" fill="#8e8e8e"/>
<circle cx="116.8" cy="322.3" r="1.17" fill="#878787"/>
<circle cx="175.3" cy="330.0" r="1.38" fill="#9c9c9c"/>
<circle cx="157.8" cy="323.8" r="1.25" fill="#838383"/>
<circle cx="126.3" cy="311.7" r="1.37" fill="#858585"/>
<circle cx="133.8" cy="315.7" r="1.22" fill="#9e9e9e"/>
<circle cx="129.3" cy="316.4" r="1.10" fill="#838383"/>
<circle cx="130.8" cy="335.3" r="1.19" fill="#999999"/>
<circle cx="172.6" cy="320.8" r="1.33" fill="#898989"/>
<circle cx="166.3" cy="310.4" r="1.29" fill="#8c8c8c"/>
<circle cx="172.1" cy="336.7" r="0.91" fill="#8b8b8b"/>
<circle cx="225.7" cy="330.3" r="1.42" fill="#8b8b8b"/>
<circle cx="250.0" cy="328.8" r="1.34" fill="#808080"/>
<circle cx="191.1" cy="326.7" r="1.14" fill="#878787"/>
<circle cx="222.2" cy="332.6" r="1.07" fill="#858585"/>
<circle cx="221.8" cy="332.8" r="0.95" fill="#9a9a9a"/>
<circle cx="248.9" cy="332.7" r="1.11" fill="#9a9a9a"/>
<circle cx="191.2" cy="326.3" r="1.22" fill="#878787"/>
<circle cx="234.2" cy="330.9" r="1.32" fill="#9b9b9b"/>
<circle cx="237.2" cy="330.3" r="1.27" fill="#9d9d9d"/>
<circle cx="211.9" cy="331.4" r="0.99" fill="#949494"/>
<circle cx="247.6" cy="328.9" r="1.12" fill="#8b8b8b"/>
<circle cx="235.1" cy="325.8" r="1.08" fill="#898989"/>
<circle cx="216.6" cy="324.4" r="1.23" fill="#979797"/>
<circle cx="247.0" cy="333.5" r="1.26" fill="#8e8e8e"/>
<circle cx="208.1" cy="326.3" r="1.37" fill="#878787"/>
<circle cx="219.4" cy="324.7" r="1.23" fill="#858585"/>
<circle cx="218.7" cy="322.4" r="1.17" fill="#8f8f8f"/>
<circle cx="208.8" cy="331.9" r="1.43" fill="#888888"/>
<circle cx="218.8" cy="348.8" r="1.30" fill="#848484"/>
<circle cx="213.6" cy="341.3" r="1.28" fill="#888888"/>
<circle cx="213.8" cy="338.1" r="1.44" fill="#888888"/>
<circle cx="250.8" cy="317.9" r="1.36" fill="#8e8e8e"/>
<circle cx="255.7" cy="315.3" r="1.35" fill="#818181"/>
<circle cx="252.8" cy="320.7" r="0.91" fill="#828282"/>
<circle cx="259.7" cy="345.4" r="1.10" fill="#888888"/>
<circle cx="251.0" cy="336.2" r="0.99" fill="#858585"/>
<circle cx="259.6" cy="334.0" r="1.33" fill="#939393"/>
<path d="M44.5 332.0 L47.2 331.7 L49.9 332.0 L52.5 330.8 L54.6 329.3 L57.0 330.2 L60.5 329.7 L62.3 329.2 L64.9 329.4 L67.5 329.3 L70.6 329.5" fill="none" stroke="#808080" stroke-width="4.62" stroke-linecap="round" stroke-linejoin="round"/>
<path d="M69.9 329.5 L73.0 329.7 L76.0 330.8 L79.4 330.4 L81.7 329.9 L85.3 329.5 L88.5 328.6 L91.5 328.0" fill="none" stroke="#757575" stroke-width="3.18" stroke-linecap="round" stroke-linejoin="round"/>
<path d="M90.8 328.3 L92.8 327.2 L94.7 325.2 L98.1 324.9 L101.5 324.8 L103.7 324.6 L107.3 325.7 L108.7 327.3 L111.8 328.1 L114.2 327.9 L116.6 327.2 L120.2 327.6 L122.7 326.7 L125.3 325.5 L127.3 325.3" fill="none" stroke="#808080" stroke-width="4.62" stroke-linecap="round" stroke-linejoin="round"/>
<polygon points="46.4,315.0 47.4,318.2 50.3,321.4 52.4,322.5 55.5,326.0 59.2,326.1 62.3,326.9 64.7,324.1 66.1,320.1 68.1,325.4 72.2,327.2 72.1,333.3 68.0,336.1 65.1,337.4 62.1,337.7 59.3,337.4 55.4,336.1 53.4,339.7 51.6,342.1 51.0,345.3 48.4,347.5 46.1,351.2 46.1,350.4 46.2,347.3 45.6,344.0 44.9,340.1 44.6,336.0 44.0,333.2 45.4,328.7 45.4,325.3 45.3,322.2 46.3,318.9" fill="none" stroke="#5c5c5c" stroke-width="1.3" stroke-linejoin="round"/>
<polygon points="79.6,328.1 80.2,324.9 81.0,321.6 82.6,319.7 83.2,314.5 84.0,309.8 86.2,308.6 86.2,313.6 87.3,316.6 85.1,322.7 87.2,324.6 89.0,327.3 86.2,327.5 82.9,327.4" fill="none" stroke="#616161" stroke-width="1.3" stroke-linejoin="round"/>
<ellipse cx="84.5" cy="314.1" rx="1.04" ry="2.09" fill="#999999"/>
<path d="M114.5 327.1 L117.3 326.6 L120.1 327.0 L122.9 326.3 L126.2 327.3 L128.2 327.0 L130.7 326.5 L133.5 327.0 L137.0 326.8 L140.1 326.4 L143.3 325.8 L145.5 324.9 L148.9 326.1 L151.2 326.6 L154.1 326.3 L155.9 326.7 L159.5 327.4 L161.1 326.5 L164.3 327.7 L167.5 327.8 L169.2 327.2 L172.7 327.2 L174.7 327.6 L177.0 326.8 L180.6 326.8 L183.3 326.0 L185.5 326.6 L187.9 326.0 L192.0 325.6 L194.7 326.3 L197.3 326.0" fill="none" stroke="#808080" stroke-width="4.62" stroke-linecap="round" stroke-linejoin="round"/>
<polygon points="118.8,322.7 122.4,319.9 123.3,316.5 123.2,314.2 124.7,311.0 124.8,306.8 126.7,304.2 129.6,306.8 131.8,310.1 134.1,314.0 135.7,316.8 138.5,319.8 143.6,323.6 138.9,323.4 136.4,322.9 132.0,323.4 129.4,323.4 126.2,323.4 121.8,323.7" fill="none" stroke="#616161" stroke-width="1.3" stroke-linejoin="round"/>
<polygon points="130.1,329.6 134.3,330.4 138.3,329.5 137.8,333.2 136.8,336.0 136.1,338.6 134.7,341.2 132.8,345.2 130.0,344.4 130.2,340.0 130.8,335.6 129.8,332.9" fill="none" stroke="#696969" stroke-width="1.3" stroke-linejoin="round"/>
<polygon points="158.9,323.8 161.5,320.8 163.4,315.9 164.9,313.5 164.7,311.0 165.6,307.6 168.6,306.4 170.3,309.1 172.4,312.2 172.8,315.3 174.3,319.4 177.5,323.5 173.0,323.4 170.5,323.6 166.8,324.0 163.5,324.3" fill="none" stroke="#616161" stroke-width="1.3" stroke-linejoin="round"/>
<polygon points="172.5,329.2 178.0,329.6 176.4,333.3 176.1,336.0 175.3,338.6 175.3,341.9 175.1,344.9 174.5,348.0 172.2,347.4 172.2,344.8 172.6,341.2 172.1,337.9 171.7,333.8" fill="none" stroke="#757575" stroke-width="1.3" stroke-linejoin="round"/>
<path d="M184.5 326.0 L186.9 325.9 L189.8 326.0 L192.4 326.2 L194.6 326.4 L198.1 328.7 L200.8 328.5 L203.9 328.8 L206.1 329.3 L208.8 328.8 L212.3 329.2 L214.3 329.9 L217.6 329.0 L220.1 329.6 L222.7 329.3 L225.2 327.8 L228.6 328.7 L230.7 329.5 L234.7 329.1 L238.0 328.0 L240.5 328.7 L243.3 328.9 L245.8 330.3 L249.0 330.3 L251.6 332.2 L254.1 331.9 L258.0 330.6 L260.6 329.9 L265.1 329.8" fill="none" stroke="#808080" stroke-width="4.87" stroke-linecap="round" stroke-linejoin="round"/>
<polygon points="198.6,324.0 199.7,320.0 202.0,316.5 204.7,315.7 209.0,314.8 208.5,310.0 209.7,307.1 213.1,309.5 216.0,312.6 216.9,314.9 219.1,318.1 220.8,322.6 223.1,325.4 219.6,325.9 216.5,325.2 214.1,325.0 211.0,324.2 207.7,323.9 204.6,324.4 201.1,324.1" fill="none" stroke="#616161" stroke-width="1.3" stroke-linejoin="round"/>
<polygon points="202.7,330.9 205.5,331.2 209.7,332.0 212.5,332.2 215.9,331.5 220.3,331.3 223.8,330.9 222.3,336.4 222.0,339.7 221.3,343.2 220.2,346.8 219.7,349.8 216.1,347.9 213.4,343.6 211.4,340.9 208.6,338.0 207.0,336.4 204.9,334.3" fill="none" stroke="#616161" stroke-width="1.3" stroke-linejoin="round"/>
<polygon points="246.0,328.5 248.6,324.1 250.5,320.1 250.4,317.2 251.6,315.3 256.6,312.8 259.7,314.6 262.8,319.1 262.9,323.6 262.3,328.1 258.9,328.3 255.3,327.3 253.2,327.9 249.0,328.8" fill="none" stroke="#616161" stroke-width="1.3" stroke-linejoin="round"/>
<polygon points="245.1,333.2 249.6,333.0 251.9,332.6 256.5,332.6 259.7,333.3 263.2,333.3 262.9,337.1 263.2,340.0 262.3,344.2 263.0,347.9 257.4,349.9 255.5,346.8 252.7,344.3 251.4,342.0 250.1,339.2 247.7,336.4" fill="none" stroke="#616161" stroke-width="1.3" stroke-linejoin="round"/>
<ellipse cx="54.9" cy="327.0" rx="2.30" ry="2.28" fill="#000000"/>
<ellipse cx="63.0" cy="333.7" rx="0.90" ry="0.97" fill="#000000"/>
<ellipse cx="67.0" cy="330.4" rx="1.10" ry="1.00" fill="#000000"/>
<ellipse cx="54.4" cy="332.8" rx="0.90" ry="1.05" fill="#000000"/>
<ellipse cx="48.0" cy="334.9" rx="1.50" ry="1.54" fill="#000000"/>
<ellipse cx="69.6" cy="334.4" rx="1.30" ry="1.16" fill="#292929"/>
<ellipse cx="67.4" cy="325.9" rx="1.10" ry="1.16" fill="#000000"/>
<ellipse cx="45.4" cy="328.5" rx="1.50" ry="1.81" fill="#000000"/>
<ellipse cx="61.3" cy="324.8" rx="1.10" ry="1.21" fill="#000000"/>
<ellipse cx="50.4" cy="330.2" rx="0.90" ry="0.84" fill="#000000"/>
<ellipse cx="58.9" cy="333.3" rx="1.10" ry="1.14" fill="#141414"/>
<ellipse cx="71.3" cy="328.5" rx="1.10" ry="1.01" fill="#000000"/>
<ellipse cx="81.1" cy="326.9" rx="1.30" ry="1.23" fill="#141414"/>
<ellipse cx="91.0" cy="330.4" rx="1.30" ry="1.61" fill="#000000"/>
<ellipse cx="87.1" cy="326.6" rx="0.90" ry="1.03" fill="#000000"/>
<ellipse cx="77.0" cy="332.7" rx="1.30" ry="1.51" fill="#000000"/>
<ellipse cx="85.8" cy="332.2" rx="0.90" ry="1.05" fill="#292929"/>
<ellipse cx="76.2" cy="327.0" rx="1.10" ry="1.23" fill="#000000"/>
<ellipse cx="81.7" cy="331.8" rx="0.90" ry="1.04" fill="#000000"/>
<ellipse cx="118.8" cy="332.6" rx="1.50" ry="1.35" fill="#000000"/>
<ellipse cx="95.9" cy="328.6" rx="1.50" ry="1.69" fill="#000000"/>
<ellipse cx="108.5" cy="321.8" rx="1.50" ry="1.59" fill="#000000"/>
<ellipse cx="91.6" cy="324.8" rx="1.80" ry="1.70" fill="#000000"/>
<ellipse cx="122.0" cy="328.9" rx="1.10" ry="1.26" fill="#000000"/>
<ellipse cx="115.5" cy="327.3" rx="1.30" ry="1.56" fill="#000000"/>
<ellipse cx="118.6" cy="322.7" rx="0.90" ry="0.77" fill="#000000"/>
<ellipse cx="103.1" cy="324.4" rx="1.80" ry="1.71" fill="#292929"/>
<ellipse cx="127.2" cy="324.6" rx="1.30" ry="1.41" fill="#000000"/>
<ellipse cx="98.1" cy="321.8" rx="1.50" ry="1.77" fill="#141414"/>
<ellipse cx="110.0" cy="329.7" rx="1.50" ry="1.85" fill="#000000"/>
<ellipse cx="122.7" cy="322.4" rx="0.90" ry="0.97" fill="#000000"/>
<ellipse cx="105.4" cy="329.2" rx="0.90" ry="0.96" fill="#000000"/>
<ellipse cx="46.5" cy="315.5" rx="2.30" ry="2.35" fill="#000000"/>
<ellipse cx="48.8" cy="321.6" rx="1.80" ry="2.16" fill="#141414"/>
<ellipse cx="51.1" cy="338.6" rx="0.90" ry="1.10" fill="#000000"/>
<ellipse cx="46.6" cy="340.7" rx="1.30" ry="1.18" fill="#000000"/>
<ellipse cx="49.0" cy="346.1" rx="2.30" ry="2.63" fill="#000000"/>
<ellipse cx="60.4" cy="329.2" rx="1.10" ry="1.33" fill="#141414"/>
<ellipse cx="66.4" cy="321.5" rx="0.90" ry="1.10" fill="#000000"/>
<ellipse cx="84.6" cy="312.1" rx="0.90" ry="0.94" fill="#141414"/>
<ellipse cx="85.8" cy="317.1" rx="1.80" ry="2.31" fill="#000000"/>
<ellipse cx="82.2" cy="322.1" rx="0.90" ry="0.87" fill="#000000"/>
<ellipse cx="170.2" cy="332.2" rx="1.80" ry="2.01" fill="#000000"/>
<ellipse cx="150.4" cy="323.7" rx="1.10" ry="1.34" fill="#000000"/>
<ellipse cx="164.1" cy="326.8" rx="1.30" ry="1.30" fill="#000000"/>
<ellipse cx="186.7" cy="326.8" rx="1.50" ry="1.53" fill="#292929"/>
<ellipse cx="136.9" cy="323.3" rx="0.90" ry="0.82" fill="#141414"/>
<ellipse cx="156.3" cy="330.1" rx="0.90" ry="0.97" fill="#000000"/>
<ellipse cx="132.4" cy="324.0" rx="1.10" ry="0.98" fill="#000000"/>
<ellipse cx="158.6" cy="324.6" rx="1.50" ry="1.88" fill="#000000"/>
<ellipse cx="146.6" cy="330.0" rx="1.30" ry="1.67" fill="#000000"/>
<ellipse cx="142.2" cy="321.2" rx="1.30" ry="1.19" fill="#141414"/>
<ellipse cx="175.8" cy="322.5" rx="2.30" ry="2.74" fill="#000000"/>
<ellipse cx="193.9" cy="326.1" rx="1.50" ry="1.74" fill="#000000"/>
<ellipse cx="182.5" cy="329.5" rx="0.90" ry="0.93" fill="#000000"/>
<ellipse cx="189.5" cy="322.0" rx="1.50" ry="1.78" fill="#000000"/>
<ellipse cx="169.9" cy="325.8" rx="2.30" ry="2.17" fill="#000000"/>
<ellipse cx="138.8" cy="329.8" rx="2.30" ry="2.57" fill="#141414"/>
<ellipse cx="131.1" cy="330.8" rx="1.50" ry="1.91" fill="#000000"/>
<ellipse cx="181.8" cy="324.3" rx="1.30" ry="1.60" fill="#141414"/>
<ellipse cx="176.2" cy="330.7" rx="1.30" ry="1.53" fill="#000000"/>
<ellipse cx="151.4" cy="329.2" rx="1.50" ry="1.32" fill="#000000"/>
<ellipse cx="189.3" cy="330.9" rx="1.30" ry="1.19" fill="#141414"/>
<ellipse cx="196.7" cy="330.4" rx="1.50" ry="1.32" fill="#141414"/>
<ellipse cx="126.3" cy="330.8" rx="1.10" ry="1.08" fill="#000000"/>
<ellipse cx="164.2" cy="322.5" rx="0.90" ry="0.97" fill="#000000"/>
<ellipse cx="125.1" cy="307.8" rx="0.90" ry="1.02" fill="#141414"/>
<ellipse cx="131.7" cy="314.4" rx="1.50" ry="1.66" fill="#141414"/>
<ellipse cx="132.6" cy="320.0" rx="0.90" ry="0.95" fill="#000000"/>
<ellipse cx="124.0" cy="316.5" rx="0.90" ry="0.87" fill="#000000"/>
<ellipse cx="127.6" cy="320.5" rx="0.90" ry="1.12" fill="#292929"/>
<ellipse cx="129.0" cy="310.2" rx="0.90" ry="0.92" fill="#000000"/>
<ellipse cx="130.5" cy="341.2" rx="1.30" ry="1.46" fill="#000000"/>
<ellipse cx="133.3" cy="335.5" rx="0.90" ry="0.87" fill="#000000"/>
<ellipse cx="171.7" cy="311.4" rx="0.90" ry="0.88" fill="#000000"/>
<ellipse cx="169.3" cy="318.8" rx="1.50" ry="1.80" fill="#000000"/>
<ellipse cx="166.8" cy="310.3" rx="0.90" ry="0.82" fill="#141414"/>
<ellipse cx="164.6" cy="316.6" rx="1.80" ry="1.97" fill="#000000"/>
<ellipse cx="173.9" cy="337.1" rx="1.30" ry="1.13" fill="#292929"/>
<ellipse cx="172.6" cy="341.5" rx="0.90" ry="0.88" fill="#000000"/>
<ellipse cx="247.9" cy="327.0" rx="2.30" ry="2.19" fill="#000000"/>
<ellipse cx="215.1" cy="326.0" rx="1.50" ry="1.91" fill="#000000"/>
<ellipse cx="247.3" cy="334.4" rx="1.80" ry="1.54" fill="#000000"/>
<ellipse cx="252.0" cy="337.2" rx="1.10" ry="1.00" fill="#141414"/>
<ellipse cx="258.2" cy="330.1" rx="1.10" ry="0.99" fill="#141414"/>
<ellipse cx="226.6" cy="324.7" rx="0.90" ry="1.06" fill="#000000"/>
<ellipse cx="218.3" cy="334.3" rx="2.30" ry="2.51" fill="#292929"/>
<ellipse cx="264.4" cy="326.0" rx="1.30" ry="1.67" fill="#292929"/>
<ellipse cx="258.2" cy="335.1" rx="1.50" ry="1.56" fill="#000000"/>
<ellipse cx="203.0" cy="332.4" rx="1.50" ry="1.79" fill="#000000"/>
<ellipse cx="233.6" cy="326.5" rx="1.80" ry="2.25" fill="#000000"/>
<ellipse cx="221.6" cy="328.8" rx="1.80" ry="1.61" fill="#141414"/>
<ellipse cx="225.0" cy="332.6" rx="1.10" ry="1.40" fill="#000000"/>
<ellipse cx="208.6" cy="332.8" rx="1.10" ry="1.18" fill="#000000"/>
<ellipse cx="207.7" cy="327.0" rx="2.30" ry="2.38" fill="#000000"/>
<ellipse cx="230.9" cy="333.1" rx="1.10" ry="1.24" fill="#141414"/>
<ellipse cx="263.4" cy="334.7" rx="1.30" ry="1.59" fill="#000000"/>
<ellipse cx="213.0" cy="330.4" rx="1.30" ry="1.55" fill="#000000"/>
<ellipse cx="200.2" cy="323.3" rx="2.30" ry="2.26" fill="#000000"/>
<ellipse cx="241.8" cy="332.0" rx="1.80" ry="1.64" fill="#292929"/>
<ellipse cx="241.2" cy="324.9" rx="1.80" ry="2.14" fill="#000000"/>
<ellipse cx="257.7" cy="325.7" rx="0.90" ry="1.00" fill="#292929"/>
<ellipse cx="194.9" cy="321.1" rx="0.90" ry="0.92" fill="#292929"/>
<ellipse cx="228.5" cy="328.2" rx="0.90" ry="0.82" fill="#000000"/>
<ellipse cx="253.5" cy="331.7" rx="0.90" ry="0.99" fill="#000000"/>
<ellipse cx="236.9" cy="333.2" rx="1.10" ry="1.11" fill="#292929"/>
<ellipse cx="210.3" cy="317.1" rx="1.80" ry="2.08" fill="#000000"/>
<ellipse cx="205.4" cy="319.4" rx="0.90" ry="0.97" fill="#141414"/>
<ellipse cx="201.8" cy="317.0" rx="1.30" ry="1.67" fill="#141414"/>
<ellipse cx="217.7" cy="317.0" rx="1.30" ry="1.56" fill="#000000"/>
<ellipse cx="211.7" cy="310.4" rx="1.10" ry="1.06" fill="#000000"/>
<ellipse cx="214.0" cy="320.4" rx="0.90" ry="1.11" fill="#000000"/>
<ellipse cx="220.4" cy="323.5" rx="1.10" ry="1.06" fill="#000000"/>
<ellipse cx="215.2" cy="312.9" rx="0.90" ry="1.16" fill="#000000"/>
<ellipse cx="220.2" cy="341.4" rx="1.50" ry="1.81" fill="#000000"/>
<ellipse cx="215.9" cy="344.0" rx="1.10" ry="1.18" fill="#000000"/>
<ellipse cx="210.2" cy="336.9" rx="0.90" ry="0.90" fill="#141414"/>
<ellipse cx="214.5" cy="339.6" rx="1.50" ry="1.28" fill="#000000"/>
<ellipse cx="260.2" cy="316.9" rx="1.50" ry="1.77" fill="#292929"/>
<ellipse cx="262.4" cy="322.0" rx="1.10" ry="1.34" fill="#000000"/>
<ellipse cx="256.0" cy="314.8" rx="0.90" ry="1.15" fill="#000000"/>
<ellipse cx="251.9" cy="319.6" rx="1.50" ry="1.69" fill="#000000"/>
<ellipse cx="255.2" cy="345.1" rx="0.90" ry="0.90" fill="#141414"/>
<ellipse cx="259.7" cy="344.1" rx="1.10" ry="1.21" fill="#000000"/>
<ellipse cx="259.8" cy="339.6" rx="1.10" ry="1.18" fill="#000000"/>
<ellipse cx="252.5" cy="342.0" rx="0.90" ry="1.00" fill="#141414"/>
<path d="M44.5 332.0 L47.2 331.7 L50.6 332.0 L52.7 330.8 L55.0 330.1 L57.4 329.3 L60.2 329.6 L63.1 329.2 L65.8 329.1 L68.1 329.5 L70.6 329.5" fill="none" stroke="#9e9e9e" stroke-width="2.39" stroke-linecap="round" stroke-linejoin="round"/>
<path d="M69.9 329.5 L72.9 330.4 L76.0 330.7 L78.6 329.6 L81.6 329.6 L84.9 328.7 L87.9 329.0 L91.5 328.0" fill="none" stroke="#6b6b6b" stroke-width="1.65" stroke-linecap="round" stroke-linejoin="round"/>
<path d="M90.8 328.3 L93.1 326.5 L95.0 325.7 L98.2 325.5 L101.0 325.3 L104.6 325.1 L106.4 326.0 L109.6 327.0 L111.6 327.4 L114.0 327.8 L116.8 327.3 L119.4 327.2 L122.3 326.8 L124.5 326.0 L127.3 325.3" fill="none" stroke="#9e9e9e" stroke-width="2.39" stroke-linecap="round" stroke-linejoin="round"/>
<path d="M48.7 332.5 L52.0 331.6" fill="none" stroke="#b2b2b2" stroke-width="4.95" stroke-linecap="round" stroke-linejoin="round"/>
<path d="M48.7 332.5 L52.0 331.6" fill="none" stroke="#d6d6d6" stroke-width="3.55" stroke-linecap="round" stroke-linejoin="round"/>
<path d="M93.8 325.3 L97.5 325.0" fill="none" stroke="#b2b2b2" stroke-width="4.44" stroke-linecap="round" stroke-linejoin="round"/>
<path d="M93.8 325.3 L97.5 325.0" fill="none" stroke="#d6d6d6" stroke-width="3.04" stroke-linecap="round" stroke-linejoin="round"/>
<path d="M101.2 324.6 L104.2 324.8 L107.2 325.0" fill="none" stroke="#b2b2b2" stroke-width="5.12" stroke-linecap="round" stroke-linejoin="round"/>
<path d="M101.2 324.6 L104.1 325.1 L107.2 325.0" fill="none" stroke="#d6d6d6" stroke-width="3.72" stroke-linecap="round" stroke-linejoin="round"/>
<path d="M116.9 328.3 L119.4 326.9 L122.1 326.0" fill="none" stroke="#b2b2b2" stroke-width="5.46" stroke-linecap="round" stroke-linejoin="round"/>
<path d="M116.9 328.3 L119.6 327.0 L122.1 326.0" fill="none" stroke="#d6d6d6" stroke-width="4.06" stroke-linecap="round" stroke-linejoin="round"/>
<path d="M114.5 327.1 L117.3 327.4 L120.8 326.4 L123.7 327.2 L125.8 326.3 L128.8 326.9 L131.5 326.4 L133.9 327.1 L137.1 326.1 L139.7 326.0 L142.8 326.2 L146.3 324.8 L148.6 325.3 L151.4 326.1 L154.1 326.8 L156.7 326.5 L158.5 327.2 L161.6 327.4 L164.3 327.2 L167.3 327.3 L169.7 327.4 L172.5 326.9 L174.9 327.1 L177.8 327.2 L180.1 327.0 L183.0 326.2 L185.5 325.9 L188.5 325.6 L191.8 325.9 L193.9 325.6 L197.3 326.0" fill="none" stroke="#9e9e9e" stroke-width="2.39" stroke-linecap="round" stroke-linejoin="round"/>
<path d="M118.2 327.2 L122.7 326.3" fill="none" stroke="#b2b2b2" stroke-width="5.29" stroke-linecap="round" stroke-linejoin="round"/>
<path d="M118.2 327.2 L122.7 326.3" fill="none" stroke="#d6d6d6" stroke-width="3.89" stroke-linecap="round" stroke-linejoin="round"/>
<path d="M131.7 327.1 L134.5 326.9 L136.9 326.2" fill="none" stroke="#b2b2b2" stroke-width="5.12" stroke-linecap="round" stroke-linejoin="round"/>
<path d="M131.7 327.1 L134.5 326.7 L136.9 326.2" fill="none" stroke="#d6d6d6" stroke-width="3.72" stroke-linecap="round" stroke-linejoin="round"/>
<path d="M155.1 326.8 L158.1 327.1" fill="none" stroke="#b2b2b2" stroke-width="4.95" stroke-linecap="round" stroke-linejoin="round"/>
<path d="M155.1 326.8 L158.1 327.1" fill="none" stroke="#d6d6d6" stroke-width="3.55" stroke-linecap="round" stroke-linejoin="round"/>
<path d="M166.7 329.0 L170.4 327.8 L173.5 326.0" fill="none" stroke="#b2b2b2" stroke-width="5.46" stroke-linecap="round" stroke-linejoin="round"/>
<path d="M166.7 329.0 L169.9 327.5 L173.5 326.0" fill="none" stroke="#d6d6d6" stroke-width="4.06" stroke-linecap="round" stroke-linejoin="round"/>
<path d="M183.5 326.0 L187.6 325.7" fill="none" stroke="#b2b2b2" stroke-width="4.95" stroke-linecap="round" stroke-linejoin="round"/>
<path d="M183.5 326.0 L187.6 325.7" fill="none" stroke="#d6d6d6" stroke-width="3.55" stroke-linecap="round" stroke-linejoin="round"/>
<path d="M193.6 326.0 L197.3 326.0" fill="none" stroke="#b2b2b2" stroke-width="4.44" stroke-linecap="round" stroke-linejoin="round"/>
<path d="M193.6 326.0 L197.3 326.0" fill="none" stroke="#d6d6d6" stroke-width="3.04" stroke-linecap="round" stroke-linejoin="round"/>
<path d="M184.5 326.0 L187.0 326.1 L189.7 325.9 L192.3 325.6 L195.1 325.8 L197.7 327.9 L201.0 328.4 L203.6 328.7 L206.4 328.7 L208.9 329.3 L212.2 328.9 L214.4 329.3 L217.8 329.4 L220.1 329.7 L222.9 329.2 L225.4 328.2 L228.6 328.9 L230.5 329.0 L234.2 329.1 L238.0 328.7 L240.4 328.5 L243.1 329.1 L245.5 329.7 L248.6 330.5 L251.8 332.2 L254.4 330.9 L257.2 330.2 L260.6 329.9 L265.1 329.8" fill="none" stroke="#9e9e9e" stroke-width="2.53" stroke-linecap="round" stroke-linejoin="round"/>
<path d="M186.0 326.0 L189.1 326.2 L191.7 325.9 L194.2 326.0" fill="none" stroke="#b2b2b2" stroke-width="4.27" stroke-linecap="round" stroke-linejoin="round"/>
<path d="M186.0 326.0 L188.7 326.0 L191.4 326.4 L194.2 326.0" fill="none" stroke="#d6d6d6" stroke-width="2.87" stroke-linecap="round" stroke-linejoin="round"/>
<path d="M198.7 328.3 L202.0 328.8 L205.4 329.8 L208.5 329.6 L211.4 329.6 L214.1 329.7 L217.6 330.2 L220.3 330.1" fill="none" stroke="#b2b2b2" stroke-width="4.95" stroke-linecap="round" stroke-linejoin="round"/>
<path d="M198.7 328.3 L201.7 329.0 L205.6 329.6 L208.8 329.4 L211.1 329.6 L214.0 330.1 L217.3 330.1 L220.3 330.1" fill="none" stroke="#d6d6d6" stroke-width="3.55" stroke-linecap="round" stroke-linejoin="round"/>
<path d="M225.6 328.3 L228.2 328.9 L230.8 329.0" fill="none" stroke="#b2b2b2" stroke-width="4.95" stroke-linecap="round" stroke-linejoin="round"/>
<path d="M225.6 328.3 L227.9 328.5 L230.8 329.0" fill="none" stroke="#d6d6d6" stroke-width="3.55" stroke-linecap="round" stroke-linejoin="round"/>
<path d="M236.7 328.6 L240.5 328.3" fill="none" stroke="#b2b2b2" stroke-width="5.46" stroke-linecap="round" stroke-linejoin="round"/>
<path d="M236.7 328.6 L240.5 328.3" fill="none" stroke="#d6d6d6" stroke-width="4.06" stroke-linecap="round" stroke-linejoin="round"/>
<path d="M251.7 332.3 L254.5 331.8 L257.9 331.0 L260.6 330.1" fill="none" stroke="#b2b2b2" stroke-width="4.95" stroke-linecap="round" stroke-linejoin="round"/>
<path d="M251.7 332.3 L255.0 331.3 L257.6 330.7 L260.6 330.1" fill="none" stroke="#d6d6d6" stroke-width="3.55" stroke-linecap="round" stroke-linejoin="round"/>
<path d="M259.4 330.5 L259.3 333.5 L259.8 336.0 L259.7 338.7 L259.9 342.1 L260.0 344.7" fill="none" stroke="#b2b2b2" stroke-width="4.61" stroke-linecap="round" stroke-linejoin="round"/>
<path d="M259.4 330.5 L259.4 333.2 L259.5 336.6 L259.6 339.0 L259.7 341.9 L260.0 344.7" fill="none" stroke="#d6d6d6" stroke-width="3.21" stroke-linecap="round" stroke-linejoin="round"/>
<path d="M257.3 315.6 L257.9 320.1" fill="none" stroke="#d1d1d1" stroke-width="2.20" stroke-linecap="round" stroke-linejoin="round"/>
<path d="M256.1 334.3 L258.4 344.7" fill="none" stroke="#9e9e9e" stroke-width="3.50" stroke-linecap="round" stroke-linejoin="round"/>
<path d="M48.7 332.5 L52.0 331.6" fill="none" stroke="#ffffff" stroke-width="2.55" stroke-linecap="round" stroke-linejoin="round"/>
<path d="M93.8 325.3 L97.5 325.0" fill="none" stroke="#ffffff" stroke-width="2.04" stroke-linecap="round" stroke-linejoin="round"/>
<path d="M101.2 324.6 L104.6 324.9 L107.2 325.0" fill="none" stroke="#ffffff" stroke-width="2.72" stroke-linecap="round" stroke-linejoin="round"/>
<path d="M116.9 328.3 L119.2 327.2 L122.1 326.0" fill="none" stroke="#ffffff" stroke-width="3.06" stroke-linecap="round" stroke-linejoin="round"/>
<path d="M118.2 327.2 L122.7 326.3" fill="none" stroke="#ffffff" stroke-width="2.89" stroke-linecap="round" stroke-linejoin="round"/>
<path d="M131.7 327.1 L134.7 326.4 L136.9 326.2" fill="none" stroke="#ffffff" stroke-width="2.72" stroke-linecap="round" stroke-linejoin="round"/>
<path d="M155.1 326.8 L158.1 327.1" fill="none" stroke="#ffffff" stroke-width="2.55" stroke-linecap="round" stroke-linejoin="round"/>
<path d="M166.7 329.0 L170.0 327.2 L173.5 326.0" fill="none" stroke="#ffffff" stroke-width="3.06" stroke-linecap="round" stroke-linejoin="round"/>
<path d="M183.5 326.0 L187.6 325.7" fill="none" stroke="#ffffff" stroke-width="2.55" stroke-linecap="round" stroke-linejoin="round"/>
<path d="M193.6 326.0 L197.3 326.0" fill="none" stroke="#ffffff" stroke-width="2.04" stroke-linecap="round" stroke-linejoin="round"/>
<path d="M186.0 326.0 L188.6 326.5 L191.7 325.8 L194.2 326.0" fill="none" stroke="#ffffff" stroke-width="1.87" stroke-linecap="round" stroke-linejoin="round"/>
<path d="M198.7 328.3 L202.0 328.9 L205.3 329.7 L208.7 330.0 L211.4 329.7 L214.4 330.2 L217.2 329.5 L220.3 330.1" fill="none" stroke="#ffffff" stroke-width="2.55" stroke-linecap="round" stroke-linejoin="round"/>
<path d="M225.6 328.3 L228.3 328.8 L230.8 329.0" fill="none" stroke="#ffffff" stroke-width="2.55" stroke-linecap="round" stroke-linejoin="round"/>
<path d="M236.7 328.6 L240.5 328.3" fill="none" stroke="#ffffff" stroke-width="3.06" stroke-linecap="round" stroke-linejoin="round"/>
<path d="M251.7 332.3 L254.5 331.5 L258.0 331.0 L260.6 330.1" fill="none" stroke="#ffffff" stroke-width="2.55" stroke-linecap="round" stroke-linejoin="round"/>
<path d="M259.4 330.5 L259.8 333.7 L259.7 336.6 L259.6 339.2 L259.8 341.7 L260.0 344.7" fill="none" stroke="#ffffff" stroke-width="2.21" stroke-linecap="round" stroke-linejoin="round"/>
</g>
</svg>
<rect x="46" y="247.3" width="216.00" height="162.30" fill="none" stroke="#00006a" stroke-width="0.8" stroke-opacity="0.75"/>
<line x1="46" y1="247.60000000000002" x2="262" y2="247.60000000000002" stroke="#000058" stroke-width="1.1" stroke-opacity="0.85"/>
<line x1="46" y1="409.6" x2="262" y2="409.6" stroke="#000040" stroke-width="1"/>
<line x1="67.6" y1="409.6" x2="67.6" y2="407.6" stroke="#000050" stroke-width="0.7"/>
<line x1="67.6" y1="247.3" x2="67.6" y2="249.3" stroke="#000050" stroke-width="0.7" stroke-opacity="0.7"/>
<line x1="89.2" y1="409.6" x2="89.2" y2="407.6" stroke="#000050" stroke-width="0.7"/>
<line x1="89.2" y1="247.3" x2="89.2" y2="249.3" stroke="#000050" stroke-width="0.7" stroke-opacity="0.7"/>
<line x1="110.8" y1="409.6" x2="110.8" y2="407.6" stroke="#000050" stroke-width="0.7"/>
<line x1="110.8" y1="247.3" x2="110.8" y2="249.3" stroke="#000050" stroke-width="0.7" stroke-opacity="0.7"/>
<line x1="132.4" y1="409.6" x2="132.4" y2="407.6" stroke="#000050" stroke-width="0.7"/>
<line x1="132.4" y1="247.3" x2="132.4" y2="249.3" stroke="#000050" stroke-width="0.7" stroke-opacity="0.7"/>
<line x1="154.0" y1="409.6" x2="154.0" y2="407.6" stroke="#000050" stroke-width="0.7"/>
<line x1="154.0" y1="247.3" x2="154.0" y2="249.3" stroke="#000050" stroke-width="0.7" stroke-opacity="0.7"/>
<line x1="175.6" y1="409.6" x2="175.6" y2="407.6" stroke="#000050" stroke-width="0.7"/>
<line x1="175.6" y1="247.3" x2="175.6" y2="249.3" stroke="#000050" stroke-width="0.7" stroke-opacity="0.7"/>
<line x1="197.2" y1="409.6" x2="197.2" y2="407.6" stroke="#000050" stroke-width="0.7"/>
<line x1="197.2" y1="247.3" x2="197.2" y2="249.3" stroke="#000050" stroke-width="0.7" stroke-opacity="0.7"/>
<line x1="218.8" y1="409.6" x2="218.8" y2="407.6" stroke="#000050" stroke-width="0.7"/>
<line x1="218.8" y1="247.3" x2="218.8" y2="249.3" stroke="#000050" stroke-width="0.7" stroke-opacity="0.7"/>
<line x1="240.4" y1="409.6" x2="240.4" y2="407.6" stroke="#000050" stroke-width="0.7"/>
<line x1="240.4" y1="247.3" x2="240.4" y2="249.3" stroke="#000050" stroke-width="0.7" stroke-opacity="0.7"/>
<text x="41" y="267.2" font-size="11" text-anchor="end" font-family="Liberation Sans, Arial, sans-serif" stroke="#000" stroke-width="0.3" >300</text>
<text x="41" y="282.3" font-size="11" text-anchor="end" font-family="Liberation Sans, Arial, sans-serif" stroke="#000" stroke-width="0.3" >250</text>
<text x="41" y="298.1" font-size="11" text-anchor="end" font-family="Liberation Sans, Arial, sans-serif" stroke="#000" stroke-width="0.3" >200</text>
<text x="41" y="313.5" font-size="11" text-anchor="end" font-family="Liberation Sans, Arial, sans-serif" stroke="#000" stroke-width="0.3" >150</text>
<text x="41" y="331.0" font-size="11" text-anchor="end" font-family="Liberation Sans, Arial, sans-serif" stroke="#000" stroke-width="0.3" >100</text>
<text x="41" y="347.7" font-size="11" text-anchor="end" font-family="Liberation Sans, Arial, sans-serif" stroke="#000" stroke-width="0.3" >50</text>
<text x="41" y="364.9" font-size="11" text-anchor="end" font-family="Liberation Sans, Arial, sans-serif" stroke="#000" stroke-width="0.3" >0</text>
<text x="41" y="380.7" font-size="11" text-anchor="end" font-family="Liberation Sans, Arial, sans-serif" stroke="#000" stroke-width="0.3" >-50</text>
<text x="41" y="396.8" font-size="11" text-anchor="end" font-family="Liberation Sans, Arial, sans-serif" stroke="#000" stroke-width="0.3" >-100</text>
<text x="41" y="411.7" font-size="11" text-anchor="end" font-family="Liberation Sans, Arial, sans-serif" stroke="#000" stroke-width="0.3" >-150</text>
<text x="47.1" y="423.6" font-size="11" text-anchor="middle" font-family="Liberation Sans, Arial, sans-serif" stroke="#000" stroke-width="0.3" >0</text>
<text x="69.1" y="423.1" font-size="11" text-anchor="middle" font-family="Liberation Sans, Arial, sans-serif" stroke="#000" stroke-width="0.3" >0.2</text>
<text x="89.7" y="423.1" font-size="11" text-anchor="middle" font-family="Liberation Sans, Arial, sans-serif" stroke="#000" stroke-width="0.3" >0.4</text>
<text x="111.4" y="423.1" font-size="11" text-anchor="middle" font-family="Liberation Sans, Arial, sans-serif" stroke="#000" stroke-width="0.3" >0.6</text>
<text x="132" y="423.1" font-size="11" text-anchor="middle" font-family="Liberation Sans, Arial, sans-serif" stroke="#000" stroke-width="0.3" >0.8</text>
<text x="153.0" y="423.1" font-size="11" text-anchor="middle" font-family="Liberation Sans, Arial, sans-serif" stroke="#000" stroke-width="0.3" >1</text>
<text x="174.9" y="423.1" font-size="11" text-anchor="middle" font-family="Liberation Sans, Arial, sans-serif" stroke="#000" stroke-width="0.3" >1.2</text>
<text x="195.5" y="423.1" font-size="11" text-anchor="middle" font-family="Liberation Sans, Arial, sans-serif" stroke="#000" stroke-width="0.3" >1.4</text>
<text x="217.2" y="423.1" font-size="11" text-anchor="middle" font-family="Liberation Sans, Arial, sans-serif" stroke="#000" stroke-width="0.3" >1.6</text>
<text x="238.1" y="423.1" font-size="11" text-anchor="middle" font-family="Liberation Sans, Arial, sans-serif" stroke="#000" stroke-width="0.3" >1.8</text>
<text x="257.5" y="423.1" font-size="11" text-anchor="middle" font-family="Liberation Sans, Arial, sans-serif" stroke="#000" stroke-width="0.3" >2</text>
<line x1="45.6" y1="247.3" x2="45.6" y2="413.6" stroke="#777" stroke-width="0.7" stroke-opacity="0.7"/>
<text x="154.8" y="244.3" font-size="10.3" text-anchor="middle" font-family="Liberation Sans, Arial, sans-serif" stroke="#000" stroke-width="0.3" textLength="67.8" lengthAdjust="spacingAndGlyphs">micro-Doppler</text>
<text x="164.4" y="441.8" font-size="12.3" text-anchor="middle" font-family="Liberation Sans, Arial, sans-serif" stroke="#000" stroke-width="0.3" textLength="59" lengthAdjust="spacingAndGlyphs">Time (sec)</text>
<text transform="translate(10.5,325.4) rotate(-90)" font-size="12.5" text-anchor="middle" font-family="Liberation Sans, Arial, sans-serif" stroke="#000" stroke-width="0.3" textLength="85.5" lengthAdjust="spacingAndGlyphs">Frequency (Hz)</text>
<text x="1.0" y="245.6" font-size="15.5" font-weight="bold" font-family="Liberation Serif, Times New Roman, serif">(c)</text>
<svg x="326" y="247.3" width="215.50" height="162.60" viewBox="326 247.3 215.50 162.60" overflow="hidden">
<g filter="url(#jet)">
<rect x="321" y="242.3" width="225.50" height="172.60" fill="#000"/>
<g filter="url(#hz)">
<rect x="505.8" y="247.3" width="1.5" height="162.6" fill="#0b0b0b"/>
<rect x="529.2" y="247.3" width="3.5" height="162.6" fill="#0e0e0e"/>
<rect x="511.2" y="247.3" width="1.5" height="162.6" fill="#070707"/>
<rect x="469.2" y="247.3" width="1.5" height="162.6" fill="#050505"/>
</g>
<path d="M324.5 330.4 L327.0 330.5 L330.4 329.9 L331.8 329.6 L334.3 329.6 L337.3 330.2 L341.8 330.3 L343.7 329.5 L347.2 329.9 L349.1 331.3 L353.1 330.5 L354.9 330.8 L359.3 331.2 L361.5 333.2 L363.2 332.5 L367.4 331.9 L370.2 329.3 L373.3 328.1 L377.1 328.8 L379.6 326.6 L383.1 327.9 L386.0 327.2 L389.3 327.7 L391.8 327.5 L394.4 327.4 L398.7 327.8 L401.1 328.0 L405.0 326.3 L407.3 326.7" fill="none" stroke="#4c4c4c" stroke-width="5.62" stroke-linecap="round" stroke-linejoin="round"/>
<ellipse cx="341.7" cy="327.9" rx="1.49" ry="2.09" fill="#616161"/>
<ellipse cx="355.9" cy="327.5" rx="1.19" ry="1.79" fill="#545454"/>
<ellipse cx="330.5" cy="331.2" rx="2.09" ry="1.49" fill="#5c5c5c"/>
<polygon points="363.8,330.0 365.7,325.7 366.3,321.5 369.4,320.1 372.5,318.9 375.0,319.9 378.9,320.3 379.8,323.7 381.1,326.1 383.1,324.8 385.6,324.3 388.7,322.0 392.3,322.4 394.0,324.1 397.7,323.5 400.6,322.9 403.7,321.1 407.9,320.8 406.7,324.0 406.7,329.0 407.5,332.1 404.4,334.6 400.8,335.8 396.1,333.0 391.5,337.0 388.8,336.3 386.3,336.3 384.3,330.7 378.3,331.8 377.5,333.8 377.2,336.8 374.6,336.5 370.2,335.7 368.1,335.8 364.4,336.5 364.7,333.3" fill="#666666" stroke="#666666" stroke-width="0.8" stroke-linejoin="round"/>
<path d="M329.0 313.0 L329.0 316.6" fill="none" stroke="#4c4c4c" stroke-width="1.60" stroke-linecap="round" stroke-linejoin="round"/>
<path d="M335.7 277.5 L336.4 283.4" fill="none" stroke="#1f1f1f" stroke-width="1.50" stroke-linecap="round" stroke-linejoin="round"/>
<path d="M329.7 296.9 L330.5 302.8" fill="none" stroke="#1a1a1a" stroke-width="1.50" stroke-linecap="round" stroke-linejoin="round"/>
<path d="M368.5 289.4 L366.6 299.9 L366.3 308.8" fill="none" stroke="#212121" stroke-width="1.50" stroke-linecap="round" stroke-linejoin="round"/>
<path d="M366.3 308.8 L367.0 320.0" fill="none" stroke="#474747" stroke-width="1.50" stroke-linecap="round" stroke-linejoin="round"/>
<path d="M378.2 271.5 L379.7 277.5" fill="none" stroke="#1a1a1a" stroke-width="1.50" stroke-linecap="round" stroke-linejoin="round"/>
<path d="M376.0 335.7 L374.5 344.6 L373.8 353.6" fill="none" stroke="#333333" stroke-width="1.50" stroke-linecap="round" stroke-linejoin="round"/>
<path d="M364.8 340.1 L365.6 362.5" fill="none" stroke="#1a1a1a" stroke-width="1.40" stroke-linecap="round" stroke-linejoin="round"/>
<path d="M333.5 341.6 L335.0 358.1" fill="none" stroke="#141414" stroke-width="1.40" stroke-linecap="round" stroke-linejoin="round"/>
<path d="M355.9 311.8 L354.4 316.3" fill="none" stroke="#1a1a1a" stroke-width="1.40" stroke-linecap="round" stroke-linejoin="round"/>
<path d="M390.2 341.6 L389.4 347.6" fill="none" stroke="#1a1a1a" stroke-width="1.40" stroke-linecap="round" stroke-linejoin="round"/>
<polygon points="395.3,321.9 398.6,321.8 401.9,321.1 404.7,320.1 407.7,319.9 411.0,318.9 413.4,317.1 418.8,321.8 422.3,322.5 425.6,322.6 427.8,326.1 430.9,329.6 432.0,326.7 433.3,321.9 437.7,321.7 440.5,320.4 443.1,319.8 447.4,320.1 450.1,319.3 453.2,319.5 456.2,321.5 459.3,323.8 462.7,323.9 467.4,323.6 470.9,322.6 474.1,322.3 476.8,321.6 476.8,326.5 477.1,329.0 477.2,333.6 474.3,334.3 470.7,334.6 467.0,333.7 464.6,334.9 461.6,335.6 458.8,335.0 455.1,335.9 451.4,335.2 448.4,335.6 445.9,335.8 442.0,334.0 438.8,334.1 435.4,333.3 431.2,332.4 428.7,332.7 425.3,332.1 422.2,333.6 419.1,334.0 415.7,335.5 412.4,334.5 408.2,334.7 404.7,334.0 400.6,333.4 396.5,333.1 396.3,330.3 395.4,326.5" fill="#616161" stroke="#616161" stroke-width="0.8" stroke-linejoin="round"/>
<path d="M394.5 327.5 L397.7 327.4 L401.3 328.2 L404.4 328.0 L408.3 327.8 L409.4 329.3 L412.0 327.6 L415.0 326.8 L417.7 326.3 L421.4 326.4 L422.2 327.5 L425.0 328.4 L427.1 327.6 L430.1 329.5 L433.6 329.1 L434.8 327.4 L438.4 327.6 L441.6 326.6 L442.9 327.4 L447.4 328.2 L450.0 328.0 L453.4 328.1 L455.6 328.1 L457.9 328.0 L460.7 327.8 L463.2 327.5 L465.4 328.8 L469.2 328.5 L471.6 328.1 L475.1 328.6 L477.3 327.5" fill="none" stroke="#4c4c4c" stroke-width="9.38" stroke-linecap="round" stroke-linejoin="round"/>
<path d="M406.4 322.2 L407.2 307.3 L408.7 297.6 L410.5 295.4" fill="none" stroke="#545454" stroke-width="1.80" stroke-linecap="round" stroke-linejoin="round"/>
<path d="M410.9 335.7 L411.7 347.6 L410.9 356.6" fill="none" stroke="#545454" stroke-width="1.80" stroke-linecap="round" stroke-linejoin="round"/>
<path d="M443.8 320.0 L445.3 308.8 L447.0 302.1" fill="none" stroke="#545454" stroke-width="1.80" stroke-linecap="round" stroke-linejoin="round"/>

<path d="M446.7 301.6 L446.4 298.4 L448.5 296.9 L450.5 299.1 L449.0 301.6" fill="none" stroke="#404040" stroke-width="1.50" stroke-linecap="round" stroke-linejoin="round"/>
<path d="M451.5 335.7 L450.6 347.6 L448.2 353.9" fill="none" stroke="#545454" stroke-width="1.80" stroke-linecap="round" stroke-linejoin="round"/>
<path d="M457.2 335.7 L457.2 343.4" fill="none" stroke="#4c4c4c" stroke-width="1.60" stroke-linecap="round" stroke-linejoin="round"/>
<path d="M467.6 339.9 L468.4 344.0" fill="none" stroke="#545454" stroke-width="2.00" stroke-linecap="round" stroke-linejoin="round"/>
<path d="M431.8 319.3 L434.1 324.0" fill="none" stroke="#545454" stroke-width="1.80" stroke-linecap="round" stroke-linejoin="round"/>
<path d="M415.4 276.0 L415.4 280.4" fill="none" stroke="#1a1a1a" stroke-width="1.50" stroke-linecap="round" stroke-linejoin="round"/>
<path d="M419.9 279.7 L419.9 284.9" fill="none" stroke="#1a1a1a" stroke-width="1.50" stroke-linecap="round" stroke-linejoin="round"/>
<ellipse cx="457.2" cy="276.3" rx="1.49" ry="1.49" fill="#141414"/>
<path d="M469.1 313.3 L469.1 320.7" fill="none" stroke="#1f1f1f" stroke-width="1.50" stroke-linecap="round" stroke-linejoin="round"/>
<path d="M423.6 359.6 L424.1 363.3" fill="none" stroke="#141414" stroke-width="1.40" stroke-linecap="round" stroke-linejoin="round"/>
<polygon points="463.7,324.7 467.1,324.3 469.7,322.3 473.2,322.3 476.0,321.5 479.9,321.4 483.5,320.4 486.6,319.4 490.6,320.8 493.6,324.0 496.6,325.0 499.5,325.5 502.9,326.0 506.8,327.1 510.4,326.7 513.3,327.0 516.1,325.9 518.2,324.0 520.5,321.8 522.1,319.5 523.1,315.9 526.4,319.6 527.4,323.5 528.0,326.3 531.6,327.5 535.6,329.6 538.9,330.7 542.5,331.0 542.6,333.9 542.6,337.5 542.7,341.4 542.3,343.6 542.6,346.7 541.8,350.2 539.4,353.4 535.9,356.6 532.8,356.3 530.3,357.2 526.1,354.0 524.2,350.6 521.7,346.3 518.8,342.9 515.1,341.8 511.6,340.1 509.0,338.2 505.7,339.5 501.7,340.5 498.9,343.0 496.5,346.4 493.7,348.4 490.0,350.3 488.0,348.3 484.8,345.2 483.2,342.2 480.8,338.3 477.8,335.1 474.3,335.1 470.6,334.1 467.3,333.1 463.7,332.0 464.3,329.2" fill="#666666" stroke="#666666" stroke-width="0.8" stroke-linejoin="round"/>
<path d="M486.4 320.0 L485.6 310.3 L489.4 302.1" fill="none" stroke="#4c4c4c" stroke-width="1.80" stroke-linecap="round" stroke-linejoin="round"/>
<path d="M485.6 310.3 L483.7 308.1 L486.4 305.1 L488.6 303.6" fill="none" stroke="#404040" stroke-width="1.40" stroke-linecap="round" stroke-linejoin="round"/>
<path d="M467.0 324.5 L468.5 316.6 L471.5 322.2 L474.4 314.8 L478.2 321.5" fill="none" stroke="#333333" stroke-width="1.40" stroke-linecap="round" stroke-linejoin="round"/>
<path d="M467.0 338.7 L467.7 343.4" fill="none" stroke="#545454" stroke-width="1.80" stroke-linecap="round" stroke-linejoin="round"/>
<path d="M523.0 311.8 L524.4 317.0" fill="none" stroke="#262626" stroke-width="1.40" stroke-linecap="round" stroke-linejoin="round"/>
<path d="M462.5 328.2 L465.1 327.5 L467.3 327.9 L471.3 328.2 L473.5 329.3 L476.7 327.9 L479.9 329.2 L481.3 328.1 L485.8 328.8 L488.4 329.1 L492.0 329.6 L494.7 330.5 L496.4 329.7 L500.2 330.6 L503.1 330.6 L505.4 331.6 L508.3 331.6 L509.5 332.4 L512.3 334.7 L515.3 335.2 L516.6 336.7 L520.7 337.4 L522.9 339.2 L525.4 339.4 L529.0 340.4 L531.1 338.5 L533.6 336.7 L536.9 337.6 L539.1 336.6 L543.1 336.4" fill="none" stroke="#4c4c4c" stroke-width="9.38" stroke-linecap="round" stroke-linejoin="round"/>
<path d="M324.5 330.4 L326.6 330.1 L329.1 330.8 L332.5 330.5 L335.6 330.2 L337.5 329.7 L340.7 330.4 L344.1 329.1 L346.8 329.6 L350.1 330.2 L352.4 331.4 L356.1 331.7 L358.2 332.1 L360.9 331.6 L363.7 333.0 L367.6 330.8 L371.3 330.2 L373.5 329.6 L376.4 327.6 L379.7 328.0 L382.9 327.5 L385.7 327.2 L388.4 327.3 L391.7 328.1 L394.3 327.1 L398.8 327.7 L400.8 327.4 L404.6 327.7 L407.3 326.7" fill="none" stroke="#666666" stroke-width="3.60" stroke-linecap="round" stroke-linejoin="round"/>
<polygon points="371.8,329.4 373.0,326.7 373.3,324.1 375.3,323.2 377.2,322.5 378.8,323.1 381.1,323.4 381.7,325.5 382.5,327.0 383.7,326.1 385.3,325.8 387.2,324.4 389.5,324.6 390.5,325.7 392.8,325.3 394.6,324.9 396.6,323.9 399.1,323.7 398.4,325.7 398.4,328.8 398.9,330.7 397.0,332.2 394.7,333.0 391.8,331.2 389.0,333.7 387.3,333.3 385.7,333.3 384.5,329.8 380.8,330.5 380.3,331.8 380.1,333.6 378.5,333.4 375.8,332.9 374.4,332.9 372.2,333.4 372.4,331.4" fill="#7d7d7d" stroke="#7d7d7d" stroke-width="0.8" stroke-linejoin="round"/>
<polygon points="411.1,324.2 413.1,324.1 415.2,323.7 416.9,323.0 418.8,322.9 420.8,322.3 422.3,321.2 425.6,324.1 427.9,324.5 429.9,324.6 431.2,326.8 433.2,329.0 433.8,327.1 434.7,324.1 437.4,324.1 439.1,323.3 440.7,322.9 443.4,323.0 445.1,322.5 447.0,322.7 448.9,323.9 450.8,325.4 452.9,325.4 455.8,325.2 458.0,324.6 460.0,324.4 461.6,324.0 461.6,327.0 461.8,328.6 461.9,331.4 460.1,331.8 457.8,332.0 455.5,331.5 454.1,332.2 452.2,332.6 450.4,332.3 448.1,332.8 445.9,332.4 444.0,332.7 442.5,332.8 440.0,331.7 438.1,331.7 436.0,331.3 433.4,330.7 431.8,330.8 429.7,330.5 427.8,331.4 425.9,331.7 423.7,332.6 421.7,332.0 419.1,332.1 416.9,331.7 414.4,331.3 411.8,331.1 411.7,329.4 411.2,327.0" fill="#787878" stroke="#787878" stroke-width="0.8" stroke-linejoin="round"/>
<path d="M394.5 327.5 L398.1 327.8 L402.4 327.9 L404.9 327.6 L407.9 328.5 L410.5 329.3 L412.4 327.7 L415.8 327.9 L417.3 326.4 L420.5 326.6 L422.5 327.3 L425.3 327.9 L427.6 327.9 L429.8 329.2 L433.0 327.7 L434.8 328.1 L437.5 327.6 L441.4 327.7 L443.3 327.1 L447.2 327.8 L449.4 327.1 L453.2 327.1 L455.4 328.0 L457.9 327.6 L461.4 328.4 L464.0 327.9 L465.7 328.7 L469.4 328.6 L472.1 327.9 L474.8 328.3 L477.3 327.5" fill="none" stroke="#666666" stroke-width="6.00" stroke-linecap="round" stroke-linejoin="round"/>
<polygon points="480.0,328.4 482.1,328.2 483.8,326.9 485.9,327.0 487.7,326.4 490.1,326.4 492.3,325.8 494.2,325.1 496.7,326.0 498.6,328.0 500.4,328.6 502.2,328.9 504.3,329.2 506.7,329.9 509.0,329.7 510.8,329.8 512.5,329.2 513.8,328.0 515.2,326.6 516.3,325.2 516.9,323.0 518.9,325.3 519.5,327.7 519.9,329.4 522.1,330.2 524.6,331.5 526.6,332.1 528.9,332.3 528.9,334.2 528.9,336.4 529.0,338.8 528.8,340.1 528.9,342.1 528.4,344.2 527.0,346.2 524.8,348.2 522.8,348.0 521.3,348.6 518.7,346.6 517.5,344.5 516.0,341.8 514.2,339.7 511.9,339.0 509.7,338.0 508.1,336.8 506.1,337.6 503.6,338.2 501.8,339.8 500.3,341.9 498.6,343.1 496.3,344.3 495.1,343.1 493.1,341.1 492.1,339.2 490.6,336.9 488.8,334.9 486.6,334.8 484.3,334.3 482.2,333.7 480.0,333.0 480.4,331.2" fill="#7d7d7d" stroke="#7d7d7d" stroke-width="0.8" stroke-linejoin="round"/>
<path d="M462.5 328.2 L465.3 328.4 L468.7 328.5 L470.8 327.9 L473.3 329.2 L476.5 329.1 L479.7 329.4 L482.5 329.6 L485.7 329.5 L488.4 328.8 L492.2 329.7 L494.1 329.6 L497.4 330.3 L499.5 329.5 L502.3 330.2 L505.2 332.0 L507.5 331.7 L510.9 332.5 L512.2 334.3 L515.3 335.3 L516.9 336.6 L520.3 338.8 L521.9 339.7 L525.6 340.1 L527.5 339.2 L530.2 338.6 L533.0 337.7 L536.3 336.8 L539.4 337.2 L543.1 336.4" fill="none" stroke="#666666" stroke-width="6.00" stroke-linecap="round" stroke-linejoin="round"/>
<ellipse cx="369.6" cy="328.5" rx="1.9" ry="3.0" fill="#000000"/>
<ellipse cx="391.7" cy="333.0" rx="2.4" ry="1.5" fill="#000000"/>
<circle cx="388.0" cy="330.1" r="1.11" fill="#999999"/>
<circle cx="389.0" cy="334.8" r="1.08" fill="#9b9b9b"/>
<circle cx="387.5" cy="335.0" r="1.05" fill="#979797"/>
<circle cx="367.5" cy="326.8" r="0.95" fill="#828282"/>
<circle cx="401.1" cy="332.6" r="1.41" fill="#909090"/>
<circle cx="371.8" cy="322.5" r="1.05" fill="#909090"/>
<circle cx="377.1" cy="334.5" r="1.23" fill="#989898"/>
<circle cx="384.9" cy="328.7" r="0.90" fill="#9b9b9b"/>
<circle cx="402.2" cy="330.4" r="1.18" fill="#8b8b8b"/>
<circle cx="406.3" cy="327.9" r="1.00" fill="#929292"/>
<circle cx="369.3" cy="332.8" r="1.22" fill="#818181"/>
<circle cx="417.0" cy="321.2" r="1.16" fill="#8e8e8e"/>
<circle cx="437.0" cy="323.4" r="1.41" fill="#808080"/>
<circle cx="418.8" cy="334.0" r="0.96" fill="#868686"/>
<circle cx="460.2" cy="330.8" r="1.42" fill="#919191"/>
<circle cx="398.7" cy="323.7" r="1.26" fill="#858585"/>
<circle cx="476.0" cy="327.6" r="1.19" fill="#9d9d9d"/>
<circle cx="441.0" cy="325.1" r="0.91" fill="#9d9d9d"/>
<circle cx="446.1" cy="335.6" r="1.43" fill="#9c9c9c"/>
<circle cx="403.8" cy="329.2" r="1.26" fill="#909090"/>
<circle cx="448.6" cy="326.8" r="0.90" fill="#989898"/>
<circle cx="434.8" cy="322.7" r="1.16" fill="#8f8f8f"/>
<circle cx="412.0" cy="330.8" r="1.48" fill="#838383"/>
<circle cx="418.5" cy="334.0" r="1.40" fill="#8f8f8f"/>
<circle cx="397.7" cy="324.9" r="0.99" fill="#8d8d8d"/>
<circle cx="396.6" cy="329.2" r="1.46" fill="#919191"/>
<circle cx="440.5" cy="323.8" r="1.00" fill="#9b9b9b"/>
<circle cx="397.3" cy="331.1" r="1.29" fill="#878787"/>
<circle cx="413.6" cy="329.7" r="1.50" fill="#8c8c8c"/>
<circle cx="407.6" cy="329.0" r="1.02" fill="#9c9c9c"/>
<circle cx="466.1" cy="329.7" r="1.37" fill="#808080"/>
<circle cx="473.8" cy="325.5" r="0.91" fill="#858585"/>
<circle cx="465.9" cy="324.2" r="1.42" fill="#898989"/>
<circle cx="419.8" cy="323.7" r="1.35" fill="#929292"/>
<circle cx="411.4" cy="320.9" r="1.20" fill="#9e9e9e"/>
<circle cx="460.8" cy="325.8" r="1.05" fill="#9b9b9b"/>
<circle cx="406.0" cy="323.0" r="1.05" fill="#8e8e8e"/>
<circle cx="459.2" cy="324.5" r="1.48" fill="#999999"/>
<circle cx="437.9" cy="328.5" r="1.20" fill="#828282"/>
<circle cx="406.1" cy="322.6" r="1.41" fill="#848484"/>
<circle cx="419.4" cy="325.2" r="0.91" fill="#858585"/>
<circle cx="430.1" cy="331.0" r="1.29" fill="#858585"/>
<circle cx="463.5" cy="325.2" r="1.20" fill="#9a9a9a"/>
<circle cx="429.1" cy="330.0" r="1.21" fill="#939393"/>
<circle cx="473.2" cy="329.1" r="0.92" fill="#898989"/>
<circle cx="473.6" cy="329.1" r="1.12" fill="#999999"/>
<circle cx="474.3" cy="324.8" r="1.16" fill="#818181"/>
<circle cx="443.6" cy="324.4" r="1.46" fill="#8f8f8f"/>
<circle cx="409.9" cy="330.3" r="1.43" fill="#949494"/>
<circle cx="507.8" cy="333.3" r="1.23" fill="#8a8a8a"/>
<circle cx="493.9" cy="332.9" r="1.16" fill="#8d8d8d"/>
<circle cx="469.8" cy="330.2" r="1.37" fill="#868686"/>
<circle cx="504.9" cy="338.0" r="1.46" fill="#949494"/>
<circle cx="480.1" cy="336.1" r="1.09" fill="#828282"/>
<circle cx="524.7" cy="336.4" r="1.31" fill="#909090"/>
<circle cx="490.8" cy="326.3" r="1.44" fill="#868686"/>
<circle cx="493.9" cy="331.3" r="1.14" fill="#8f8f8f"/>
<circle cx="487.3" cy="322.6" r="0.99" fill="#838383"/>
<circle cx="505.2" cy="329.1" r="1.10" fill="#979797"/>
<circle cx="524.5" cy="317.8" r="1.34" fill="#959595"/>
<circle cx="484.0" cy="332.2" r="1.28" fill="#838383"/>
<circle cx="475.8" cy="334.5" r="0.90" fill="#8a8a8a"/>
<circle cx="484.1" cy="320.9" r="1.09" fill="#848484"/>
<circle cx="484.9" cy="320.0" r="1.07" fill="#838383"/>
<circle cx="524.3" cy="344.0" r="1.07" fill="#808080"/>
<circle cx="516.4" cy="330.4" r="0.96" fill="#898989"/>
<circle cx="493.7" cy="328.6" r="1.26" fill="#9a9a9a"/>
<circle cx="472.6" cy="331.9" r="1.22" fill="#9b9b9b"/>
<circle cx="538.3" cy="352.9" r="1.45" fill="#888888"/>
<circle cx="525.3" cy="351.5" r="1.34" fill="#8b8b8b"/>
<circle cx="539.5" cy="333.5" r="1.17" fill="#828282"/>
<circle cx="480.0" cy="326.3" r="1.49" fill="#8d8d8d"/>
<circle cx="542.0" cy="338.1" r="0.91" fill="#828282"/>
<circle cx="531.1" cy="334.2" r="0.92" fill="#9b9b9b"/>
<circle cx="531.5" cy="335.2" r="0.96" fill="#989898"/>
<circle cx="465.6" cy="329.0" r="0.96" fill="#878787"/>
<circle cx="529.5" cy="341.9" r="1.02" fill="#828282"/>
<circle cx="527.8" cy="352.9" r="1.34" fill="#8d8d8d"/>
<circle cx="529.9" cy="351.9" r="1.17" fill="#858585"/>
<circle cx="482.9" cy="338.4" r="0.91" fill="#9a9a9a"/>
<circle cx="498.1" cy="343.5" r="1.08" fill="#818181"/>
<circle cx="529.5" cy="347.0" r="0.97" fill="#989898"/>
<circle cx="538.5" cy="341.6" r="1.31" fill="#989898"/>
<circle cx="532.4" cy="338.3" r="1.12" fill="#949494"/>
<circle cx="493.9" cy="330.6" r="1.19" fill="#969696"/>
<circle cx="535.9" cy="332.5" r="1.22" fill="#8d8d8d"/>
<circle cx="498.7" cy="332.8" r="1.36" fill="#8d8d8d"/>
<circle cx="512.9" cy="339.0" r="1.39" fill="#969696"/>
<circle cx="510.5" cy="335.8" r="1.10" fill="#9b9b9b"/>
<circle cx="515.6" cy="333.7" r="1.31" fill="#8e8e8e"/>
<circle cx="471.4" cy="326.5" r="0.93" fill="#8b8b8b"/>
<circle cx="530.3" cy="339.9" r="1.38" fill="#9b9b9b"/>
<circle cx="530.9" cy="339.1" r="1.21" fill="#848484"/>
<circle cx="480.4" cy="328.0" r="1.40" fill="#858585"/>
<circle cx="499.6" cy="326.8" r="1.31" fill="#848484"/>
<circle cx="467.9" cy="326.5" r="1.18" fill="#939393"/>
<circle cx="510.9" cy="333.4" r="1.00" fill="#848484"/>
<circle cx="476.2" cy="326.0" r="1.18" fill="#969696"/>
<circle cx="535.2" cy="339.1" r="1.41" fill="#949494"/>
<circle cx="479.7" cy="331.6" r="1.11" fill="#8b8b8b"/>
<circle cx="478.0" cy="331.7" r="1.05" fill="#8e8e8e"/>
<circle cx="503.1" cy="327.3" r="1.33" fill="#838383"/>
<path d="M324.5 330.4 L326.6 330.9 L330.1 330.2 L332.4 330.8 L334.6 330.7 L338.0 329.7 L340.7 329.8 L343.5 330.2 L346.6 329.9 L350.0 330.7 L352.6 331.0 L355.7 332.1 L358.0 332.4 L361.8 332.5 L364.4 332.5 L368.0 331.5 L371.0 329.6 L373.4 329.2 L377.0 327.6 L379.5 327.5 L382.4 327.0 L385.3 326.9 L388.2 327.3 L391.7 327.6 L394.7 327.0 L398.6 327.6 L401.6 327.7 L404.1 327.2 L407.3 326.7" fill="none" stroke="#808080" stroke-width="2.03" stroke-linecap="round" stroke-linejoin="round"/>
<ellipse cx="335.0" cy="330.4" rx="1.94" ry="2.69" fill="#8c8c8c"/>
<ellipse cx="352.9" cy="331.5" rx="2.24" ry="2.99" fill="#8c8c8c"/>
<ellipse cx="364.1" cy="332.7" rx="1.94" ry="3.28" fill="#8c8c8c"/>
<polygon points="363.8,330.0 365.7,325.7 366.3,321.5 369.4,320.1 372.5,318.9 375.0,319.9 378.9,320.3 379.8,323.7 381.1,326.1 383.1,324.8 385.6,324.3 388.7,322.0 392.3,322.4 394.0,324.1 397.7,323.5 400.6,322.9 403.7,321.1 407.9,320.8 406.7,324.0 406.7,329.0 407.5,332.1 404.4,334.6 400.8,335.8 396.1,333.0 391.5,337.0 388.8,336.3 386.3,336.3 384.3,330.7 378.3,331.8 377.5,333.8 377.2,336.8 374.6,336.5 370.2,335.7 368.1,335.8 364.4,336.5 364.7,333.3" fill="none" stroke="#5c5c5c" stroke-width="1.3" stroke-linejoin="round"/>
<polygon points="395.3,321.9 398.6,321.8 401.9,321.1 404.7,320.1 407.7,319.9 411.0,318.9 413.4,317.1 418.8,321.8 422.3,322.5 425.6,322.6 427.8,326.1 430.9,329.6 432.0,326.7 433.3,321.9 437.7,321.7 440.5,320.4 443.1,319.8 447.4,320.1 450.1,319.3 453.2,319.5 456.2,321.5 459.3,323.8 462.7,323.9 467.4,323.6 470.9,322.6 474.1,322.3 476.8,321.6 476.8,326.5 477.1,329.0 477.2,333.6 474.3,334.3 470.7,334.6 467.0,333.7 464.6,334.9 461.6,335.6 458.8,335.0 455.1,335.9 451.4,335.2 448.4,335.6 445.9,335.8 442.0,334.0 438.8,334.1 435.4,333.3 431.2,332.4 428.7,332.7 425.3,332.1 422.2,333.6 419.1,334.0 415.7,335.5 412.4,334.5 408.2,334.7 404.7,334.0 400.6,333.4 396.5,333.1 396.3,330.3 395.4,326.5" fill="none" stroke="#575757" stroke-width="1.3" stroke-linejoin="round"/>
<path d="M394.5 327.5 L398.4 327.0 L402.4 326.9 L404.1 327.7 L407.3 329.0 L410.5 328.9 L412.9 328.2 L415.9 327.8 L417.9 327.6 L421.0 326.3 L423.6 326.5 L425.9 327.6 L427.9 328.8 L430.2 328.9 L432.5 328.5 L435.6 327.9 L437.4 327.5 L440.8 326.8 L443.4 327.2 L446.3 327.9 L450.4 327.9 L454.0 328.0 L456.1 328.1 L459.0 327.9 L461.5 328.2 L463.9 328.7 L466.6 328.5 L468.4 327.7 L472.0 328.1 L475.0 327.3 L477.3 327.5" fill="none" stroke="#808080" stroke-width="3.38" stroke-linecap="round" stroke-linejoin="round"/>
<polygon points="463.7,324.7 467.1,324.3 469.7,322.3 473.2,322.3 476.0,321.5 479.9,321.4 483.5,320.4 486.6,319.4 490.6,320.8 493.6,324.0 496.6,325.0 499.5,325.5 502.9,326.0 506.8,327.1 510.4,326.7 513.3,327.0 516.1,325.9 518.2,324.0 520.5,321.8 522.1,319.5 523.1,315.9 526.4,319.6 527.4,323.5 528.0,326.3 531.6,327.5 535.6,329.6 538.9,330.7 542.5,331.0 542.6,333.9 542.6,337.5 542.7,341.4 542.3,343.6 542.6,346.7 541.8,350.2 539.4,353.4 535.9,356.6 532.8,356.3 530.3,357.2 526.1,354.0 524.2,350.6 521.7,346.3 518.8,342.9 515.1,341.8 511.6,340.1 509.0,338.2 505.7,339.5 501.7,340.5 498.9,343.0 496.5,346.4 493.7,348.4 490.0,350.3 488.0,348.3 484.8,345.2 483.2,342.2 480.8,338.3 477.8,335.1 474.3,335.1 470.6,334.1 467.3,333.1 463.7,332.0 464.3,329.2" fill="none" stroke="#5c5c5c" stroke-width="1.3" stroke-linejoin="round"/>
<path d="M462.5 328.2 L464.9 328.0 L467.8 328.1 L470.3 328.9 L473.1 328.4 L475.8 328.8 L479.1 329.3 L481.3 329.5 L484.7 329.0 L488.9 329.9 L492.1 329.3 L493.9 329.6 L496.9 330.0 L499.3 330.1 L501.8 330.5 L505.1 331.2 L507.9 332.5 L510.4 332.9 L512.6 334.3 L515.4 336.2 L517.1 337.3 L520.1 338.2 L522.1 339.7 L525.8 339.6 L527.6 340.0 L530.4 338.0 L533.5 336.9 L537.0 336.8 L540.3 336.1 L543.1 336.4" fill="none" stroke="#808080" stroke-width="3.38" stroke-linecap="round" stroke-linejoin="round"/>
<ellipse cx="376.4" cy="325.0" rx="1.50" ry="1.49" fill="#000000"/>
<ellipse cx="400.8" cy="331.5" rx="1.10" ry="1.01" fill="#141414"/>
<ellipse cx="382.8" cy="330.4" rx="1.80" ry="1.67" fill="#000000"/>
<ellipse cx="392.4" cy="324.3" rx="1.30" ry="1.43" fill="#141414"/>
<ellipse cx="373.4" cy="332.1" rx="1.30" ry="1.47" fill="#292929"/>
<ellipse cx="391.5" cy="331.5" rx="0.90" ry="1.14" fill="#141414"/>
<ellipse cx="401.1" cy="325.5" rx="1.50" ry="1.79" fill="#000000"/>
<ellipse cx="388.0" cy="324.3" rx="0.90" ry="0.90" fill="#000000"/>
<ellipse cx="406.9" cy="331.5" rx="1.30" ry="1.59" fill="#000000"/>
<ellipse cx="396.5" cy="328.5" rx="1.10" ry="0.99" fill="#000000"/>
<ellipse cx="376.6" cy="336.7" rx="1.10" ry="1.01" fill="#000000"/>
<ellipse cx="389.0" cy="335.5" rx="1.50" ry="1.42" fill="#141414"/>
<ellipse cx="367.5" cy="326.4" rx="2.30" ry="2.96" fill="#141414"/>
<ellipse cx="366.3" cy="333.4" rx="1.80" ry="1.54" fill="#000000"/>
<ellipse cx="406.0" cy="321.4" rx="0.90" ry="0.88" fill="#000000"/>
<ellipse cx="395.3" cy="333.6" rx="1.30" ry="1.53" fill="#141414"/>
<ellipse cx="372.1" cy="321.4" rx="0.90" ry="0.98" fill="#000000"/>
<ellipse cx="383.9" cy="324.8" rx="0.90" ry="0.86" fill="#000000"/>
<ellipse cx="406.6" cy="326.3" rx="1.50" ry="1.80" fill="#292929"/>
<ellipse cx="413.9" cy="329.9" rx="0.90" ry="1.16" fill="#000000"/>
<ellipse cx="445.9" cy="323.0" rx="1.30" ry="1.47" fill="#141414"/>
<ellipse cx="468.2" cy="330.8" rx="0.90" ry="0.84" fill="#292929"/>
<ellipse cx="461.6" cy="329.4" rx="1.10" ry="1.36" fill="#000000"/>
<ellipse cx="466.0" cy="324.5" rx="2.30" ry="2.42" fill="#000000"/>
<ellipse cx="419.5" cy="323.1" rx="1.50" ry="1.61" fill="#000000"/>
<ellipse cx="440.3" cy="322.0" rx="1.10" ry="1.38" fill="#141414"/>
<ellipse cx="475.0" cy="332.3" rx="0.90" ry="0.82" fill="#141414"/>
<ellipse cx="397.4" cy="322.0" rx="0.90" ry="0.79" fill="#000000"/>
<ellipse cx="411.7" cy="334.0" rx="1.80" ry="2.05" fill="#000000"/>
<ellipse cx="445.1" cy="332.3" rx="1.10" ry="1.20" fill="#141414"/>
<ellipse cx="425.3" cy="331.6" rx="1.80" ry="1.67" fill="#000000"/>
<ellipse cx="454.1" cy="329.2" rx="2.30" ry="2.26" fill="#000000"/>
<ellipse cx="436.6" cy="329.1" rx="0.90" ry="0.77" fill="#000000"/>
<ellipse cx="413.8" cy="319.9" rx="1.50" ry="1.29" fill="#000000"/>
<ellipse cx="457.4" cy="322.4" rx="2.30" ry="2.68" fill="#292929"/>
<ellipse cx="449.7" cy="321.8" rx="1.10" ry="0.99" fill="#000000"/>
<ellipse cx="459.6" cy="334.1" rx="1.50" ry="1.76" fill="#000000"/>
<ellipse cx="449.0" cy="335.1" rx="1.80" ry="1.55" fill="#292929"/>
<ellipse cx="429.4" cy="329.0" rx="0.90" ry="1.04" fill="#292929"/>
<ellipse cx="419.8" cy="329.1" rx="1.10" ry="1.22" fill="#000000"/>
<ellipse cx="426.6" cy="325.8" rx="1.50" ry="1.81" fill="#141414"/>
<ellipse cx="411.3" cy="325.9" rx="1.50" ry="1.45" fill="#141414"/>
<ellipse cx="434.3" cy="326.4" rx="1.10" ry="1.30" fill="#292929"/>
<ellipse cx="436.8" cy="332.8" rx="1.10" ry="0.94" fill="#292929"/>
<ellipse cx="474.8" cy="327.9" rx="1.80" ry="1.80" fill="#000000"/>
<ellipse cx="415.5" cy="326.0" rx="0.90" ry="0.80" fill="#000000"/>
<ellipse cx="441.1" cy="331.0" rx="1.30" ry="1.35" fill="#000000"/>
<ellipse cx="455.3" cy="334.7" rx="1.30" ry="1.60" fill="#000000"/>
<ellipse cx="445.6" cy="327.7" rx="1.10" ry="0.96" fill="#141414"/>
<ellipse cx="449.8" cy="326.7" rx="0.90" ry="1.09" fill="#141414"/>
<ellipse cx="465.6" cy="334.1" rx="0.90" ry="1.08" fill="#141414"/>
<ellipse cx="474.6" cy="322.7" rx="1.50" ry="1.84" fill="#141414"/>
<ellipse cx="441.7" cy="325.7" rx="0.90" ry="1.14" fill="#000000"/>
<ellipse cx="417.5" cy="334.4" rx="1.30" ry="1.49" fill="#000000"/>
<ellipse cx="435.7" cy="321.9" rx="1.30" ry="1.49" fill="#141414"/>
<ellipse cx="432.5" cy="332.1" rx="0.90" ry="0.95" fill="#141414"/>
<ellipse cx="515.7" cy="337.4" rx="2.30" ry="2.40" fill="#141414"/>
<ellipse cx="496.2" cy="335.3" rx="1.30" ry="1.63" fill="#000000"/>
<ellipse cx="486.1" cy="320.0" rx="0.90" ry="0.89" fill="#000000"/>
<ellipse cx="488.1" cy="339.6" rx="1.80" ry="1.61" fill="#000000"/>
<ellipse cx="512.8" cy="327.6" rx="0.90" ry="1.10" fill="#000000"/>
<ellipse cx="493.3" cy="347.3" rx="2.30" ry="2.60" fill="#000000"/>
<ellipse cx="537.5" cy="354.1" rx="1.30" ry="1.65" fill="#292929"/>
<ellipse cx="482.4" cy="332.8" rx="1.10" ry="1.35" fill="#292929"/>
<ellipse cx="523.9" cy="327.1" rx="1.80" ry="2.20" fill="#000000"/>
<ellipse cx="481.0" cy="337.2" rx="0.90" ry="1.17" fill="#292929"/>
<ellipse cx="502.4" cy="327.8" rx="1.80" ry="2.26" fill="#141414"/>
<ellipse cx="537.7" cy="343.2" rx="1.30" ry="1.65" fill="#000000"/>
<ellipse cx="504.2" cy="339.4" rx="1.80" ry="2.22" fill="#000000"/>
<ellipse cx="492.4" cy="331.3" rx="0.90" ry="0.93" fill="#141414"/>
<ellipse cx="510.4" cy="333.3" rx="1.50" ry="1.95" fill="#141414"/>
<ellipse cx="522.3" cy="335.6" rx="1.10" ry="0.94" fill="#000000"/>
<ellipse cx="525.3" cy="340.2" rx="1.50" ry="1.72" fill="#000000"/>
<ellipse cx="533.3" cy="347.5" rx="1.50" ry="1.74" fill="#000000"/>
<ellipse cx="492.6" cy="323.4" rx="2.30" ry="2.12" fill="#292929"/>
<ellipse cx="530.3" cy="340.7" rx="1.10" ry="1.23" fill="#292929"/>
<ellipse cx="523.7" cy="346.8" rx="1.80" ry="1.92" fill="#000000"/>
<ellipse cx="539.5" cy="347.9" rx="0.90" ry="1.12" fill="#000000"/>
<ellipse cx="535.2" cy="332.6" rx="1.80" ry="1.80" fill="#141414"/>
<ellipse cx="527.1" cy="336.6" rx="1.10" ry="1.11" fill="#292929"/>
<ellipse cx="486.7" cy="334.0" rx="1.50" ry="1.42" fill="#141414"/>
<ellipse cx="542.5" cy="335.6" rx="1.50" ry="1.78" fill="#292929"/>
<ellipse cx="532.1" cy="355.3" rx="1.10" ry="1.21" fill="#000000"/>
<ellipse cx="526.9" cy="330.9" rx="1.10" ry="1.24" fill="#000000"/>
<ellipse cx="542.4" cy="341.7" rx="0.90" ry="0.97" fill="#292929"/>
<ellipse cx="517.1" cy="328.9" rx="0.90" ry="0.94" fill="#000000"/>
<ellipse cx="478.9" cy="326.5" rx="0.90" ry="1.15" fill="#000000"/>
<ellipse cx="485.6" cy="328.3" rx="1.30" ry="1.52" fill="#141414"/>
<ellipse cx="497.6" cy="329.6" rx="1.10" ry="1.23" fill="#141414"/>
<ellipse cx="522.0" cy="321.2" rx="1.30" ry="1.62" fill="#000000"/>
<ellipse cx="527.9" cy="343.3" rx="0.90" ry="0.82" fill="#000000"/>
<ellipse cx="510.7" cy="337.9" rx="0.90" ry="0.79" fill="#292929"/>
<ellipse cx="480.6" cy="323.2" rx="1.10" ry="0.99" fill="#141414"/>
<ellipse cx="492.7" cy="338.1" rx="1.50" ry="1.77" fill="#000000"/>
<ellipse cx="532.1" cy="329.2" rx="1.30" ry="1.33" fill="#000000"/>
<ellipse cx="529.0" cy="346.6" rx="0.90" ry="1.04" fill="#000000"/>
<ellipse cx="499.9" cy="338.4" rx="1.30" ry="1.35" fill="#141414"/>
<ellipse cx="537.1" cy="338.8" rx="1.80" ry="1.57" fill="#000000"/>
<ellipse cx="505.5" cy="332.5" rx="1.50" ry="1.69" fill="#000000"/>
<ellipse cx="488.6" cy="347.8" rx="0.90" ry="0.83" fill="#000000"/>
<ellipse cx="540.4" cy="331.2" rx="1.80" ry="2.30" fill="#141414"/>
<ellipse cx="530.7" cy="334.0" rx="1.10" ry="1.25" fill="#292929"/>
<ellipse cx="527.0" cy="354.2" rx="1.10" ry="1.12" fill="#141414"/>
<ellipse cx="485.0" cy="324.6" rx="1.10" ry="1.03" fill="#000000"/>
<ellipse cx="507.1" cy="327.9" rx="1.10" ry="1.13" fill="#000000"/>
<ellipse cx="519.4" cy="333.9" rx="0.90" ry="0.81" fill="#141414"/>
<ellipse cx="498.1" cy="342.9" rx="0.90" ry="0.96" fill="#141414"/>
<ellipse cx="477.7" cy="334.9" rx="0.90" ry="0.98" fill="#000000"/>
<ellipse cx="471.1" cy="333.4" rx="1.10" ry="1.02" fill="#141414"/>
<ellipse cx="526.7" cy="321.0" rx="1.80" ry="2.19" fill="#000000"/>
<ellipse cx="483.1" cy="339.8" rx="0.90" ry="0.88" fill="#292929"/>
<ellipse cx="541.2" cy="344.8" rx="0.90" ry="1.07" fill="#141414"/>
<ellipse cx="500.2" cy="333.9" rx="0.90" ry="1.10" fill="#141414"/>
<ellipse cx="519.3" cy="342.1" rx="1.30" ry="1.45" fill="#000000"/>
<ellipse cx="530.2" cy="350.9" rx="1.50" ry="1.55" fill="#000000"/>
<ellipse cx="488.1" cy="343.9" rx="0.90" ry="1.02" fill="#000000"/>
<path d="M324.5 330.4 L326.9 330.6 L330.0 330.0 L332.6 330.1 L334.5 330.0 L338.0 330.6 L341.4 329.6 L343.8 330.1 L347.3 330.5 L349.6 330.5 L352.5 331.0 L355.6 331.9 L358.6 331.6 L360.9 332.3 L364.5 332.7 L367.7 331.4 L371.2 329.7 L373.6 328.9 L377.0 328.0 L379.4 327.8 L382.7 327.6 L385.4 327.0 L388.4 327.4 L391.2 327.2 L395.3 327.4 L397.6 327.8 L401.2 327.1 L404.5 327.3 L407.3 326.7" fill="none" stroke="#757575" stroke-width="1.05" stroke-linecap="round" stroke-linejoin="round"/>
<path d="M388.7 327.5 L403.6 327.5" fill="none" stroke="#a8a8a8" stroke-width="2.20" stroke-linecap="round" stroke-linejoin="round"/>
<path d="M399.9 327.5 L402.9 327.5" fill="none" stroke="#d9d9d9" stroke-width="1.80" stroke-linecap="round" stroke-linejoin="round"/>
<path d="M394.5 327.5 L398.6 328.0 L402.0 327.1 L404.9 327.5 L407.7 328.8 L410.1 329.4 L412.7 328.6 L415.2 327.9 L417.6 326.9 L420.5 326.8 L423.4 326.7 L425.4 328.0 L428.4 328.3 L430.0 329.2 L432.5 328.4 L435.1 327.2 L437.3 326.9 L440.3 327.5 L444.0 327.8 L446.7 328.0 L450.5 327.5 L453.6 327.1 L456.2 328.2 L458.4 328.1 L460.7 328.6 L463.2 328.0 L466.1 328.8 L469.0 327.8 L471.9 327.6 L474.4 328.2 L477.3 327.5" fill="none" stroke="#7a7a7a" stroke-width="1.75" stroke-linecap="round" stroke-linejoin="round"/>
<path d="M400.5 327.5 L403.5 327.6" fill="none" stroke="#d1d1d1" stroke-width="2.00" stroke-linecap="round" stroke-linejoin="round"/>
<path d="M409.4 328.7 L410.9 329.3" fill="none" stroke="#d9d9d9" stroke-width="2.20" stroke-linecap="round" stroke-linejoin="round"/>
<path d="M420.6 324.5 L420.9 327.5" fill="none" stroke="#d1d1d1" stroke-width="2.00" stroke-linecap="round" stroke-linejoin="round"/>
<path d="M436.6 326.4 L439.0 327.3" fill="none" stroke="#d9d9d9" stroke-width="2.40" stroke-linecap="round" stroke-linejoin="round"/>
<path d="M446.7 327.9 L450.1 327.1 L453.5 327.2" fill="none" stroke="#b2b2b2" stroke-width="5.29" stroke-linecap="round" stroke-linejoin="round"/>
<path d="M446.7 327.9 L449.9 327.4 L453.5 327.2" fill="none" stroke="#d6d6d6" stroke-width="3.89" stroke-linecap="round" stroke-linejoin="round"/>
<ellipse cx="452.7" cy="322.5" rx="1.49" ry="2.09" fill="#adadad"/>
<path d="M462.5 328.2 L465.7 328.5 L467.6 328.2 L471.3 328.8 L473.2 328.9 L476.3 328.7 L479.4 328.5 L482.0 328.8 L485.5 329.6 L488.8 329.1 L491.2 329.6 L494.0 329.5 L497.1 330.2 L499.9 330.5 L502.7 331.2 L505.2 331.4 L508.1 332.3 L510.4 332.6 L512.2 333.8 L514.7 335.3 L517.3 337.0 L519.7 338.0 L522.2 339.5 L525.5 340.1 L527.9 339.7 L530.7 338.6 L533.3 336.9 L537.1 336.7 L540.1 336.8 L543.1 336.4" fill="none" stroke="#9e9e9e" stroke-width="1.75" stroke-linecap="round" stroke-linejoin="round"/>
<path d="M481.2 328.7 L482.7 329.7" fill="none" stroke="#d9d9d9" stroke-width="2.20" stroke-linecap="round" stroke-linejoin="round"/>
<path d="M491.6 328.2 L492.1 331.5" fill="none" stroke="#d9d9d9" stroke-width="2.20" stroke-linecap="round" stroke-linejoin="round"/>
<path d="M498.6 329.4 L501.3 330.3" fill="none" stroke="#b2b2b2" stroke-width="4.78" stroke-linecap="round" stroke-linejoin="round"/>
<path d="M498.6 329.4 L501.3 330.3" fill="none" stroke="#d6d6d6" stroke-width="3.38" stroke-linecap="round" stroke-linejoin="round"/>
<path d="M508.2 332.4 L510.7 332.6 L514.0 333.3" fill="none" stroke="#b2b2b2" stroke-width="5.63" stroke-linecap="round" stroke-linejoin="round"/>
<path d="M508.2 332.4 L511.1 333.0 L514.0 333.3" fill="none" stroke="#d6d6d6" stroke-width="4.23" stroke-linecap="round" stroke-linejoin="round"/>
<path d="M521.9 340.1 L525.6 341.2 L528.5 339.0" fill="none" stroke="#b2b2b2" stroke-width="4.61" stroke-linecap="round" stroke-linejoin="round"/>
<path d="M521.9 340.1 L526.3 340.6 L528.5 339.0" fill="none" stroke="#d6d6d6" stroke-width="3.21" stroke-linecap="round" stroke-linejoin="round"/>
<path d="M532.4 337.5 L535.3 336.9" fill="none" stroke="#b2b2b2" stroke-width="5.80" stroke-linecap="round" stroke-linejoin="round"/>
<path d="M532.4 337.5 L535.3 336.9" fill="none" stroke="#d6d6d6" stroke-width="4.40" stroke-linecap="round" stroke-linejoin="round"/>
<path d="M446.7 327.9 L449.8 327.8 L453.5 327.2" fill="none" stroke="#ffffff" stroke-width="2.89" stroke-linecap="round" stroke-linejoin="round"/>
<path d="M498.6 329.4 L501.3 330.3" fill="none" stroke="#ffffff" stroke-width="2.38" stroke-linecap="round" stroke-linejoin="round"/>
<path d="M508.2 332.4 L511.5 332.6 L514.0 333.3" fill="none" stroke="#ffffff" stroke-width="3.23" stroke-linecap="round" stroke-linejoin="round"/>
<path d="M509.5 332.7 L513.0 333.3" fill="none" stroke="#ffffff" stroke-width="1.60" stroke-linecap="round" stroke-linejoin="round"/>
<path d="M521.9 340.1 L525.8 340.7 L528.5 339.0" fill="none" stroke="#ffffff" stroke-width="2.21" stroke-linecap="round" stroke-linejoin="round"/>
<path d="M532.4 337.5 L535.3 336.9" fill="none" stroke="#ffffff" stroke-width="3.40" stroke-linecap="round" stroke-linejoin="round"/>
</g>
</svg>
<rect x="326" y="247.3" width="215.50" height="162.60" fill="none" stroke="#00006a" stroke-width="0.8" stroke-opacity="0.75"/>
<line x1="326" y1="247.60000000000002" x2="541.5" y2="247.60000000000002" stroke="#000058" stroke-width="1.1" stroke-opacity="0.85"/>
<line x1="326" y1="409.9" x2="541.5" y2="409.9" stroke="#000040" stroke-width="1"/>
<line x1="347.6" y1="409.9" x2="347.6" y2="407.9" stroke="#000050" stroke-width="0.7"/>
<line x1="347.6" y1="247.3" x2="347.6" y2="249.3" stroke="#000050" stroke-width="0.7" stroke-opacity="0.7"/>
<line x1="369.1" y1="409.9" x2="369.1" y2="407.9" stroke="#000050" stroke-width="0.7"/>
<line x1="369.1" y1="247.3" x2="369.1" y2="249.3" stroke="#000050" stroke-width="0.7" stroke-opacity="0.7"/>
<line x1="390.6" y1="409.9" x2="390.6" y2="407.9" stroke="#000050" stroke-width="0.7"/>
<line x1="390.6" y1="247.3" x2="390.6" y2="249.3" stroke="#000050" stroke-width="0.7" stroke-opacity="0.7"/>
<line x1="412.2" y1="409.9" x2="412.2" y2="407.9" stroke="#000050" stroke-width="0.7"/>
<line x1="412.2" y1="247.3" x2="412.2" y2="249.3" stroke="#000050" stroke-width="0.7" stroke-opacity="0.7"/>
<line x1="433.8" y1="409.9" x2="433.8" y2="407.9" stroke="#000050" stroke-width="0.7"/>
<line x1="433.8" y1="247.3" x2="433.8" y2="249.3" stroke="#000050" stroke-width="0.7" stroke-opacity="0.7"/>
<line x1="455.3" y1="409.9" x2="455.3" y2="407.9" stroke="#000050" stroke-width="0.7"/>
<line x1="455.3" y1="247.3" x2="455.3" y2="249.3" stroke="#000050" stroke-width="0.7" stroke-opacity="0.7"/>
<line x1="476.9" y1="409.9" x2="476.9" y2="407.9" stroke="#000050" stroke-width="0.7"/>
<line x1="476.9" y1="247.3" x2="476.9" y2="249.3" stroke="#000050" stroke-width="0.7" stroke-opacity="0.7"/>
<line x1="498.4" y1="409.9" x2="498.4" y2="407.9" stroke="#000050" stroke-width="0.7"/>
<line x1="498.4" y1="247.3" x2="498.4" y2="249.3" stroke="#000050" stroke-width="0.7" stroke-opacity="0.7"/>
<line x1="520.0" y1="409.9" x2="520.0" y2="407.9" stroke="#000050" stroke-width="0.7"/>
<line x1="520.0" y1="247.3" x2="520.0" y2="249.3" stroke="#000050" stroke-width="0.7" stroke-opacity="0.7"/>
<text x="319.7" y="264.8" font-size="11" text-anchor="end" font-family="Liberation Sans, Arial, sans-serif" stroke="#000" stroke-width="0.3" >350</text>
<text x="319.7" y="280.6" font-size="11" text-anchor="end" font-family="Liberation Sans, Arial, sans-serif" stroke="#000" stroke-width="0.3" >300</text>
<text x="319.7" y="296.9" font-size="11" text-anchor="end" font-family="Liberation Sans, Arial, sans-serif" stroke="#000" stroke-width="0.3" >250</text>
<text x="319.7" y="312.0" font-size="11" text-anchor="end" font-family="Liberation Sans, Arial, sans-serif" stroke="#000" stroke-width="0.3" >200</text>
<text x="319.7" y="327.6" font-size="11" text-anchor="end" font-family="Liberation Sans, Arial, sans-serif" stroke="#000" stroke-width="0.3" >150</text>
<text x="319.7" y="345.7" font-size="11" text-anchor="end" font-family="Liberation Sans, Arial, sans-serif" stroke="#000" stroke-width="0.3" >100</text>
<text x="319.7" y="361.2" font-size="11" text-anchor="end" font-family="Liberation Sans, Arial, sans-serif" stroke="#000" stroke-width="0.3" >50</text>
<text x="319.7" y="379.3" font-size="11" text-anchor="end" font-family="Liberation Sans, Arial, sans-serif" stroke="#000" stroke-width="0.3" >0</text>
<text x="319.7" y="394.4" font-size="11" text-anchor="end" font-family="Liberation Sans, Arial, sans-serif" stroke="#000" stroke-width="0.3" >-50</text>
<text x="319.7" y="410.2" font-size="11" text-anchor="end" font-family="Liberation Sans, Arial, sans-serif" stroke="#000" stroke-width="0.3" >-100</text>
<text x="327.2" y="422.7" font-size="11" text-anchor="middle" font-family="Liberation Sans, Arial, sans-serif" stroke="#000" stroke-width="0.3" >0</text>
<text x="348.7" y="421.3" font-size="11" text-anchor="middle" font-family="Liberation Sans, Arial, sans-serif" stroke="#000" stroke-width="0.3" >0.2</text>
<text x="369.6" y="421.3" font-size="11" text-anchor="middle" font-family="Liberation Sans, Arial, sans-serif" stroke="#000" stroke-width="0.3" >0.4</text>
<text x="390.9" y="421.3" font-size="11" text-anchor="middle" font-family="Liberation Sans, Arial, sans-serif" stroke="#000" stroke-width="0.3" >0.6</text>
<text x="411.9" y="421.3" font-size="11" text-anchor="middle" font-family="Liberation Sans, Arial, sans-serif" stroke="#000" stroke-width="0.3" >0.8</text>
<text x="432.8" y="421.3" font-size="11" text-anchor="middle" font-family="Liberation Sans, Arial, sans-serif" stroke="#000" stroke-width="0.3" >1</text>
<text x="454.9" y="421.3" font-size="11" text-anchor="middle" font-family="Liberation Sans, Arial, sans-serif" stroke="#000" stroke-width="0.3" >1.2</text>
<text x="475.8" y="421.3" font-size="11" text-anchor="middle" font-family="Liberation Sans, Arial, sans-serif" stroke="#000" stroke-width="0.3" >1.4</text>
<text x="497.2" y="421.3" font-size="11" text-anchor="middle" font-family="Liberation Sans, Arial, sans-serif" stroke="#000" stroke-width="0.3" >1.6</text>
<text x="518.1" y="421.3" font-size="11" text-anchor="middle" font-family="Liberation Sans, Arial, sans-serif" stroke="#000" stroke-width="0.3" >1.8</text>
<text x="537.1" y="421.3" font-size="11" text-anchor="middle" font-family="Liberation Sans, Arial, sans-serif" stroke="#000" stroke-width="0.3" >2</text>
<line x1="325.6" y1="247.3" x2="325.6" y2="413.9" stroke="#777" stroke-width="0.7" stroke-opacity="0.7"/>
<text x="435.1" y="244.6" font-size="10.3" text-anchor="middle" font-family="Liberation Sans, Arial, sans-serif" stroke="#000" stroke-width="0.3" textLength="67.8" lengthAdjust="spacingAndGlyphs">micro-Doppler</text>
<text x="444.4" y="440.9" font-size="12.3" text-anchor="middle" font-family="Liberation Sans, Arial, sans-serif" stroke="#000" stroke-width="0.3" textLength="59" lengthAdjust="spacingAndGlyphs">Time (sec)</text>
<text transform="translate(290.8,325.9) rotate(-90)" font-size="12.5" text-anchor="middle" font-family="Liberation Sans, Arial, sans-serif" stroke="#000" stroke-width="0.3" textLength="85.5" lengthAdjust="spacingAndGlyphs">Frequency (Hz)</text>
<text x="278.0" y="245.6" font-size="15.5" font-weight="bold" font-family="Liberation Serif, Times New Roman, serif">(d)</text>
<svg x="45.5" y="471.3" width="216.00" height="163.50" viewBox="45.5 471.3 216.00 163.50" overflow="hidden">
<g filter="url(#jet)">
<rect x="40.5" y="466.3" width="226.00" height="173.50" fill="#000"/>
<g filter="url(#hz)">
<rect x="248.0" y="471.3" width="3.0" height="163.5" fill="#121212"/>
<rect x="258.2" y="471.3" width="1.5" height="163.5" fill="#090909"/>
<rect x="253.4" y="471.3" width="1.2" height="163.5" fill="#070707"/>
<rect x="242.2" y="471.3" width="1.5" height="163.5" fill="#070707"/>
<rect x="222.2" y="471.3" width="1.5" height="163.5" fill="#050505"/>
</g>
<polygon points="44.4,557.8 47.5,556.8 51.4,556.0 54.4,556.6 58.7,558.6 61.6,558.3 64.2,558.5 68.1,559.3 71.2,560.3 74.3,560.3 76.7,561.9 77.2,566.6 73.1,565.0 70.4,565.0 67.0,568.7 64.3,568.5 61.9,568.6 57.5,565.1 53.0,565.3 49.4,566.6 44.6,564.7 44.9,560.6" fill="#666666" stroke="#666666" stroke-width="0.8" stroke-linejoin="round"/>
<path d="M44.3 562.4 L47.3 562.7 L51.6 562.3 L54.9 561.7 L58.3 563.1 L60.2 563.0 L64.0 562.0 L66.0 561.9 L69.1 562.8 L72.0 563.1 L74.9 563.4" fill="none" stroke="#4c4c4c" stroke-width="6.82" stroke-linecap="round" stroke-linejoin="round"/>
<path d="M63.7 570.6 L68.9 573.6" fill="none" stroke="#4c4c4c" stroke-width="2.20" stroke-linecap="round" stroke-linejoin="round"/>
<polygon points="74.0,561.5 75.0,556.9 74.2,553.0 75.3,549.0 76.3,547.0 76.7,544.2 76.8,541.2 77.4,537.8 78.8,533.9 78.5,530.6 81.9,527.3 84.0,528.9 84.4,534.1 82.3,538.3 81.1,540.4 79.6,543.8 79.5,546.4 78.6,550.4 78.6,553.2 77.7,556.6 77.5,560.8" fill="#525252" stroke="#525252" stroke-width="0.8" stroke-linejoin="round"/>
<path d="M84.1 534.8 L85.0 546.7 L84.1 555.7" fill="none" stroke="#333333" stroke-width="1.30" stroke-linecap="round" stroke-linejoin="round"/>
<polygon points="83.1,560.3 85.2,555.8 87.2,553.0 87.7,550.3 90.3,547.4 89.6,543.2 90.9,538.2 93.7,541.7 96.6,542.3 99.3,544.7 100.3,547.3 101.2,552.1 97.3,556.1 97.2,558.1 95.5,562.1 94.0,567.2 91.9,567.7 88.5,567.9 85.8,565.6 82.1,565.0" fill="#737373" stroke="#737373" stroke-width="0.8" stroke-linejoin="round"/>
<ellipse cx="87.1" cy="581.3" rx="1.34" ry="3.28" fill="#6b6b6b"/>
<path d="M77.8 564.6 L78.6 579.6" fill="none" stroke="#1f1f1f" stroke-width="1.30" stroke-linecap="round" stroke-linejoin="round"/>
<path d="M89.8 567.6 L89.0 579.6" fill="none" stroke="#1a1a1a" stroke-width="1.30" stroke-linecap="round" stroke-linejoin="round"/>
<path d="M76.8 497.5 L77.5 503.4" fill="none" stroke="#1a1a1a" stroke-width="1.40" stroke-linecap="round" stroke-linejoin="round"/>
<ellipse cx="80.8" cy="521.6" rx="1.19" ry="1.49" fill="#1a1a1a"/>
<polygon points="102.4,556.0 106.9,553.0 109.3,553.7 112.8,553.6 116.0,550.9 120.1,550.3 122.6,549.4 127.0,551.5 127.0,557.4 123.5,557.2 119.9,557.3 114.9,560.1 112.2,561.2 109.4,560.3 105.1,560.5" fill="#6b6b6b" stroke="#6b6b6b" stroke-width="0.8" stroke-linejoin="round"/>
<path d="M120.4 563.1 L126.3 566.9" fill="none" stroke="#6b6b6b" stroke-width="3.00" stroke-linecap="round" stroke-linejoin="round"/>
<polygon points="115.5,551.1 119.1,550.1 122.7,549.1 125.3,548.1 128.8,546.1 130.3,543.4 132.5,540.7 135.1,537.5 135.3,534.1 135.9,530.2 135.8,525.5 137.1,521.8 138.3,519.0 138.7,514.1 140.8,518.5 140.0,521.6 139.4,525.6 139.7,528.2 140.4,531.7 142.1,535.3 144.4,539.6 148.5,535.9 151.5,533.9 154.8,532.2 156.5,534.5 154.2,537.3 151.2,539.5 150.1,543.9 153.8,544.3 158.4,546.0 158.6,549.7 157.8,553.1 158.0,556.0 154.9,556.8 152.1,557.2 152.1,561.3 151.2,565.2 151.4,567.3 152.8,570.7 152.7,574.3 151.7,577.7 149.3,581.5 146.6,583.0 144.5,585.7 140.7,581.2 140.4,577.6 139.7,574.1 138.1,570.6 136.0,567.8 132.4,564.2 129.4,561.8 126.5,559.7 124.4,557.5 120.2,557.2 115.1,557.3 115.1,553.8" fill="#6b6b6b" stroke="#6b6b6b" stroke-width="0.8" stroke-linejoin="round"/>
<ellipse cx="123.2" cy="565.4" rx="1.94" ry="1.94" fill="#575757"/>
<path d="M125.4 530.3 L124.3 534.8 L126.2 539.3 L128.7 537.8" fill="none" stroke="#262626" stroke-width="1.40" stroke-linecap="round" stroke-linejoin="round"/>
<polygon points="156.5,546.3 160.9,544.6 163.7,543.9 167.6,544.6 172.2,546.4 175.3,545.7 178.0,544.9 181.6,546.0 184.7,546.9 187.6,544.0 190.0,541.9 193.5,542.7 196.9,544.1 196.1,546.6 196.4,550.3 196.5,553.8 195.7,556.9 196.4,560.8 196.0,563.9 195.9,567.6 196.5,570.3 192.5,569.0 189.2,566.2 184.7,564.3 181.7,562.9 179.2,559.6 174.8,559.2 171.4,558.3 168.1,557.8 163.8,556.8 160.9,557.1 156.8,555.6 156.8,551.9 156.3,548.6" fill="#737373" stroke="#737373" stroke-width="0.8" stroke-linejoin="round"/>
<path d="M144.9 551.2 L146.7 550.8 L149.4 551.8 L153.0 551.7 L154.2 551.3 L158.1 551.1 L159.4 551.4 L163.6 550.7 L165.9 550.3 L169.0 550.5 L171.4 552.3 L173.6 551.9 L177.6 552.2 L180.1 554.7 L183.7 556.5 L184.5 559.3 L188.4 561.4 L189.9 561.4 L193.7 560.8 L196.3 561.6" fill="none" stroke="#4c4c4c" stroke-width="7.80" stroke-linecap="round" stroke-linejoin="round"/>
<path d="M188.1 542.2 L189.3 528.8 L191.1 519.9" fill="none" stroke="#474747" stroke-width="1.80" stroke-linecap="round" stroke-linejoin="round"/>
<path d="M191.1 519.9 L194.1 504.9" fill="none" stroke="#262626" stroke-width="1.50" stroke-linecap="round" stroke-linejoin="round"/>
<path d="M145.6 499.0 L146.3 507.9" fill="none" stroke="#1a1a1a" stroke-width="1.40" stroke-linecap="round" stroke-linejoin="round"/>
<polygon points="185.4,538.7 187.1,536.5 189.5,534.5 191.8,531.3 193.4,528.4 196.3,525.4 197.1,522.7 198.6,520.3 200.2,517.5 202.0,513.3 203.3,516.6 204.7,520.4 207.0,522.8 208.1,526.3 209.7,529.1 211.8,531.6 214.5,533.8 218.4,534.1 220.6,536.1 224.7,533.4 228.4,538.2 227.8,541.1 228.1,545.5 228.2,549.9 224.3,552.1 218.9,556.3 217.6,558.8 215.5,561.0 212.6,564.2 209.9,567.5 207.8,570.1 204.3,573.0 202.1,575.4 200.3,578.3 196.6,574.0 195.2,570.7 193.1,567.5 188.9,565.5 185.0,563.5 184.6,559.6 184.6,556.4 184.6,553.1 185.5,549.1 184.4,546.7 184.5,543.0" fill="#707070" stroke="#707070" stroke-width="0.8" stroke-linejoin="round"/>
<path d="M194.7 503.4 L195.4 510.9" fill="none" stroke="#4c4c4c" stroke-width="1.60" stroke-linecap="round" stroke-linejoin="round"/>
<polygon points="228.9,537.6 231.5,535.4 234.0,533.3 236.5,530.2 238.7,526.7 240.4,523.9 240.7,521.6 240.9,517.8 242.1,514.9 245.2,520.4 246.0,523.1 247.9,527.8 250.5,530.6 251.6,533.9 254.6,536.4 255.8,538.0 257.6,540.3 262.8,543.8 262.3,547.3 262.4,549.8 262.7,554.0 262.4,556.6 263.1,560.3 262.8,563.7 263.0,567.2 263.2,570.3 263.0,573.3 259.7,576.6 256.4,580.0 254.5,581.4 251.6,583.9 248.5,579.4 248.4,576.8 247.4,573.2 245.8,570.0 243.5,568.3 241.7,565.1 239.1,562.9 235.6,562.1 234.9,558.5 233.3,553.6 230.8,551.9 227.6,550.4 228.8,546.0 228.5,541.1" fill="#707070" stroke="#707070" stroke-width="0.8" stroke-linejoin="round"/>
<path d="M234.3 564.6 L235.7 573.6" fill="none" stroke="#4c4c4c" stroke-width="1.80" stroke-linecap="round" stroke-linejoin="round"/>
<ellipse cx="247.7" cy="508.2" rx="1.19" ry="1.49" fill="#1f1f1f"/>
<path d="M208.1 490.0 L208.6 493.7" fill="none" stroke="#1f1f1f" stroke-width="1.40" stroke-linecap="round" stroke-linejoin="round"/>
<polygon points="50.6,559.5 52.5,558.8 55.0,558.4 56.8,558.7 59.5,560.0 61.3,559.8 62.9,559.9 65.3,560.4 67.2,561.1 69.1,561.0 70.6,562.0 70.9,564.9 68.4,563.9 66.7,563.9 64.6,566.3 62.9,566.1 61.4,566.2 58.8,564.0 55.9,564.2 53.7,564.9 50.7,563.8 50.9,561.2" fill="#7d7d7d" stroke="#7d7d7d" stroke-width="0.8" stroke-linejoin="round"/>
<path d="M44.3 562.4 L48.1 561.9 L51.3 562.5 L54.7 561.9 L57.4 563.1 L61.1 562.7 L63.5 562.3 L66.7 562.7 L69.5 562.3 L72.3 562.8 L74.9 563.4" fill="none" stroke="#666666" stroke-width="4.37" stroke-linecap="round" stroke-linejoin="round"/>
<polygon points="75.7,555.1 76.3,552.2 75.8,549.8 76.5,547.3 77.1,546.1 77.4,544.3 77.4,542.5 77.8,540.3 78.7,537.9 78.5,535.9 80.6,533.9 81.9,534.8 82.1,538.1 80.9,540.7 80.1,542.0 79.2,544.1 79.1,545.7 78.6,548.2 78.6,549.9 78.0,552.0 77.9,554.6" fill="#696969" stroke="#696969" stroke-width="0.8" stroke-linejoin="round"/>
<polygon points="86.4,558.0 87.7,555.2 89.0,553.5 89.3,551.8 90.9,550.0 90.4,547.4 91.3,544.3 93.0,546.5 94.8,546.9 96.5,548.4 97.1,550.0 97.6,552.9 95.3,555.4 95.2,556.7 94.1,559.1 93.2,562.3 91.9,562.6 89.8,562.8 88.1,561.3 85.8,560.9" fill="#8a8a8a" stroke="#8a8a8a" stroke-width="0.8" stroke-linejoin="round"/>
<polygon points="107.3,555.8 110.1,553.9 111.6,554.4 113.7,554.3 115.7,552.6 118.3,552.3 119.8,551.7 122.6,553.0 122.6,556.7 120.4,556.5 118.2,556.6 115.0,558.3 113.4,559.0 111.6,558.5 109.0,558.6" fill="#828282" stroke="#828282" stroke-width="0.8" stroke-linejoin="round"/>
<polygon points="125.1,550.5 127.4,549.9 129.6,549.3 131.2,548.7 133.4,547.5 134.3,545.8 135.7,544.1 137.3,542.1 137.4,540.0 137.8,537.6 137.7,534.7 138.5,532.4 139.3,530.6 139.5,527.6 140.8,530.3 140.3,532.3 139.9,534.7 140.2,536.4 140.6,538.5 141.6,540.7 143.1,543.4 145.6,541.1 147.5,539.9 149.5,538.8 150.6,540.2 149.1,542.0 147.3,543.3 146.6,546.1 148.9,546.3 151.7,547.4 151.9,549.7 151.4,551.8 151.5,553.6 149.6,554.1 147.8,554.3 147.8,556.9 147.3,559.3 147.4,560.6 148.2,562.7 148.2,564.9 147.6,567.1 146.1,569.4 144.4,570.3 143.1,572.0 140.8,569.2 140.6,567.0 140.2,564.8 139.1,562.6 137.8,560.9 135.6,558.7 133.7,557.2 131.9,555.9 130.6,554.5 128.0,554.3 124.9,554.4 124.9,552.2" fill="#828282" stroke="#828282" stroke-width="0.8" stroke-linejoin="round"/>
<polygon points="165.3,549.0 168.1,548.0 169.8,547.5 172.3,548.0 175.1,549.1 177.0,548.7 178.7,548.2 180.9,548.9 182.9,549.4 184.6,547.6 186.1,546.3 188.3,546.8 190.4,547.7 189.9,549.2 190.1,551.5 190.2,553.7 189.7,555.6 190.1,558.0 189.8,560.0 189.8,562.2 190.2,563.9 187.7,563.1 185.6,561.4 182.8,560.2 181.0,559.3 179.4,557.3 176.7,557.0 174.6,556.5 172.6,556.2 169.9,555.5 168.1,555.7 165.5,554.8 165.5,552.5 165.3,550.5" fill="#8a8a8a" stroke="#8a8a8a" stroke-width="0.8" stroke-linejoin="round"/>
<path d="M144.9 551.2 L147.7 551.1 L149.6 550.6 L152.2 550.3 L154.9 551.0 L157.1 550.7 L160.8 550.5 L162.2 550.8 L166.0 550.3 L168.8 551.7 L171.5 552.2 L174.3 552.2 L176.8 553.6 L181.2 554.0 L183.0 557.5 L184.7 559.9 L187.5 561.0 L190.5 560.3 L194.1 561.6 L196.3 561.6" fill="none" stroke="#666666" stroke-width="4.99" stroke-linecap="round" stroke-linejoin="round"/>
<polygon points="192.3,541.2 193.3,539.8 194.8,538.5 196.2,536.6 197.2,534.8 199.1,532.9 199.5,531.2 200.5,529.7 201.4,528.0 202.6,525.4 203.3,527.5 204.3,529.8 205.6,531.3 206.4,533.5 207.4,535.2 208.7,536.8 210.3,538.2 212.7,538.3 214.1,539.6 216.7,537.9 218.9,540.8 218.5,542.7 218.7,545.4 218.8,548.1 216.4,549.5 213.1,552.1 212.2,553.7 210.9,555.0 209.2,557.0 207.5,559.0 206.2,560.7 204.0,562.4 202.6,563.9 201.5,565.7 199.2,563.0 198.4,561.0 197.0,559.0 194.4,557.8 192.0,556.5 191.8,554.1 191.8,552.1 191.8,550.1 192.4,547.6 191.6,546.2 191.7,543.8" fill="#878787" stroke="#878787" stroke-width="0.8" stroke-linejoin="round"/>
<polygon points="235.9,542.4 237.5,541.0 239.1,539.8 240.6,537.8 242.0,535.7 243.0,533.9 243.2,532.5 243.3,530.1 244.1,528.3 246.0,531.7 246.5,533.4 247.6,536.3 249.3,538.0 249.9,540.1 251.8,541.7 252.5,542.6 253.7,544.0 256.9,546.3 256.6,548.4 256.7,549.9 256.8,552.6 256.7,554.1 257.1,556.5 256.9,558.6 257.0,560.8 257.2,562.7 257.0,564.5 255.0,566.6 252.9,568.7 251.7,569.6 249.9,571.1 248.0,568.3 247.9,566.7 247.4,564.4 246.3,562.5 244.9,561.4 243.8,559.4 242.2,558.1 240.0,557.6 239.6,555.3 238.6,552.3 237.0,551.3 235.1,550.3 235.8,547.6 235.6,544.6" fill="#878787" stroke="#878787" stroke-width="0.8" stroke-linejoin="round"/>
<ellipse cx="139.6" cy="547.5" rx="2.1" ry="2.7" fill="#000000"/>
<ellipse cx="142.6" cy="567.9" rx="2.4" ry="2.7" fill="#000000"/>
<ellipse cx="137.4" cy="560.1" rx="1.6" ry="1.6" fill="#000000"/>
<ellipse cx="144.1" cy="579.6" rx="1.3" ry="1.6" fill="#000000"/>
<ellipse cx="191.3" cy="539.0" rx="3.0" ry="7.2" fill="#000000"/>
<ellipse cx="207.4" cy="533.3" rx="2.1" ry="2.1" fill="#000000"/>
<circle cx="48.1" cy="559.3" r="1.14" fill="#898989"/>
<circle cx="59.3" cy="565.8" r="1.12" fill="#828282"/>
<circle cx="52.9" cy="557.1" r="1.24" fill="#878787"/>
<circle cx="52.0" cy="559.5" r="1.33" fill="#8b8b8b"/>
<circle cx="82.9" cy="535.2" r="0.97" fill="#919191"/>
<circle cx="93.5" cy="566.0" r="1.05" fill="#858585"/>
<circle cx="94.0" cy="566.0" r="1.06" fill="#949494"/>
<circle cx="88.4" cy="552.8" r="1.22" fill="#909090"/>
<circle cx="97.5" cy="549.8" r="1.48" fill="#8b8b8b"/>
<circle cx="99.2" cy="547.6" r="1.09" fill="#9d9d9d"/>
<circle cx="124.5" cy="550.5" r="1.26" fill="#878787"/>
<circle cx="109.3" cy="560.3" r="1.18" fill="#818181"/>
<circle cx="108.0" cy="553.7" r="1.24" fill="#838383"/>
<circle cx="109.8" cy="556.3" r="1.13" fill="#9d9d9d"/>
<circle cx="132.5" cy="563.6" r="1.26" fill="#989898"/>
<circle cx="140.6" cy="559.1" r="1.10" fill="#888888"/>
<circle cx="147.0" cy="554.1" r="1.23" fill="#818181"/>
<circle cx="133.6" cy="553.5" r="1.09" fill="#8f8f8f"/>
<circle cx="131.9" cy="557.2" r="1.01" fill="#868686"/>
<circle cx="142.2" cy="578.6" r="0.96" fill="#9a9a9a"/>
<circle cx="145.4" cy="556.6" r="1.09" fill="#888888"/>
<circle cx="148.2" cy="560.7" r="1.44" fill="#9a9a9a"/>
<circle cx="146.1" cy="539.4" r="1.30" fill="#828282"/>
<circle cx="153.5" cy="533.0" r="1.12" fill="#8a8a8a"/>
<circle cx="141.9" cy="540.2" r="1.37" fill="#848484"/>
<circle cx="146.9" cy="555.3" r="1.50" fill="#8e8e8e"/>
<circle cx="133.5" cy="549.0" r="1.48" fill="#979797"/>
<circle cx="145.5" cy="562.1" r="1.00" fill="#9c9c9c"/>
<circle cx="154.4" cy="553.0" r="1.14" fill="#989898"/>
<circle cx="147.7" cy="559.6" r="1.35" fill="#868686"/>
<circle cx="144.0" cy="577.8" r="1.36" fill="#949494"/>
<circle cx="131.5" cy="562.9" r="1.50" fill="#8b8b8b"/>
<circle cx="123.8" cy="556.7" r="1.31" fill="#989898"/>
<circle cx="136.5" cy="557.4" r="0.99" fill="#8a8a8a"/>
<circle cx="150.2" cy="541.4" r="1.38" fill="#959595"/>
<circle cx="151.9" cy="534.9" r="0.96" fill="#909090"/>
<circle cx="148.2" cy="538.7" r="1.20" fill="#9d9d9d"/>
<circle cx="145.2" cy="578.5" r="1.21" fill="#9b9b9b"/>
<circle cx="137.5" cy="562.3" r="1.16" fill="#898989"/>
<circle cx="144.8" cy="552.0" r="1.25" fill="#989898"/>
<circle cx="140.8" cy="548.7" r="1.18" fill="#919191"/>
<circle cx="145.6" cy="542.5" r="1.36" fill="#858585"/>
<circle cx="142.2" cy="562.9" r="1.31" fill="#949494"/>
<circle cx="144.3" cy="574.3" r="1.16" fill="#838383"/>
<circle cx="133.1" cy="557.3" r="1.07" fill="#989898"/>
<circle cx="145.0" cy="570.9" r="1.38" fill="#969696"/>
<circle cx="125.5" cy="554.7" r="1.28" fill="#989898"/>
<circle cx="137.4" cy="537.2" r="1.10" fill="#9a9a9a"/>
<circle cx="145.0" cy="567.9" r="1.28" fill="#828282"/>
<circle cx="150.1" cy="572.8" r="0.98" fill="#808080"/>
<circle cx="163.5" cy="554.6" r="1.22" fill="#979797"/>
<circle cx="190.9" cy="567.1" r="1.40" fill="#9c9c9c"/>
<circle cx="186.9" cy="555.6" r="1.38" fill="#8e8e8e"/>
<circle cx="162.5" cy="545.3" r="1.02" fill="#8e8e8e"/>
<circle cx="185.0" cy="548.1" r="1.36" fill="#848484"/>
<circle cx="193.4" cy="543.7" r="1.46" fill="#9a9a9a"/>
<circle cx="181.8" cy="556.8" r="1.45" fill="#9d9d9d"/>
<circle cx="171.0" cy="554.1" r="0.97" fill="#888888"/>
<circle cx="188.6" cy="559.4" r="1.34" fill="#8c8c8c"/>
<circle cx="168.1" cy="552.8" r="1.37" fill="#8e8e8e"/>
<circle cx="193.8" cy="562.5" r="1.34" fill="#8b8b8b"/>
<circle cx="165.7" cy="549.9" r="1.23" fill="#8a8a8a"/>
<circle cx="147.7" cy="553.3" r="1.06" fill="#828282"/>
<circle cx="187.2" cy="562.1" r="1.19" fill="#9c9c9c"/>
<circle cx="194.4" cy="562.6" r="1.19" fill="#828282"/>
<circle cx="202.7" cy="524.6" r="1.22" fill="#8e8e8e"/>
<circle cx="201.9" cy="532.8" r="1.38" fill="#8c8c8c"/>
<circle cx="215.5" cy="549.1" r="1.45" fill="#848484"/>
<circle cx="200.0" cy="572.8" r="1.45" fill="#828282"/>
<circle cx="188.0" cy="550.9" r="1.19" fill="#999999"/>
<circle cx="204.1" cy="525.7" r="1.29" fill="#9e9e9e"/>
<circle cx="191.7" cy="532.2" r="0.98" fill="#8d8d8d"/>
<circle cx="209.3" cy="537.6" r="0.97" fill="#9d9d9d"/>
<circle cx="205.1" cy="543.6" r="1.45" fill="#8c8c8c"/>
<circle cx="193.9" cy="539.1" r="1.24" fill="#878787"/>
<circle cx="195.8" cy="533.6" r="1.43" fill="#848484"/>
<circle cx="196.8" cy="523.9" r="0.96" fill="#919191"/>
<circle cx="201.9" cy="531.6" r="1.12" fill="#949494"/>
<circle cx="197.5" cy="531.5" r="1.41" fill="#878787"/>
<circle cx="209.0" cy="528.0" r="1.11" fill="#919191"/>
<circle cx="216.2" cy="541.6" r="1.48" fill="#9a9a9a"/>
<circle cx="212.8" cy="546.1" r="0.92" fill="#939393"/>
<circle cx="188.6" cy="537.5" r="1.06" fill="#959595"/>
<circle cx="219.6" cy="545.0" r="1.37" fill="#949494"/>
<circle cx="193.7" cy="539.2" r="1.27" fill="#848484"/>
<circle cx="212.6" cy="534.2" r="1.00" fill="#939393"/>
<circle cx="198.2" cy="554.1" r="1.49" fill="#8b8b8b"/>
<circle cx="188.9" cy="558.2" r="1.32" fill="#9b9b9b"/>
<circle cx="202.8" cy="558.1" r="1.46" fill="#9e9e9e"/>
<circle cx="193.2" cy="550.5" r="1.22" fill="#9b9b9b"/>
<circle cx="207.6" cy="549.4" r="1.09" fill="#888888"/>
<circle cx="210.2" cy="537.3" r="1.01" fill="#8d8d8d"/>
<circle cx="220.0" cy="544.5" r="1.40" fill="#999999"/>
<circle cx="205.1" cy="557.3" r="1.11" fill="#9c9c9c"/>
<circle cx="197.9" cy="550.0" r="1.28" fill="#858585"/>
<circle cx="217.7" cy="542.0" r="1.17" fill="#848484"/>
<circle cx="202.6" cy="561.9" r="0.91" fill="#838383"/>
<circle cx="202.8" cy="521.0" r="1.19" fill="#929292"/>
<circle cx="214.4" cy="557.7" r="1.23" fill="#878787"/>
<circle cx="209.2" cy="539.1" r="1.39" fill="#9b9b9b"/>
<circle cx="225.7" cy="536.8" r="1.04" fill="#888888"/>
<circle cx="217.9" cy="537.7" r="1.35" fill="#989898"/>
<circle cx="192.1" cy="533.2" r="1.04" fill="#9d9d9d"/>
<circle cx="195.3" cy="552.7" r="0.93" fill="#848484"/>
<circle cx="196.9" cy="562.1" r="1.16" fill="#818181"/>
<circle cx="198.8" cy="547.6" r="1.37" fill="#929292"/>
<circle cx="249.7" cy="529.9" r="1.27" fill="#949494"/>
<circle cx="246.4" cy="566.8" r="1.35" fill="#999999"/>
<circle cx="249.5" cy="551.5" r="1.36" fill="#979797"/>
<circle cx="251.8" cy="571.1" r="1.18" fill="#929292"/>
<circle cx="240.6" cy="542.5" r="1.03" fill="#838383"/>
<circle cx="255.8" cy="549.3" r="1.16" fill="#848484"/>
<circle cx="257.1" cy="560.6" r="1.06" fill="#818181"/>
<circle cx="248.9" cy="559.4" r="1.30" fill="#929292"/>
<circle cx="243.2" cy="548.6" r="0.99" fill="#8c8c8c"/>
<circle cx="244.4" cy="534.4" r="1.20" fill="#828282"/>
<circle cx="235.7" cy="537.5" r="1.00" fill="#858585"/>
<circle cx="242.9" cy="565.4" r="1.33" fill="#8f8f8f"/>
<circle cx="253.4" cy="545.4" r="1.35" fill="#919191"/>
<circle cx="234.7" cy="551.3" r="1.40" fill="#868686"/>
<circle cx="259.6" cy="557.4" r="1.39" fill="#878787"/>
<circle cx="251.1" cy="550.5" r="1.02" fill="#989898"/>
<circle cx="256.9" cy="561.7" r="1.43" fill="#858585"/>
<circle cx="255.0" cy="547.8" r="0.99" fill="#999999"/>
<circle cx="235.8" cy="533.1" r="1.13" fill="#9a9a9a"/>
<circle cx="251.2" cy="550.1" r="0.95" fill="#818181"/>
<circle cx="257.0" cy="570.1" r="1.01" fill="#909090"/>
<circle cx="237.8" cy="536.9" r="1.31" fill="#8b8b8b"/>
<circle cx="236.0" cy="538.9" r="0.91" fill="#9e9e9e"/>
<circle cx="242.0" cy="543.4" r="1.20" fill="#8c8c8c"/>
<circle cx="245.5" cy="522.6" r="1.03" fill="#939393"/>
<circle cx="248.9" cy="531.5" r="1.47" fill="#939393"/>
<circle cx="251.9" cy="551.2" r="1.30" fill="#9b9b9b"/>
<circle cx="238.3" cy="531.3" r="1.00" fill="#888888"/>
<circle cx="255.0" cy="565.6" r="1.49" fill="#838383"/>
<circle cx="258.4" cy="553.4" r="1.09" fill="#888888"/>
<circle cx="242.9" cy="537.0" r="1.47" fill="#949494"/>
<circle cx="245.3" cy="560.9" r="1.19" fill="#8c8c8c"/>
<circle cx="250.9" cy="548.9" r="1.03" fill="#8c8c8c"/>
<polygon points="44.4,557.8 47.5,556.8 51.4,556.0 54.4,556.6 58.7,558.6 61.6,558.3 64.2,558.5 68.1,559.3 71.2,560.3 74.3,560.3 76.7,561.9 77.2,566.6 73.1,565.0 70.4,565.0 67.0,568.7 64.3,568.5 61.9,568.6 57.5,565.1 53.0,565.3 49.4,566.6 44.6,564.7 44.9,560.6" fill="none" stroke="#5c5c5c" stroke-width="1.3" stroke-linejoin="round"/>
<path d="M44.3 562.4 L47.8 562.4 L52.3 562.3 L54.9 562.0 L58.2 562.1 L60.7 562.6 L63.9 562.3 L66.6 562.1 L69.8 563.0 L72.2 562.9 L74.9 563.4" fill="none" stroke="#808080" stroke-width="2.46" stroke-linecap="round" stroke-linejoin="round"/>
<polygon points="74.0,561.5 75.0,556.9 74.2,553.0 75.3,549.0 76.3,547.0 76.7,544.2 76.8,541.2 77.4,537.8 78.8,533.9 78.5,530.6 81.9,527.3 84.0,528.9 84.4,534.1 82.3,538.3 81.1,540.4 79.6,543.8 79.5,546.4 78.6,550.4 78.6,553.2 77.7,556.6 77.5,560.8" fill="none" stroke="#474747" stroke-width="1.3" stroke-linejoin="round"/>
<polygon points="83.1,560.3 85.2,555.8 87.2,553.0 87.7,550.3 90.3,547.4 89.6,543.2 90.9,538.2 93.7,541.7 96.6,542.3 99.3,544.7 100.3,547.3 101.2,552.1 97.3,556.1 97.2,558.1 95.5,562.1 94.0,567.2 91.9,567.7 88.5,567.9 85.8,565.6 82.1,565.0" fill="none" stroke="#696969" stroke-width="1.3" stroke-linejoin="round"/>
<ellipse cx="94.6" cy="549.7" rx="3.88" ry="2.99" fill="#949494"/>
<ellipse cx="87.1" cy="581.8" rx="0.60" ry="1.34" fill="#9e9e9e"/>
<polygon points="102.4,556.0 106.9,553.0 109.3,553.7 112.8,553.6 116.0,550.9 120.1,550.3 122.6,549.4 127.0,551.5 127.0,557.4 123.5,557.2 119.9,557.3 114.9,560.1 112.2,561.2 109.4,560.3 105.1,560.5" fill="none" stroke="#616161" stroke-width="1.3" stroke-linejoin="round"/>
<ellipse cx="111.0" cy="556.7" rx="2.09" ry="1.64" fill="#9e9e9e"/>
<polygon points="115.5,551.1 119.1,550.1 122.7,549.1 125.3,548.1 128.8,546.1 130.3,543.4 132.5,540.7 135.1,537.5 135.3,534.1 135.9,530.2 135.8,525.5 137.1,521.8 138.3,519.0 138.7,514.1 140.8,518.5 140.0,521.6 139.4,525.6 139.7,528.2 140.4,531.7 142.1,535.3 144.4,539.6 148.5,535.9 151.5,533.9 154.8,532.2 156.5,534.5 154.2,537.3 151.2,539.5 150.1,543.9 153.8,544.3 158.4,546.0 158.6,549.7 157.8,553.1 158.0,556.0 154.9,556.8 152.1,557.2 152.1,561.3 151.2,565.2 151.4,567.3 152.8,570.7 152.7,574.3 151.7,577.7 149.3,581.5 146.6,583.0 144.5,585.7 140.7,581.2 140.4,577.6 139.7,574.1 138.1,570.6 136.0,567.8 132.4,564.2 129.4,561.8 126.5,559.7 124.4,557.5 120.2,557.2 115.1,557.3 115.1,553.8" fill="none" stroke="#616161" stroke-width="1.3" stroke-linejoin="round"/>
<polygon points="156.5,546.3 160.9,544.6 163.7,543.9 167.6,544.6 172.2,546.4 175.3,545.7 178.0,544.9 181.6,546.0 184.7,546.9 187.6,544.0 190.0,541.9 193.5,542.7 196.9,544.1 196.1,546.6 196.4,550.3 196.5,553.8 195.7,556.9 196.4,560.8 196.0,563.9 195.9,567.6 196.5,570.3 192.5,569.0 189.2,566.2 184.7,564.3 181.7,562.9 179.2,559.6 174.8,559.2 171.4,558.3 168.1,557.8 163.8,556.8 160.9,557.1 156.8,555.6 156.8,551.9 156.3,548.6" fill="none" stroke="#696969" stroke-width="1.3" stroke-linejoin="round"/>
<path d="M144.9 551.2 L147.1 550.5 L149.9 551.4 L152.1 550.8 L154.5 550.6 L157.7 551.0 L159.8 550.3 L162.6 549.9 L165.9 551.1 L167.9 551.1 L171.6 552.0 L174.2 551.6 L177.0 553.1 L180.9 554.2 L183.3 557.7 L184.6 560.7 L188.0 560.6 L190.8 561.1 L193.6 561.3 L196.3 561.6" fill="none" stroke="#808080" stroke-width="2.81" stroke-linecap="round" stroke-linejoin="round"/>
<polygon points="185.4,538.7 187.1,536.5 189.5,534.5 191.8,531.3 193.4,528.4 196.3,525.4 197.1,522.7 198.6,520.3 200.2,517.5 202.0,513.3 203.3,516.6 204.7,520.4 207.0,522.8 208.1,526.3 209.7,529.1 211.8,531.6 214.5,533.8 218.4,534.1 220.6,536.1 224.7,533.4 228.4,538.2 227.8,541.1 228.1,545.5 228.2,549.9 224.3,552.1 218.9,556.3 217.6,558.8 215.5,561.0 212.6,564.2 209.9,567.5 207.8,570.1 204.3,573.0 202.1,575.4 200.3,578.3 196.6,574.0 195.2,570.7 193.1,567.5 188.9,565.5 185.0,563.5 184.6,559.6 184.6,556.4 184.6,553.1 185.5,549.1 184.4,546.7 184.5,543.0" fill="none" stroke="#666666" stroke-width="1.3" stroke-linejoin="round"/>
<polygon points="198.4,542.2 207.4,539.3 219.3,541.5 228.3,542.2 228.3,547.5 217.8,548.2 210.4,554.2 205.9,560.1 201.4,555.7 199.9,548.2" fill="#999999" stroke="#999999" stroke-width="0.8" stroke-linejoin="round"/>
<polygon points="228.9,537.6 231.5,535.4 234.0,533.3 236.5,530.2 238.7,526.7 240.4,523.9 240.7,521.6 240.9,517.8 242.1,514.9 245.2,520.4 246.0,523.1 247.9,527.8 250.5,530.6 251.6,533.9 254.6,536.4 255.8,538.0 257.6,540.3 262.8,543.8 262.3,547.3 262.4,549.8 262.7,554.0 262.4,556.6 263.1,560.3 262.8,563.7 263.0,567.2 263.2,570.3 263.0,573.3 259.7,576.6 256.4,580.0 254.5,581.4 251.6,583.9 248.5,579.4 248.4,576.8 247.4,573.2 245.8,570.0 243.5,568.3 241.7,565.1 239.1,562.9 235.6,562.1 234.9,558.5 233.3,553.6 230.8,551.9 227.6,550.4 228.8,546.0 228.5,541.1" fill="none" stroke="#666666" stroke-width="1.3" stroke-linejoin="round"/>
<polygon points="235.7,546.7 241.7,539.3 250.7,540.7 261.9,545.2 261.9,560.1 252.2,561.6 247.7,567.6 241.7,560.1 234.3,552.7" fill="#9e9e9e" stroke="#9e9e9e" stroke-width="0.8" stroke-linejoin="round"/>
<ellipse cx="46.2" cy="560.5" rx="1.10" ry="0.94" fill="#000000"/>
<ellipse cx="64.7" cy="567.1" rx="0.90" ry="0.96" fill="#292929"/>
<ellipse cx="51.7" cy="556.1" rx="0.90" ry="0.90" fill="#000000"/>
<ellipse cx="54.1" cy="559.7" rx="1.50" ry="1.73" fill="#292929"/>
<ellipse cx="60.4" cy="560.8" rx="1.80" ry="2.18" fill="#000000"/>
<ellipse cx="69.3" cy="559.9" rx="1.50" ry="1.31" fill="#000000"/>
<ellipse cx="48.5" cy="565.6" rx="2.30" ry="2.14" fill="#000000"/>
<ellipse cx="74.6" cy="563.9" rx="1.30" ry="1.53" fill="#292929"/>
<ellipse cx="56.8" cy="564.9" rx="1.10" ry="1.08" fill="#141414"/>
<ellipse cx="65.9" cy="563.5" rx="1.10" ry="1.26" fill="#000000"/>
<ellipse cx="83.3" cy="532.2" rx="1.10" ry="1.33" fill="#000000"/>
<ellipse cx="81.0" cy="540.6" rx="1.80" ry="2.33" fill="#000000"/>
<ellipse cx="75.1" cy="550.0" rx="0.90" ry="0.97" fill="#000000"/>
<ellipse cx="78.6" cy="530.6" rx="0.90" ry="0.94" fill="#292929"/>
<ellipse cx="75.2" cy="558.8" rx="1.30" ry="1.43" fill="#000000"/>
<ellipse cx="76.7" cy="546.3" rx="0.90" ry="1.01" fill="#000000"/>
<ellipse cx="78.0" cy="554.3" rx="1.50" ry="1.40" fill="#292929"/>
<ellipse cx="96.5" cy="543.8" rx="2.30" ry="2.40" fill="#000000"/>
<ellipse cx="85.9" cy="563.9" rx="1.10" ry="1.36" fill="#141414"/>
<ellipse cx="93.7" cy="566.6" rx="1.10" ry="1.28" fill="#292929"/>
<ellipse cx="92.7" cy="554.4" rx="1.10" ry="1.43" fill="#000000"/>
<ellipse cx="89.4" cy="549.9" rx="1.10" ry="1.32" fill="#141414"/>
<ellipse cx="96.7" cy="557.7" rx="1.30" ry="1.57" fill="#000000"/>
<ellipse cx="92.4" cy="558.7" rx="1.50" ry="1.81" fill="#141414"/>
<ellipse cx="93.2" cy="547.3" rx="0.90" ry="0.88" fill="#000000"/>
<ellipse cx="86.0" cy="556.6" rx="1.80" ry="1.69" fill="#000000"/>
<ellipse cx="98.8" cy="549.7" rx="2.30" ry="2.51" fill="#000000"/>
<ellipse cx="91.2" cy="542.7" rx="1.10" ry="1.06" fill="#141414"/>
<ellipse cx="89.7" cy="562.4" rx="1.10" ry="1.40" fill="#292929"/>
<ellipse cx="89.6" cy="567.8" rx="1.50" ry="1.90" fill="#141414"/>
<ellipse cx="118.8" cy="557.9" rx="2.30" ry="2.28" fill="#000000"/>
<ellipse cx="110.2" cy="558.9" rx="0.90" ry="0.83" fill="#000000"/>
<ellipse cx="123.9" cy="552.2" rx="0.90" ry="0.80" fill="#000000"/>
<ellipse cx="107.0" cy="555.2" rx="0.90" ry="0.93" fill="#141414"/>
<ellipse cx="102.8" cy="555.8" rx="0.90" ry="0.91" fill="#000000"/>
<ellipse cx="118.0" cy="551.2" rx="2.30" ry="2.09" fill="#292929"/>
<ellipse cx="126.8" cy="556.0" rx="1.30" ry="1.48" fill="#141414"/>
<ellipse cx="105.6" cy="559.1" rx="1.30" ry="1.28" fill="#141414"/>
<ellipse cx="113.7" cy="556.6" rx="0.90" ry="1.03" fill="#292929"/>
<ellipse cx="136.2" cy="566.6" rx="1.30" ry="1.40" fill="#292929"/>
<ellipse cx="141.3" cy="547.4" rx="1.80" ry="2.13" fill="#000000"/>
<ellipse cx="146.8" cy="566.9" rx="1.10" ry="1.14" fill="#000000"/>
<ellipse cx="151.4" cy="568.6" rx="1.10" ry="1.11" fill="#292929"/>
<ellipse cx="137.4" cy="537.6" rx="1.50" ry="1.45" fill="#292929"/>
<ellipse cx="135.3" cy="561.5" rx="0.90" ry="1.09" fill="#292929"/>
<ellipse cx="155.1" cy="545.4" rx="1.10" ry="1.42" fill="#000000"/>
<ellipse cx="131.5" cy="550.2" rx="1.80" ry="1.94" fill="#000000"/>
<ellipse cx="151.2" cy="554.1" rx="1.80" ry="1.96" fill="#000000"/>
<ellipse cx="125.4" cy="548.7" rx="1.50" ry="1.68" fill="#000000"/>
<ellipse cx="145.5" cy="579.5" rx="2.30" ry="2.86" fill="#292929"/>
<ellipse cx="136.0" cy="545.7" rx="1.10" ry="1.08" fill="#000000"/>
<ellipse cx="130.6" cy="558.6" rx="1.10" ry="1.35" fill="#141414"/>
<ellipse cx="145.8" cy="571.7" rx="0.90" ry="1.09" fill="#141414"/>
<ellipse cx="143.3" cy="537.9" rx="1.10" ry="1.09" fill="#292929"/>
<ellipse cx="136.1" cy="551.8" rx="1.50" ry="1.93" fill="#000000"/>
<ellipse cx="132.9" cy="541.6" rx="1.80" ry="1.87" fill="#000000"/>
<ellipse cx="147.5" cy="552.9" rx="0.90" ry="0.87" fill="#141414"/>
<ellipse cx="140.9" cy="540.8" rx="1.10" ry="1.07" fill="#000000"/>
<ellipse cx="136.7" cy="556.0" rx="1.50" ry="1.72" fill="#292929"/>
<ellipse cx="141.3" cy="562.9" rx="1.80" ry="2.31" fill="#000000"/>
<ellipse cx="132.5" cy="562.7" rx="0.90" ry="0.83" fill="#000000"/>
<ellipse cx="153.7" cy="549.2" rx="0.90" ry="0.94" fill="#000000"/>
<ellipse cx="144.5" cy="585.5" rx="1.80" ry="1.79" fill="#000000"/>
<ellipse cx="157.9" cy="548.7" rx="1.50" ry="1.67" fill="#000000"/>
<ellipse cx="140.7" cy="575.0" rx="2.30" ry="2.34" fill="#292929"/>
<ellipse cx="148.8" cy="562.1" rx="1.50" ry="1.49" fill="#000000"/>
<ellipse cx="152.6" cy="534.5" rx="1.30" ry="1.39" fill="#000000"/>
<ellipse cx="149.2" cy="543.1" rx="2.30" ry="2.54" fill="#292929"/>
<ellipse cx="147.7" cy="548.3" rx="0.90" ry="0.77" fill="#000000"/>
<ellipse cx="151.7" cy="577.3" rx="1.10" ry="1.02" fill="#000000"/>
<ellipse cx="141.1" cy="534.3" rx="1.10" ry="0.94" fill="#000000"/>
<ellipse cx="137.0" cy="528.6" rx="1.10" ry="0.99" fill="#000000"/>
<ellipse cx="131.3" cy="555.1" rx="0.90" ry="0.85" fill="#000000"/>
<ellipse cx="156.1" cy="534.0" rx="0.90" ry="0.77" fill="#000000"/>
<ellipse cx="145.5" cy="560.8" rx="0.90" ry="1.12" fill="#000000"/>
<ellipse cx="143.0" cy="557.5" rx="0.90" ry="0.78" fill="#292929"/>
<ellipse cx="130.1" cy="545.4" rx="1.10" ry="1.08" fill="#141414"/>
<ellipse cx="156.8" cy="555.8" rx="1.50" ry="1.37" fill="#000000"/>
<ellipse cx="143.4" cy="551.1" rx="0.90" ry="1.12" fill="#000000"/>
<ellipse cx="137.8" cy="520.7" rx="1.50" ry="1.94" fill="#000000"/>
<ellipse cx="149.3" cy="537.9" rx="1.30" ry="1.64" fill="#000000"/>
<ellipse cx="136.3" cy="533.4" rx="1.30" ry="1.22" fill="#000000"/>
<ellipse cx="139.3" cy="515.4" rx="1.30" ry="1.20" fill="#141414"/>
<ellipse cx="141.6" cy="569.6" rx="1.10" ry="1.24" fill="#000000"/>
<ellipse cx="152.5" cy="572.6" rx="0.90" ry="1.08" fill="#000000"/>
<ellipse cx="127.4" cy="552.4" rx="1.10" ry="1.04" fill="#141414"/>
<ellipse cx="147.1" cy="557.7" rx="0.90" ry="0.79" fill="#000000"/>
<ellipse cx="138.7" cy="560.0" rx="0.90" ry="1.01" fill="#000000"/>
<ellipse cx="140.8" cy="553.3" rx="0.90" ry="1.11" fill="#000000"/>
<ellipse cx="183.1" cy="555.5" rx="1.30" ry="1.33" fill="#000000"/>
<ellipse cx="175.5" cy="551.5" rx="2.30" ry="2.20" fill="#000000"/>
<ellipse cx="192.4" cy="560.8" rx="1.50" ry="1.60" fill="#000000"/>
<ellipse cx="194.8" cy="567.8" rx="1.50" ry="1.65" fill="#292929"/>
<ellipse cx="165.7" cy="550.5" rx="0.90" ry="0.96" fill="#000000"/>
<ellipse cx="191.8" cy="554.6" rx="0.90" ry="1.09" fill="#292929"/>
<ellipse cx="171.1" cy="547.1" rx="1.80" ry="1.84" fill="#000000"/>
<ellipse cx="180.8" cy="545.8" rx="2.30" ry="2.31" fill="#292929"/>
<ellipse cx="190.9" cy="548.3" rx="2.30" ry="2.62" fill="#141414"/>
<ellipse cx="185.8" cy="562.1" rx="1.80" ry="1.61" fill="#292929"/>
<ellipse cx="165.5" cy="545.6" rx="1.80" ry="1.89" fill="#000000"/>
<ellipse cx="170.1" cy="553.4" rx="0.90" ry="1.07" fill="#000000"/>
<ellipse cx="189.6" cy="542.4" rx="0.90" ry="1.01" fill="#000000"/>
<ellipse cx="189.3" cy="566.0" rx="0.90" ry="0.81" fill="#292929"/>
<ellipse cx="194.5" cy="543.6" rx="1.10" ry="1.37" fill="#292929"/>
<ellipse cx="180.9" cy="551.1" rx="0.90" ry="1.06" fill="#000000"/>
<ellipse cx="162.6" cy="555.0" rx="1.10" ry="1.37" fill="#000000"/>
<ellipse cx="185.7" cy="550.9" rx="1.50" ry="1.87" fill="#141414"/>
<ellipse cx="176.2" cy="557.7" rx="1.50" ry="1.37" fill="#000000"/>
<ellipse cx="161.0" cy="544.8" rx="0.90" ry="1.08" fill="#000000"/>
<ellipse cx="187.9" cy="557.1" rx="1.80" ry="1.93" fill="#000000"/>
<ellipse cx="195.4" cy="553.8" rx="0.90" ry="0.87" fill="#000000"/>
<ellipse cx="199.1" cy="553.0" rx="1.30" ry="1.37" fill="#000000"/>
<ellipse cx="193.6" cy="528.7" rx="1.10" ry="1.39" fill="#292929"/>
<ellipse cx="194.2" cy="537.4" rx="0.90" ry="0.99" fill="#000000"/>
<ellipse cx="220.0" cy="549.4" rx="1.80" ry="2.02" fill="#000000"/>
<ellipse cx="204.0" cy="527.8" rx="1.80" ry="1.89" fill="#000000"/>
<ellipse cx="206.8" cy="560.9" rx="1.80" ry="1.70" fill="#141414"/>
<ellipse cx="199.1" cy="541.8" rx="1.80" ry="1.96" fill="#000000"/>
<ellipse cx="210.0" cy="564.7" rx="0.90" ry="0.85" fill="#141414"/>
<ellipse cx="213.4" cy="546.7" rx="1.30" ry="1.57" fill="#000000"/>
<ellipse cx="227.3" cy="548.9" rx="1.30" ry="1.34" fill="#000000"/>
<ellipse cx="221.3" cy="538.0" rx="1.10" ry="1.06" fill="#292929"/>
<ellipse cx="225.8" cy="545.3" rx="1.10" ry="1.29" fill="#000000"/>
<ellipse cx="211.9" cy="541.2" rx="1.30" ry="1.47" fill="#000000"/>
<ellipse cx="204.9" cy="548.5" rx="0.90" ry="1.04" fill="#000000"/>
<ellipse cx="218.8" cy="554.9" rx="0.90" ry="0.80" fill="#141414"/>
<ellipse cx="202.7" cy="567.0" rx="1.10" ry="1.41" fill="#000000"/>
<ellipse cx="208.1" cy="568.2" rx="1.80" ry="1.97" fill="#000000"/>
<ellipse cx="204.2" cy="532.0" rx="0.90" ry="0.93" fill="#292929"/>
<ellipse cx="199.2" cy="564.3" rx="1.30" ry="1.16" fill="#000000"/>
<ellipse cx="199.2" cy="520.5" rx="1.30" ry="1.57" fill="#000000"/>
<ellipse cx="201.6" cy="571.0" rx="1.50" ry="1.40" fill="#000000"/>
<ellipse cx="217.5" cy="545.9" rx="0.90" ry="1.01" fill="#000000"/>
<ellipse cx="211.1" cy="536.6" rx="1.50" ry="1.75" fill="#000000"/>
<ellipse cx="222.0" cy="543.1" rx="1.10" ry="1.25" fill="#000000"/>
<ellipse cx="200.5" cy="546.4" rx="1.10" ry="1.23" fill="#292929"/>
<ellipse cx="201.5" cy="556.0" rx="1.10" ry="1.10" fill="#292929"/>
<ellipse cx="227.2" cy="538.8" rx="1.50" ry="1.70" fill="#000000"/>
<ellipse cx="215.6" cy="534.5" rx="1.80" ry="1.85" fill="#141414"/>
<ellipse cx="210.3" cy="549.8" rx="1.80" ry="1.63" fill="#292929"/>
<ellipse cx="213.3" cy="560.8" rx="2.30" ry="2.27" fill="#000000"/>
<ellipse cx="205.4" cy="523.8" rx="0.90" ry="0.80" fill="#292929"/>
<ellipse cx="199.8" cy="537.3" rx="0.90" ry="0.94" fill="#141414"/>
<ellipse cx="185.2" cy="543.2" rx="1.30" ry="1.28" fill="#141414"/>
<ellipse cx="210.8" cy="532.1" rx="0.90" ry="1.00" fill="#000000"/>
<ellipse cx="201.7" cy="560.2" rx="1.50" ry="1.34" fill="#000000"/>
<ellipse cx="222.0" cy="553.0" rx="1.10" ry="1.26" fill="#000000"/>
<ellipse cx="217.3" cy="540.7" rx="2.30" ry="2.55" fill="#000000"/>
<ellipse cx="202.9" cy="518.5" rx="0.90" ry="1.01" fill="#000000"/>
<ellipse cx="207.2" cy="542.9" rx="0.90" ry="1.13" fill="#000000"/>
<ellipse cx="215.4" cy="552.7" rx="1.30" ry="1.49" fill="#000000"/>
<ellipse cx="198.8" cy="527.0" rx="1.80" ry="2.18" fill="#292929"/>
<ellipse cx="200.8" cy="577.4" rx="1.50" ry="1.55" fill="#000000"/>
<ellipse cx="206.5" cy="552.4" rx="1.50" ry="1.41" fill="#000000"/>
<ellipse cx="188.1" cy="539.4" rx="1.10" ry="1.34" fill="#000000"/>
<ellipse cx="197.0" cy="572.0" rx="1.50" ry="1.63" fill="#292929"/>
<ellipse cx="195.6" cy="532.8" rx="1.80" ry="2.18" fill="#141414"/>
<ellipse cx="200.2" cy="549.6" rx="0.90" ry="1.04" fill="#000000"/>
<ellipse cx="209.1" cy="528.7" rx="1.10" ry="1.03" fill="#141414"/>
<ellipse cx="208.9" cy="556.9" rx="0.90" ry="1.08" fill="#141414"/>
<ellipse cx="197.1" cy="558.3" rx="2.30" ry="2.77" fill="#000000"/>
<ellipse cx="207.1" cy="534.6" rx="0.90" ry="1.06" fill="#141414"/>
<ellipse cx="202.8" cy="538.6" rx="0.90" ry="0.86" fill="#141414"/>
<ellipse cx="190.5" cy="533.8" rx="1.50" ry="1.52" fill="#292929"/>
<ellipse cx="206.8" cy="538.3" rx="0.90" ry="0.78" fill="#292929"/>
<ellipse cx="202.3" cy="522.0" rx="0.90" ry="0.77" fill="#292929"/>
<ellipse cx="217.1" cy="557.4" rx="0.90" ry="1.15" fill="#141414"/>
<ellipse cx="185.8" cy="547.1" rx="1.10" ry="0.98" fill="#141414"/>
<ellipse cx="196.2" cy="549.7" rx="1.80" ry="2.13" fill="#292929"/>
<ellipse cx="203.5" cy="543.9" rx="1.50" ry="1.82" fill="#141414"/>
<ellipse cx="260.7" cy="553.8" rx="0.90" ry="0.88" fill="#000000"/>
<ellipse cx="232.3" cy="547.6" rx="1.80" ry="1.75" fill="#000000"/>
<ellipse cx="245.0" cy="520.0" rx="1.30" ry="1.50" fill="#292929"/>
<ellipse cx="252.1" cy="556.4" rx="1.10" ry="0.96" fill="#000000"/>
<ellipse cx="247.8" cy="563.3" rx="1.50" ry="1.91" fill="#000000"/>
<ellipse cx="236.6" cy="554.6" rx="1.80" ry="1.63" fill="#141414"/>
<ellipse cx="245.1" cy="567.0" rx="0.90" ry="0.99" fill="#292929"/>
<ellipse cx="257.9" cy="556.2" rx="1.10" ry="1.14" fill="#141414"/>
<ellipse cx="246.2" cy="554.8" rx="2.30" ry="2.45" fill="#292929"/>
<ellipse cx="240.7" cy="541.1" rx="1.50" ry="1.49" fill="#292929"/>
<ellipse cx="252.0" cy="572.6" rx="1.80" ry="1.81" fill="#000000"/>
<ellipse cx="258.4" cy="561.2" rx="2.30" ry="2.92" fill="#000000"/>
<ellipse cx="261.6" cy="547.9" rx="0.90" ry="1.06" fill="#000000"/>
<ellipse cx="242.9" cy="536.3" rx="1.80" ry="1.76" fill="#000000"/>
<ellipse cx="239.2" cy="529.1" rx="2.30" ry="2.20" fill="#000000"/>
<ellipse cx="250.7" cy="581.9" rx="1.50" ry="1.42" fill="#292929"/>
<ellipse cx="238.7" cy="548.6" rx="2.30" ry="2.15" fill="#000000"/>
<ellipse cx="252.0" cy="566.8" rx="1.30" ry="1.50" fill="#000000"/>
<ellipse cx="243.5" cy="523.7" rx="1.30" ry="1.22" fill="#000000"/>
<ellipse cx="237.0" cy="560.7" rx="1.50" ry="1.89" fill="#141414"/>
<ellipse cx="257.0" cy="572.6" rx="0.90" ry="0.77" fill="#000000"/>
<ellipse cx="257.2" cy="552.3" rx="1.10" ry="1.16" fill="#141414"/>
<ellipse cx="231.3" cy="540.8" rx="1.10" ry="0.98" fill="#292929"/>
<ellipse cx="244.4" cy="545.8" rx="0.90" ry="0.95" fill="#000000"/>
<ellipse cx="255.7" cy="569.6" rx="1.10" ry="1.40" fill="#000000"/>
<ellipse cx="255.4" cy="577.9" rx="1.10" ry="1.27" fill="#000000"/>
<ellipse cx="250.4" cy="541.9" rx="1.30" ry="1.68" fill="#000000"/>
<ellipse cx="248.9" cy="535.6" rx="1.10" ry="1.31" fill="#141414"/>
<ellipse cx="247.8" cy="530.0" rx="2.30" ry="2.45" fill="#000000"/>
<ellipse cx="248.5" cy="546.2" rx="1.50" ry="1.90" fill="#000000"/>
<ellipse cx="243.1" cy="532.1" rx="1.10" ry="1.39" fill="#292929"/>
<ellipse cx="262.1" cy="570.6" rx="1.10" ry="1.06" fill="#292929"/>
<ellipse cx="250.9" cy="551.8" rx="0.90" ry="0.98" fill="#292929"/>
<ellipse cx="262.0" cy="543.8" rx="1.30" ry="1.63" fill="#141414"/>
<ellipse cx="252.9" cy="535.6" rx="1.10" ry="1.14" fill="#000000"/>
<ellipse cx="248.1" cy="568.1" rx="0.90" ry="0.79" fill="#000000"/>
<ellipse cx="232.7" cy="535.0" rx="1.80" ry="1.97" fill="#292929"/>
<ellipse cx="241.2" cy="558.6" rx="1.30" ry="1.56" fill="#141414"/>
<ellipse cx="245.7" cy="549.4" rx="0.90" ry="0.81" fill="#141414"/>
<ellipse cx="262.3" cy="565.0" rx="1.30" ry="1.45" fill="#292929"/>
<ellipse cx="234.4" cy="543.9" rx="1.30" ry="1.56" fill="#000000"/>
<ellipse cx="253.8" cy="553.2" rx="1.10" ry="1.12" fill="#000000"/>
<ellipse cx="251.6" cy="561.0" rx="1.50" ry="1.83" fill="#000000"/>
<ellipse cx="250.5" cy="577.2" rx="1.50" ry="1.87" fill="#000000"/>
<ellipse cx="256.6" cy="547.2" rx="1.10" ry="1.01" fill="#000000"/>
<ellipse cx="242.7" cy="563.4" rx="1.10" ry="1.39" fill="#000000"/>
<ellipse cx="246.5" cy="541.4" rx="1.30" ry="1.38" fill="#141414"/>
<ellipse cx="231.7" cy="552.3" rx="0.90" ry="0.93" fill="#000000"/>
<ellipse cx="253.6" cy="540.0" rx="0.90" ry="1.15" fill="#000000"/>
<ellipse cx="259.9" cy="575.7" rx="1.30" ry="1.20" fill="#000000"/>
<ellipse cx="252.7" cy="544.9" rx="1.10" ry="1.05" fill="#292929"/>
<ellipse cx="237.6" cy="533.5" rx="0.90" ry="0.78" fill="#292929"/>
<ellipse cx="241.9" cy="517.9" rx="0.90" ry="0.97" fill="#292929"/>
<ellipse cx="236.1" cy="539.8" rx="1.80" ry="2.04" fill="#292929"/>
<ellipse cx="241.5" cy="553.6" rx="1.30" ry="1.48" fill="#000000"/>
<ellipse cx="256.9" cy="542.7" rx="1.80" ry="2.05" fill="#292929"/>
<ellipse cx="244.4" cy="559.9" rx="0.90" ry="1.06" fill="#000000"/>
<ellipse cx="262.0" cy="558.8" rx="0.90" ry="0.86" fill="#141414"/>
<path d="M44.3 562.4 L48.0 562.5 L51.6 562.0 L54.4 562.8 L57.4 562.4 L60.9 562.1 L64.0 562.4 L66.9 562.4 L69.2 562.8 L71.8 563.1 L74.9 563.4" fill="none" stroke="#949494" stroke-width="1.27" stroke-linecap="round" stroke-linejoin="round"/>
<path d="M50.7 562.4 L52.8 562.4" fill="none" stroke="#d1d1d1" stroke-width="2.00" stroke-linecap="round" stroke-linejoin="round"/>
<path d="M62.6 562.4 L64.7 562.4" fill="none" stroke="#d1d1d1" stroke-width="2.00" stroke-linecap="round" stroke-linejoin="round"/>
<path d="M144.9 551.2 L147.6 550.9 L149.8 550.5 L153.0 550.9 L155.4 550.9 L157.9 550.4 L160.6 550.3 L163.1 550.8 L166.0 551.3 L168.5 551.6 L170.9 551.6 L174.2 551.9 L177.1 553.2 L180.7 553.9 L182.7 557.0 L185.6 559.8 L187.7 560.8 L190.5 560.6 L193.8 561.5 L196.3 561.6" fill="none" stroke="#9e9e9e" stroke-width="1.46" stroke-linecap="round" stroke-linejoin="round"/>
<path d="M145.6 548.2 L146.6 553.4" fill="none" stroke="#d9d9d9" stroke-width="2.40" stroke-linecap="round" stroke-linejoin="round"/>
<path d="M161.0 549.7 L165.0 551.2" fill="none" stroke="#b2b2b2" stroke-width="5.12" stroke-linecap="round" stroke-linejoin="round"/>
<path d="M161.0 549.7 L165.0 551.2" fill="none" stroke="#d6d6d6" stroke-width="3.72" stroke-linecap="round" stroke-linejoin="round"/>
<path d="M172.5 550.4 L175.4 553.4" fill="none" stroke="#b2b2b2" stroke-width="4.95" stroke-linecap="round" stroke-linejoin="round"/>
<path d="M172.5 550.4 L175.4 553.4" fill="none" stroke="#d6d6d6" stroke-width="3.55" stroke-linecap="round" stroke-linejoin="round"/>
<path d="M184.0 557.9 L186.3 561.6" fill="none" stroke="#d9d9d9" stroke-width="2.60" stroke-linecap="round" stroke-linejoin="round"/>
<path d="M207.4 546.0 L205.9 555.7" fill="none" stroke="#dbdbdb" stroke-width="2.40" stroke-linecap="round" stroke-linejoin="round"/>
<path d="M214.1 541.5 L216.3 542.5" fill="none" stroke="#d1d1d1" stroke-width="2.20" stroke-linecap="round" stroke-linejoin="round"/>
<path d="M231.3 548.5 L235.0 549.4" fill="none" stroke="#d9d9d9" stroke-width="2.60" stroke-linecap="round" stroke-linejoin="round"/>
<path d="M241.0 551.2 L243.1 553.2 L244.4 555.4 L246.2 559.4" fill="none" stroke="#b2b2b2" stroke-width="6.65" stroke-linecap="round" stroke-linejoin="round"/>
<path d="M241.0 551.2 L242.5 553.4 L245.0 556.0 L246.2 559.4" fill="none" stroke="#d6d6d6" stroke-width="5.25" stroke-linecap="round" stroke-linejoin="round"/>
<path d="M252.9 555.7 L253.6 553.4 L254.9 551.1 L255.9 548.1 L257.3 550.8 L258.9 552.7" fill="none" stroke="#b2b2b2" stroke-width="6.22" stroke-linecap="round" stroke-linejoin="round"/>
<path d="M252.9 555.7 L254.1 553.3 L255.1 550.9 L255.6 548.6 L257.2 550.4 L258.9 552.7" fill="none" stroke="#d6d6d6" stroke-width="4.82" stroke-linecap="round" stroke-linejoin="round"/>
<path d="M260.4 549.0 L262.6 549.7" fill="none" stroke="#b2b2b2" stroke-width="4.95" stroke-linecap="round" stroke-linejoin="round"/>
<path d="M260.4 549.0 L262.6 549.7" fill="none" stroke="#d6d6d6" stroke-width="3.55" stroke-linecap="round" stroke-linejoin="round"/>
<path d="M240.5 525.8 L241.4 530.3" fill="none" stroke="#b2b2b2" stroke-width="2.00" stroke-linecap="round" stroke-linejoin="round"/>
<path d="M161.0 549.7 L165.0 551.2" fill="none" stroke="#ffffff" stroke-width="2.72" stroke-linecap="round" stroke-linejoin="round"/>
<path d="M172.5 550.4 L175.4 553.4" fill="none" stroke="#ffffff" stroke-width="2.55" stroke-linecap="round" stroke-linejoin="round"/>
<path d="M241.0 551.2 L242.6 553.7 L244.3 555.8 L246.2 559.4" fill="none" stroke="#ffffff" stroke-width="4.25" stroke-linecap="round" stroke-linejoin="round"/>
<path d="M252.9 555.7 L253.8 553.2 L254.7 550.7 L255.8 548.3 L257.1 550.2 L258.9 552.7" fill="none" stroke="#ffffff" stroke-width="3.82" stroke-linecap="round" stroke-linejoin="round"/>
<path d="M260.4 549.0 L262.6 549.7" fill="none" stroke="#ffffff" stroke-width="2.55" stroke-linecap="round" stroke-linejoin="round"/>
</g>
</svg>
<rect x="45.5" y="471.3" width="216.00" height="163.50" fill="none" stroke="#00006a" stroke-width="0.8" stroke-opacity="0.75"/>
<line x1="45.5" y1="471.6" x2="261.5" y2="471.6" stroke="#000058" stroke-width="1.1" stroke-opacity="0.85"/>
<line x1="45.5" y1="634.8" x2="261.5" y2="634.8" stroke="#000040" stroke-width="1"/>
<line x1="67.1" y1="634.8" x2="67.1" y2="632.8" stroke="#000050" stroke-width="0.7"/>
<line x1="67.1" y1="471.3" x2="67.1" y2="473.3" stroke="#000050" stroke-width="0.7" stroke-opacity="0.7"/>
<line x1="88.7" y1="634.8" x2="88.7" y2="632.8" stroke="#000050" stroke-width="0.7"/>
<line x1="88.7" y1="471.3" x2="88.7" y2="473.3" stroke="#000050" stroke-width="0.7" stroke-opacity="0.7"/>
<line x1="110.3" y1="634.8" x2="110.3" y2="632.8" stroke="#000050" stroke-width="0.7"/>
<line x1="110.3" y1="471.3" x2="110.3" y2="473.3" stroke="#000050" stroke-width="0.7" stroke-opacity="0.7"/>
<line x1="131.9" y1="634.8" x2="131.9" y2="632.8" stroke="#000050" stroke-width="0.7"/>
<line x1="131.9" y1="471.3" x2="131.9" y2="473.3" stroke="#000050" stroke-width="0.7" stroke-opacity="0.7"/>
<line x1="153.5" y1="634.8" x2="153.5" y2="632.8" stroke="#000050" stroke-width="0.7"/>
<line x1="153.5" y1="471.3" x2="153.5" y2="473.3" stroke="#000050" stroke-width="0.7" stroke-opacity="0.7"/>
<line x1="175.1" y1="634.8" x2="175.1" y2="632.8" stroke="#000050" stroke-width="0.7"/>
<line x1="175.1" y1="471.3" x2="175.1" y2="473.3" stroke="#000050" stroke-width="0.7" stroke-opacity="0.7"/>
<line x1="196.7" y1="634.8" x2="196.7" y2="632.8" stroke="#000050" stroke-width="0.7"/>
<line x1="196.7" y1="471.3" x2="196.7" y2="473.3" stroke="#000050" stroke-width="0.7" stroke-opacity="0.7"/>
<line x1="218.3" y1="634.8" x2="218.3" y2="632.8" stroke="#000050" stroke-width="0.7"/>
<line x1="218.3" y1="471.3" x2="218.3" y2="473.3" stroke="#000050" stroke-width="0.7" stroke-opacity="0.7"/>
<line x1="239.9" y1="634.8" x2="239.9" y2="632.8" stroke="#000050" stroke-width="0.7"/>
<line x1="239.9" y1="471.3" x2="239.9" y2="473.3" stroke="#000050" stroke-width="0.7" stroke-opacity="0.7"/>
<text x="41" y="483.4" font-size="11" text-anchor="end" font-family="Liberation Sans, Arial, sans-serif" stroke="#000" stroke-width="0.3" >350</text>
<text x="41" y="499.0" font-size="11" text-anchor="end" font-family="Liberation Sans, Arial, sans-serif" stroke="#000" stroke-width="0.3" >300</text>
<text x="41" y="514.7" font-size="11" text-anchor="end" font-family="Liberation Sans, Arial, sans-serif" stroke="#000" stroke-width="0.3" >250</text>
<text x="41" y="530.1" font-size="11" text-anchor="end" font-family="Liberation Sans, Arial, sans-serif" stroke="#000" stroke-width="0.3" >200</text>
<text x="41" y="545.9" font-size="11" text-anchor="end" font-family="Liberation Sans, Arial, sans-serif" stroke="#000" stroke-width="0.3" >150</text>
<text x="41" y="563.0" font-size="11" text-anchor="end" font-family="Liberation Sans, Arial, sans-serif" stroke="#000" stroke-width="0.3" >100</text>
<text x="41" y="580.2" font-size="11" text-anchor="end" font-family="Liberation Sans, Arial, sans-serif" stroke="#000" stroke-width="0.3" >50</text>
<text x="41" y="597.3" font-size="11" text-anchor="end" font-family="Liberation Sans, Arial, sans-serif" stroke="#000" stroke-width="0.3" >0</text>
<text x="41" y="613.1" font-size="11" text-anchor="end" font-family="Liberation Sans, Arial, sans-serif" stroke="#000" stroke-width="0.3" >-50</text>
<text x="41" y="628.9" font-size="11" text-anchor="end" font-family="Liberation Sans, Arial, sans-serif" stroke="#000" stroke-width="0.3" >-100</text>
<text x="46.9" y="646.8" font-size="11" text-anchor="middle" font-family="Liberation Sans, Arial, sans-serif" stroke="#000" stroke-width="0.3" >0</text>
<text x="68.5" y="646.8" font-size="11" text-anchor="middle" font-family="Liberation Sans, Arial, sans-serif" stroke="#000" stroke-width="0.3" >0.2</text>
<text x="89.7" y="646.8" font-size="11" text-anchor="middle" font-family="Liberation Sans, Arial, sans-serif" stroke="#000" stroke-width="0.3" >0.4</text>
<text x="110.8" y="646.8" font-size="11" text-anchor="middle" font-family="Liberation Sans, Arial, sans-serif" stroke="#000" stroke-width="0.3" >0.6</text>
<text x="131.8" y="646.8" font-size="11" text-anchor="middle" font-family="Liberation Sans, Arial, sans-serif" stroke="#000" stroke-width="0.3" >0.8</text>
<text x="152.8" y="646.8" font-size="11" text-anchor="middle" font-family="Liberation Sans, Arial, sans-serif" stroke="#000" stroke-width="0.3" >1</text>
<text x="174.8" y="646.8" font-size="11" text-anchor="middle" font-family="Liberation Sans, Arial, sans-serif" stroke="#000" stroke-width="0.3" >1.2</text>
<text x="195.4" y="646.8" font-size="11" text-anchor="middle" font-family="Liberation Sans, Arial, sans-serif" stroke="#000" stroke-width="0.3" >1.4</text>
<text x="216.6" y="646.8" font-size="11" text-anchor="middle" font-family="Liberation Sans, Arial, sans-serif" stroke="#000" stroke-width="0.3" >1.6</text>
<text x="237.7" y="646.8" font-size="11" text-anchor="middle" font-family="Liberation Sans, Arial, sans-serif" stroke="#000" stroke-width="0.3" >1.8</text>
<text x="257.4" y="646.8" font-size="11" text-anchor="middle" font-family="Liberation Sans, Arial, sans-serif" stroke="#000" stroke-width="0.3" >2</text>
<text x="154.6" y="466.2" font-size="10.3" text-anchor="middle" font-family="Liberation Sans, Arial, sans-serif" stroke="#000" stroke-width="0.3" textLength="67.8" lengthAdjust="spacingAndGlyphs">micro-Doppler</text>
<text x="164.3" y="665.8" font-size="12.3" text-anchor="middle" font-family="Liberation Sans, Arial, sans-serif" stroke="#000" stroke-width="0.3" textLength="59" lengthAdjust="spacingAndGlyphs">Time (sec)</text>
<text transform="translate(8.4,551) rotate(-90)" font-size="12.5" text-anchor="middle" font-family="Liberation Sans, Arial, sans-serif" stroke="#000" stroke-width="0.3" textLength="85.5" lengthAdjust="spacingAndGlyphs">Frequency (Hz)</text>
<text x="0.5" y="464.7" font-size="15.5" font-weight="bold" font-family="Liberation Serif, Times New Roman, serif">(e)</text>
</svg>
</body></html>
